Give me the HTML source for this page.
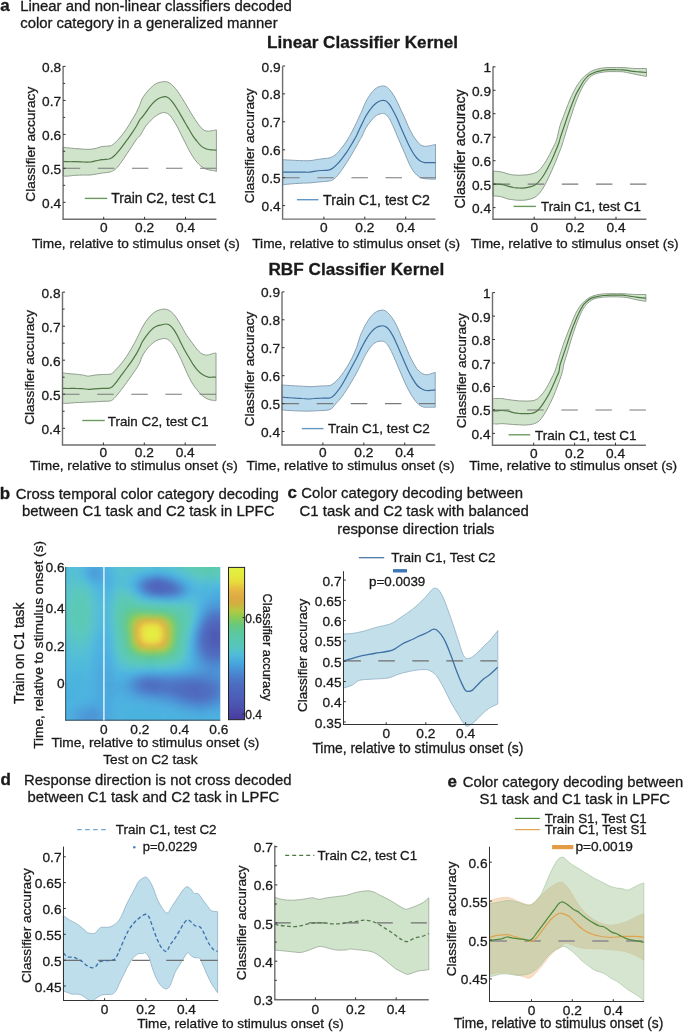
<!DOCTYPE html>
<html><head><meta charset="utf-8"><style>
html,body{margin:0;padding:0;background:#fff;}
svg{display:block;}
text{font-family:"Liberation Sans", sans-serif;fill:#1a1a1a;stroke:#1a1a1a;stroke-width:0.3px;}
</style></head><body>
<svg width="685" height="1033" viewBox="0 0 685 1033">
<rect width="685" height="1033" fill="#fff"/>
<text x="0.3" y="10.9" font-size="17" font-weight="bold">a</text>
<text x="20.2" y="10.8" font-size="14.9">Linear and non-linear classifiers decoded</text>
<text x="20.2" y="28.1" font-size="14.9">color category in a generalized manner</text>
<text x="362.5" y="48.3" font-size="17.1" text-anchor="middle" font-weight="bold">Linear Classifier Kernel</text>
<text x="356.3" y="275" font-size="17.2" text-anchor="middle" font-weight="bold">RBF Classifier Kernel</text>
<path d="M63.1,147.3C63.9,147.4 65.7,147.6 67.8,147.8C69.9,148.1 73.1,148.4 75.7,148.6C78.3,148.8 81.1,149 83.5,149.2C85.9,149.3 87.9,149.4 90.1,149.3C92.2,149.1 94.6,148.7 96.6,148.2C98.6,147.8 99.8,146.9 101.8,146.5C103.9,146.2 107.3,146.3 109,146C110.8,145.8 111.1,145.7 112.3,145C113.5,144.2 114.7,143.2 116.2,141.7C117.7,140.2 119.7,138 121.4,135.8C123.2,133.6 124.9,131.2 126.7,128.6C128.4,126 130.3,122.9 131.9,120.1C133.5,117.4 135.1,114.9 136.5,112.3C137.8,109.7 139.1,106.6 140,104.4C140.9,102.3 140.9,101.1 141.9,99.2C142.9,97.4 144.3,95.3 145.8,93.3C147.4,91.4 149.3,89.1 151.1,87.5C152.8,85.8 154.6,84.4 156.3,83.5C158,82.6 160,82.3 161.5,82C163.1,81.6 164.1,81.4 165.5,81.6C166.8,81.7 168.1,82.1 169.4,82.9C170.7,83.6 172,84.8 173.3,86.1C174.6,87.5 175.9,89 177.2,90.7C178.5,92.5 179.8,94.5 181.1,96.6C182.4,98.7 183.8,101 185.1,103.1C186.4,105.3 187.7,107.5 189,109.7C190.3,111.9 191.6,114.1 192.9,116.2C194.2,118.3 195.5,120.2 196.8,122.1C198.1,123.9 199.4,125.9 200.7,127.3C202.1,128.7 203.4,129.9 204.7,130.6C206,131.2 207.3,131.2 208.6,131.2C209.9,131.2 211.2,130.8 212.5,130.6C213.8,130.4 215.8,130 216.4,129.9L216.4,171.4C215.8,171.2 213.8,170.7 212.5,170.5C211.2,170.2 209.9,170.1 208.6,169.8C207.3,169.5 206,169.2 204.7,168.5C203.4,167.8 202.1,167 200.7,165.9C199.4,164.8 198.1,163.5 196.8,162C195.5,160.4 194.2,158.7 192.9,156.7C191.6,154.8 190.3,152.6 189,150.2C187.7,147.8 186.4,145 185.1,142.4C183.8,139.7 182.4,137.1 181.1,134.5C179.8,131.9 178.5,129.1 177.2,126.7C175.9,124.3 174.6,122.1 173.3,120.1C172,118.2 170.7,116.1 169.4,114.9C168.1,113.7 166.8,113 165.5,112.7C164.1,112.4 163.1,112.5 161.5,112.9C160,113.4 158,114.4 156.3,115.6C154.6,116.8 152.8,118.4 151.1,120.1C149.3,121.9 147.4,123.9 145.8,126C144.3,128.1 142.9,130.9 141.9,132.5C140.9,134.2 140.8,134.8 140,135.8C139.2,136.8 138.5,136.7 137.1,138.4C135.8,140.2 133.6,143.7 131.9,146.3C130.2,148.9 128.4,151.5 126.7,154.1C124.9,156.7 123.2,159.6 121.4,162C119.7,164.4 117.7,167 116.2,168.5C114.7,170 113.5,170.5 112.3,171.1C111.1,171.7 110.8,171.8 109,172.2C107.3,172.5 103.9,172.8 101.8,173.1C99.8,173.4 98.6,173.7 96.6,174C94.6,174.3 92.2,174.9 90.1,175C87.9,175.2 85.9,175 83.5,175C81.1,175.1 78.3,175.1 75.7,175.3C73.1,175.5 69.9,175.9 67.8,176.1C65.7,176.2 63.9,176.1 63.1,176.1Z" fill="#d0e3cb" stroke="#909e8d" stroke-width="1.0"/>
<line x1="63.7" y1="168.3" x2="216.4" y2="168.3" stroke="#7a7a7a" stroke-width="1.05" stroke-dasharray="16.5 17.6"/>
<path d="M63.1,161.3C63.9,161.4 65.7,161.6 67.8,161.7C69.9,161.8 73.1,161.7 75.7,161.7C78.3,161.7 81.1,161.9 83.5,162C85.9,162 87.9,162.2 90.1,162C92.2,161.7 94.6,161 96.6,160.7C98.6,160.3 99.8,159.9 101.8,159.6C103.9,159.3 107.3,159.3 109,159C110.8,158.6 111.1,158.2 112.3,157.4C113.5,156.5 114.7,155.5 116.2,153.9C117.7,152.2 119.7,149.8 121.4,147.6C123.2,145.3 124.9,142.8 126.7,140.4C128.4,138 130.3,135.6 131.9,133.2C133.5,130.8 135.1,128.3 136.5,126C137.8,123.7 139.1,120.9 140,119.5C140.9,118.1 140.9,118.7 141.9,117.5C142.9,116.3 144.3,114.4 145.8,112.3C147.4,110.2 149.3,107.2 151.1,105.1C152.8,103 154.6,101.2 156.3,99.9C158,98.6 160,97.8 161.5,97.3C163.1,96.7 164.1,96.4 165.5,96.6C166.8,96.8 168.1,97.5 169.4,98.6C170.7,99.7 172,101.4 173.3,103.1C174.6,104.9 175.9,106.9 177.2,109C178.5,111.1 179.8,113.3 181.1,115.6C182.4,117.8 183.8,120.5 185.1,122.7C186.4,125 187.7,127.1 189,129.3C190.3,131.5 191.6,133.9 192.9,135.8C194.2,137.8 195.5,139.4 196.8,141C198.1,142.7 199.4,144.4 200.7,145.6C202.1,146.8 203.4,147.6 204.7,148.2C206,148.9 207.3,149.3 208.6,149.5C209.9,149.8 211.2,149.8 212.5,149.9C213.8,150 215.8,150.2 216.4,150.2" fill="none" stroke="#4e7744" stroke-width="1.2" stroke-linejoin="round"/>
<line x1="63.1" y1="66.1" x2="63.1" y2="219.3" stroke="#6e6e6e" stroke-width="1.4"/>
<line x1="63.1" y1="202.3" x2="65.6" y2="202.3" stroke="#333" stroke-width="1"/>
<text x="61.1" y="207.8" font-size="13.7" text-anchor="end">0.4</text>
<line x1="63.1" y1="168.3" x2="65.6" y2="168.3" stroke="#333" stroke-width="1"/>
<text x="61.1" y="173.8" font-size="13.7" text-anchor="end">0.5</text>
<line x1="63.1" y1="134.4" x2="65.6" y2="134.4" stroke="#333" stroke-width="1"/>
<text x="61.1" y="139.9" font-size="13.7" text-anchor="end">0.6</text>
<line x1="63.1" y1="100.4" x2="65.6" y2="100.4" stroke="#333" stroke-width="1"/>
<text x="61.1" y="105.9" font-size="13.7" text-anchor="end">0.7</text>
<line x1="63.1" y1="66.4" x2="65.6" y2="66.4" stroke="#333" stroke-width="1"/>
<text x="61.1" y="71.9" font-size="13.7" text-anchor="end">0.8</text>
<line x1="63.1" y1="185.3" x2="65.2" y2="185.3" stroke="#333" stroke-width="1"/>
<line x1="63.1" y1="151.3" x2="65.2" y2="151.3" stroke="#333" stroke-width="1"/>
<line x1="63.1" y1="117.4" x2="65.2" y2="117.4" stroke="#333" stroke-width="1"/>
<line x1="63.1" y1="83.4" x2="65.2" y2="83.4" stroke="#333" stroke-width="1"/>
<line x1="62.4" y1="219.3" x2="216.4" y2="219.3" stroke="#6e6e6e" stroke-width="1.4"/>
<line x1="103.7" y1="219.3" x2="103.7" y2="216.8" stroke="#333" stroke-width="1"/>
<text x="103.7" y="232.4" font-size="13.7" text-anchor="middle">0</text>
<line x1="144.6" y1="219.3" x2="144.6" y2="216.8" stroke="#333" stroke-width="1"/>
<text x="144.6" y="232.4" font-size="13.7" text-anchor="middle">0.2</text>
<line x1="185.5" y1="219.3" x2="185.5" y2="216.8" stroke="#333" stroke-width="1"/>
<text x="185.5" y="232.4" font-size="13.7" text-anchor="middle">0.4</text>
<line x1="84.8" y1="198.4" x2="107.2" y2="198.4" stroke="#6c9a5e" stroke-width="1.4"/>
<text x="111.3" y="203" font-size="13.91" textLength="104.6" lengthAdjust="spacingAndGlyphs">Train C2, test C1</text>
<text x="34.6" y="144.2" font-size="13.7" text-anchor="middle" transform="rotate(-90 34.6 144.2)">Classifier accuracy</text>
<text x="135.9" y="247.6" font-size="13.7" text-anchor="middle">Time, relative to stimulus onset (s)</text>
<path d="M282.6,159.6C283.5,159.7 285.7,159.9 287.8,160C290,160.1 293.1,160.3 295.7,160.4C298.3,160.5 301.1,160.6 303.5,160.7C305.9,160.7 307.9,160.8 310.1,160.7C312.2,160.5 314.4,159.9 316.6,159.6C318.8,159.3 321.1,159 323.1,158.7C325.2,158.4 327.5,158.4 329,158C330.5,157.7 331.1,157.4 332.3,156.7C333.5,156.1 334.7,155.5 336.2,154.1C337.7,152.7 339.7,150.4 341.4,148.2C343.2,146.1 344.9,143.8 346.7,141C348.4,138.3 350.3,134.9 351.9,131.9C353.5,128.8 355.1,125.6 356.5,122.7C357.8,119.9 359.1,116.9 360,114.9C360.9,112.9 360.9,113.2 361.9,111C362.9,108.8 364.3,104.8 365.8,101.8C367.4,98.9 369.3,95.6 371.1,93.3C372.8,91 374.6,89.3 376.3,88.1C378,86.9 380,86.4 381.5,86.1C383.1,85.9 384.1,85.9 385.5,86.4C386.8,86.9 388.1,88 389.4,89.4C390.7,90.8 392,92.6 393.3,94.6C394.6,96.7 395.9,99.2 397.2,101.8C398.5,104.4 399.8,107.5 401.1,110.3C402.4,113.2 403.8,115.9 405.1,118.8C406.4,121.8 407.7,125.3 409,128C410.3,130.7 411.6,133 412.9,135.2C414.2,137.3 415.5,139.4 416.8,141C418.1,142.7 419.4,144.1 420.7,145C422.1,145.8 423.4,146.1 424.7,146.3C426,146.4 427.3,146.2 428.6,146C429.9,145.8 431.4,145.5 432.5,145.2C433.7,144.9 435,144.5 435.5,144.3L435.5,179.2C435,179.2 433.7,179.3 432.5,179.2C431.4,179.2 429.9,179 428.6,179C427.3,178.9 426,178.9 424.7,178.7C423.4,178.5 422.1,178.3 420.7,177.6C419.4,177 418.1,176.2 416.8,175C415.5,173.8 414.2,172.4 412.9,170.5C411.6,168.5 410.3,166 409,163.3C407.7,160.5 406.4,157.2 405.1,154.1C403.8,151.1 402.4,148 401.1,145C399.8,141.9 398.5,138.9 397.2,135.8C395.9,132.8 394.6,129.5 393.3,126.7C392,123.8 390.7,120.9 389.4,118.8C388.1,116.8 386.8,115.1 385.5,114.2C384.1,113.4 383.1,113.4 381.5,113.6C380,113.8 378,114.4 376.3,115.6C374.6,116.8 372.8,118.7 371.1,120.8C369.3,122.9 367.4,125.4 365.8,128C364.3,130.6 362.9,134.5 361.9,136.5C360.9,138.4 360.8,138.3 360,139.7C359.2,141.2 358.5,142.6 357.1,145C355.8,147.4 353.6,151.2 351.9,154.1C350.2,157.1 348.4,159.9 346.7,162.6C344.9,165.3 343.2,168.1 341.4,170.5C339.7,172.9 337.7,175.4 336.2,177C334.7,178.6 333.4,179.3 332.3,180C331.2,180.7 331.2,180.7 329.7,180.9C328.1,181.2 325.3,181.4 323.1,181.6C321,181.8 318.8,182 316.6,182.2C314.4,182.4 312.2,182.7 310.1,182.9C307.9,183 305.9,183 303.5,183.1C301.1,183.2 298.3,183.4 295.7,183.5C293.1,183.7 290,184 287.8,184.2C285.7,184.4 283.5,184.7 282.6,184.8Z" fill="#b9d9ec" stroke="#8aa2b4" stroke-width="1.0"/>
<line x1="283.2" y1="177.7" x2="435.5" y2="177.7" stroke="#7a7a7a" stroke-width="1.05" stroke-dasharray="16.5 17.6"/>
<path d="M282.6,172.2C283.5,172.2 285.7,172.2 287.8,172.2C290,172.2 293.1,172.2 295.7,172.2C298.3,172.2 301.4,172.2 303.5,172.2C305.7,172.2 307,172.3 308.8,172.2C310.5,172 311.8,171.7 314,171.4C316.2,171.1 319.4,170.7 321.8,170.5C324.2,170.3 326.6,170.5 328.4,170.2C330.1,169.9 331,169.3 332.3,168.5C333.6,167.7 334.7,166.8 336.2,165.2C337.7,163.7 339.7,161.5 341.4,159.3C343.2,157.2 344.9,154.8 346.7,152.2C348.4,149.5 350.3,146.4 351.9,143.7C353.5,140.9 355.1,138.4 356.5,135.8C357.8,133.2 359.1,129.9 360,128C360.9,126 360.9,126 361.9,124.1C362.9,122.1 364.3,118.8 365.8,116.2C367.4,113.6 369.3,110.5 371.1,108.4C372.8,106.2 374.6,104.4 376.3,103.1C378,101.8 380,100.9 381.5,100.5C383.1,100.1 384.1,100.1 385.5,100.8C386.8,101.4 388.1,102.7 389.4,104.4C390.7,106.1 392,108.6 393.3,111C394.6,113.4 395.9,116 397.2,118.8C398.5,121.7 399.8,124.9 401.1,128C402.4,131 403.8,134.2 405.1,137.1C406.4,140.1 407.7,143 409,145.6C410.3,148.2 411.6,150.7 412.9,152.8C414.2,154.9 415.5,156.6 416.8,158C418.1,159.5 419.4,160.5 420.7,161.3C422.1,162.1 423.4,162.4 424.7,162.6C426,162.8 427.3,162.6 428.6,162.6C429.9,162.6 431.4,162.6 432.5,162.6C433.7,162.6 435,162.6 435.5,162.6" fill="none" stroke="#3d6e9e" stroke-width="1.2" stroke-linejoin="round"/>
<line x1="282.6" y1="66.2" x2="282.6" y2="219.1" stroke="#6e6e6e" stroke-width="1.4"/>
<line x1="282.6" y1="205.6" x2="285.1" y2="205.6" stroke="#333" stroke-width="1"/>
<text x="280.6" y="211.1" font-size="13.7" text-anchor="end">0.4</text>
<line x1="282.6" y1="177.7" x2="285.1" y2="177.7" stroke="#333" stroke-width="1"/>
<text x="280.6" y="183.2" font-size="13.7" text-anchor="end">0.5</text>
<line x1="282.6" y1="149.8" x2="285.1" y2="149.8" stroke="#333" stroke-width="1"/>
<text x="280.6" y="155.3" font-size="13.7" text-anchor="end">0.6</text>
<line x1="282.6" y1="121.8" x2="285.1" y2="121.8" stroke="#333" stroke-width="1"/>
<text x="280.6" y="127.3" font-size="13.7" text-anchor="end">0.7</text>
<line x1="282.6" y1="93.9" x2="285.1" y2="93.9" stroke="#333" stroke-width="1"/>
<text x="280.6" y="99.4" font-size="13.7" text-anchor="end">0.8</text>
<line x1="282.6" y1="66" x2="285.1" y2="66" stroke="#333" stroke-width="1"/>
<text x="280.6" y="71.5" font-size="13.7" text-anchor="end">0.9</text>
<line x1="281.9" y1="219.1" x2="435.5" y2="219.1" stroke="#6e6e6e" stroke-width="1.4"/>
<line x1="323.9" y1="219.1" x2="323.9" y2="216.6" stroke="#333" stroke-width="1"/>
<text x="323.9" y="232.2" font-size="13.7" text-anchor="middle">0</text>
<line x1="364.8" y1="219.1" x2="364.8" y2="216.6" stroke="#333" stroke-width="1"/>
<text x="364.8" y="232.2" font-size="13.7" text-anchor="middle">0.2</text>
<line x1="405.7" y1="219.1" x2="405.7" y2="216.6" stroke="#333" stroke-width="1"/>
<text x="405.7" y="232.2" font-size="13.7" text-anchor="middle">0.4</text>
<line x1="296.9" y1="199.7" x2="318.5" y2="199.7" stroke="#6496c4" stroke-width="1.4"/>
<text x="323" y="204.8" font-size="14.23" textLength="107" lengthAdjust="spacingAndGlyphs">Train C1, test C2</text>
<text x="254" y="145.7" font-size="13.7" text-anchor="middle" transform="rotate(-90 254 145.7)">Classifier accuracy</text>
<text x="356.2" y="247.5" font-size="13.7" text-anchor="middle">Time, relative to stimulus onset (s)</text>
<path d="M493,171.1C493.9,171.2 496.5,171.3 498.2,171.5C499.8,171.7 501.3,171.9 502.8,172.3C504.4,172.7 505.8,173.3 507.5,173.8C509.3,174.2 511.4,174.7 513.4,175C515.3,175.2 517.3,175.3 519.2,175.3C521.1,175.3 523.1,175.2 525,175C527,174.8 529.1,174.5 530.9,174.1C532.6,173.8 534.2,173.3 535.5,172.6C536.9,172 537.9,171.4 539.1,170.3C540.2,169.2 541.4,167.8 542.6,166.2C543.7,164.6 544.9,162.9 546.1,160.9C547.2,159 548.4,156.8 549.6,154.5C550.7,152.3 551.9,150 553.1,147.5C554.2,145.1 555.4,143.6 556.6,139.9C557.7,136.3 558.8,129.8 560,125.7C561.2,121.6 562.6,118.7 563.9,115.2C565.3,111.7 566.6,108 567.9,104.7C569.2,101.4 570.5,98.3 571.8,95.5C573.1,92.6 574.5,89.9 575.8,87.6C577.1,85.3 578.4,83.4 579.7,81.7C581,79.9 582.3,78.4 583.6,77.1C585,75.8 586.3,74.8 587.6,73.8C588.9,72.8 590,71.9 591.5,71.2C593.1,70.4 594.8,69.7 596.8,69.2C598.8,68.6 601.2,68.2 603.4,67.9C605.5,67.6 607.7,67.6 609.9,67.5C612.1,67.4 614.3,67.5 616.5,67.5C618.7,67.5 620.9,67.5 623.1,67.6C625.3,67.7 627.4,68 629.6,68.1C631.8,68.3 633.4,68.5 636.2,68.5C639,68.6 644.7,68.5 646.4,68.5L646.4,76.4C644.7,76.1 639,75 636.2,74.5C633.4,73.9 631.8,73.6 629.6,73.1C627.4,72.7 625.3,72.1 623.1,71.8C620.9,71.6 618.7,71.6 616.5,71.6C614.3,71.5 612.1,71.5 609.9,71.6C607.7,71.6 605.5,71.8 603.4,72.1C601.2,72.4 598.8,72.8 596.8,73.4C594.8,74 593.1,74.7 591.5,75.8C590,76.8 588.9,78.2 587.6,79.7C586.3,81.2 585,82.8 583.6,85C582.3,87.2 581,90 579.7,92.8C578.4,95.7 577.1,98.5 575.8,102C574.5,105.5 573.1,109.9 571.8,113.9C570.5,117.8 569.2,121.5 567.9,125.7C566.6,129.9 564.9,135.8 563.9,138.8C563,141.9 563.2,141.6 562.4,144C561.6,146.4 560.1,150.3 558.9,153.4C557.7,156.4 556.6,159.3 555.4,162.1C554.2,164.9 553.1,167.7 551.9,170.3C550.7,172.9 549.6,175.5 548.4,177.9C547.2,180.3 546.1,182.7 544.9,184.9C543.7,187 542.6,189.1 541.4,190.7C540.2,192.4 539,193.7 537.9,194.8C536.8,195.9 536.1,196.5 535,197.2C533.8,197.8 532.5,198.4 530.9,198.9C529.2,199.4 527,199.8 525,200.1C523.1,200.3 521.1,200.3 519.2,200.3C517.3,200.3 515.3,200.1 513.4,199.8C511.4,199.6 509.3,199.4 507.5,198.9C505.8,198.5 504.4,197.6 502.8,197.2C501.3,196.7 499.8,196.5 498.2,196.3C496.5,196.1 493.9,196 493,196Z" fill="#d0e3cb" stroke="#909e8d" stroke-width="1.0"/>
<line x1="493.6" y1="184.1" x2="646.4" y2="184.1" stroke="#7a7a7a" stroke-width="1.05" stroke-dasharray="16.5 17.6"/>
<path d="M493,184.1C493.9,184.1 496.5,184 498.2,184.1C499.8,184.2 501.3,184.3 502.8,184.7C504.4,185 505.8,185.6 507.5,186.1C509.3,186.5 511.4,187.1 513.4,187.5C515.3,187.8 517.3,188 519.2,188C521.1,188.1 523.1,188 525,187.8C527,187.6 529.2,187.1 530.9,186.6C532.5,186.2 533.8,185.6 535,184.9C536.1,184.2 536.8,183.6 537.9,182.6C539,181.5 540.2,180 541.4,178.5C542.6,176.9 543.7,175.2 544.9,173.2C546.1,171.3 547.2,169 548.4,166.8C549.6,164.5 550.7,162.3 551.9,159.8C553.1,157.3 554.2,154.4 555.4,151.6C556.6,148.8 558.1,145 558.9,142.8C559.7,140.7 559.2,141.5 560,138.8C560.8,136.2 562.6,130.9 563.9,127C565.3,123.1 566.6,118.9 567.9,115.2C569.2,111.5 570.5,108.1 571.8,104.7C573.1,101.3 574.5,97.7 575.8,94.8C577.1,92 578.4,89.9 579.7,87.6C581,85.3 582.3,82.9 583.6,81C585,79.2 586.3,77.6 587.6,76.4C588.9,75.2 590,74.6 591.5,73.8C593.1,73 594.8,72.2 596.8,71.6C598.8,71 601.2,70.6 603.4,70.2C605.5,69.9 607.7,69.7 609.9,69.6C612.1,69.5 614.3,69.5 616.5,69.6C618.7,69.6 620.9,69.7 623.1,69.9C625.3,70.1 627.4,70.5 629.6,70.8C631.8,71.1 633.4,71.3 636.2,71.6C639,71.8 644.7,72.3 646.4,72.5" fill="none" stroke="#4e7744" stroke-width="1.2" stroke-linejoin="round"/>
<line x1="493" y1="66.4" x2="493" y2="219.2" stroke="#6e6e6e" stroke-width="1.4"/>
<line x1="493" y1="207.6" x2="495.5" y2="207.6" stroke="#333" stroke-width="1"/>
<text x="491" y="213.1" font-size="13.7" text-anchor="end">0.4</text>
<line x1="493" y1="184.1" x2="495.5" y2="184.1" stroke="#333" stroke-width="1"/>
<text x="491" y="189.6" font-size="13.7" text-anchor="end">0.5</text>
<line x1="493" y1="160.7" x2="495.5" y2="160.7" stroke="#333" stroke-width="1"/>
<text x="491" y="166.2" font-size="13.7" text-anchor="end">0.6</text>
<line x1="493" y1="137.2" x2="495.5" y2="137.2" stroke="#333" stroke-width="1"/>
<text x="491" y="142.7" font-size="13.7" text-anchor="end">0.7</text>
<line x1="493" y1="113.7" x2="495.5" y2="113.7" stroke="#333" stroke-width="1"/>
<text x="491" y="119.2" font-size="13.7" text-anchor="end">0.8</text>
<line x1="493" y1="90.3" x2="495.5" y2="90.3" stroke="#333" stroke-width="1"/>
<text x="491" y="95.8" font-size="13.7" text-anchor="end">0.9</text>
<line x1="493" y1="66.8" x2="495.5" y2="66.8" stroke="#333" stroke-width="1"/>
<text x="491" y="72.3" font-size="13.7" text-anchor="end">1</text>
<line x1="492.3" y1="219.2" x2="646.4" y2="219.2" stroke="#6e6e6e" stroke-width="1.4"/>
<line x1="534.2" y1="219.2" x2="534.2" y2="216.7" stroke="#333" stroke-width="1"/>
<text x="534.2" y="232.3" font-size="13.7" text-anchor="middle">0</text>
<line x1="575.1" y1="219.2" x2="575.1" y2="216.7" stroke="#333" stroke-width="1"/>
<text x="575.1" y="232.3" font-size="13.7" text-anchor="middle">0.2</text>
<line x1="616" y1="219.2" x2="616" y2="216.7" stroke="#333" stroke-width="1"/>
<text x="616" y="232.3" font-size="13.7" text-anchor="middle">0.4</text>
<line x1="513.6" y1="206.4" x2="535.9" y2="206.4" stroke="#6c9a5e" stroke-width="1.4"/>
<text x="541" y="211" font-size="13.3" textLength="100" lengthAdjust="spacingAndGlyphs">Train C1, test C1</text>
<text x="464.6" y="148.9" font-size="14.2" text-anchor="middle" transform="rotate(-90 464.6 148.9)">Classifier accuracy</text>
<text x="574.7" y="248.1" font-size="13.7" text-anchor="middle">Time, relative to stimulus onset (s)</text>
<path d="M62.5,372.8C63.4,373 65.6,373.4 67.8,373.6C70,373.8 73.1,373.9 75.7,374.2C78.3,374.4 81.5,374.8 83.5,375.2C85.6,375.5 86.4,376.2 88.1,376.2C89.8,376.2 91.7,375.5 94,375.2C96.3,374.9 99.3,374.7 101.8,374.5C104.3,374.4 107.3,374.5 109,374.3C110.8,374.1 111.1,374.1 112.3,373.2C113.5,372.4 114.7,370.9 116.2,369.3C117.7,367.7 119.7,365.6 121.4,363.4C123.2,361.3 124.9,358.9 126.7,356.2C128.4,353.6 130.3,350.6 131.9,347.7C133.5,344.9 135.1,341.9 136.5,339.2C137.8,336.6 139.1,333.9 140,332.1C140.9,330.2 140.9,329.9 141.9,328.1C142.9,326.4 144.3,323.8 145.8,321.6C147.4,319.4 149.3,316.8 151.1,315.1C152.8,313.3 154.6,312.1 156.3,311.1C158,310.2 160,309.8 161.5,309.4C163.1,309.1 164.1,309 165.5,309.2C166.8,309.4 168.1,309.7 169.4,310.5C170.7,311.3 172,312.3 173.3,313.8C174.6,315.2 175.9,317 177.2,319C178.5,320.9 179.8,323.2 181.1,325.5C182.4,327.8 183.8,330.5 185.1,332.7C186.4,334.9 187.7,336.7 189,338.6C190.3,340.4 191.6,342.1 192.9,343.8C194.2,345.6 195.5,347.5 196.8,349.1C198.1,350.6 199.4,352 200.7,353C202.1,354 203.4,354.6 204.7,354.9C206,355.3 207.3,355.2 208.6,354.9C209.9,354.7 211.3,354 212.5,353.6C213.7,353.3 215.4,353.1 216,353L216,400.7C215.4,400.6 213.7,400.5 212.5,400.3C211.3,400.1 209.9,399.9 208.6,399.4C207.3,398.9 206,398.3 204.7,397.4C203.4,396.5 202.1,395.5 200.7,394.2C199.4,392.8 198.1,391.2 196.8,389.6C195.5,387.9 194.2,386.4 192.9,384.3C191.6,382.3 190.3,379.8 189,377.2C187.7,374.5 186.4,371.6 185.1,368.7C183.8,365.7 182.4,362.3 181.1,359.5C179.8,356.7 178.5,354.1 177.2,351.7C175.9,349.3 174.6,347 173.3,345.1C172,343.3 170.7,341.6 169.4,340.6C168.1,339.5 166.8,338.9 165.5,338.6C164.1,338.3 163.1,338.5 161.5,338.9C160,339.2 158,339.6 156.3,340.6C154.6,341.5 152.8,342.8 151.1,344.5C149.3,346.1 147.4,348.3 145.8,350.4C144.3,352.4 142.9,354.9 141.9,356.9C140.9,358.9 140.8,360.4 140,362.1C139.2,363.9 138.5,365.2 137.1,367.4C135.8,369.5 133.6,372.7 131.9,375.2C130.2,377.7 128.4,380 126.7,382.4C124.9,384.8 123.2,387.3 121.4,389.6C119.7,391.9 117.7,394.4 116.2,396.1C114.7,397.9 113.5,399.2 112.3,400C111.1,400.9 110.5,400.9 109,401.1C107.5,401.3 105.2,401.2 103.1,401.3C101.1,401.4 98.8,401.6 96.6,401.7C94.4,401.8 92.2,401.9 90.1,402C87.9,402.1 85.9,402.1 83.5,402.3C81.1,402.4 78.3,402.5 75.7,402.6C73.1,402.8 70,403.2 67.8,403.3C65.6,403.4 63.4,403.3 62.5,403.3Z" fill="#d0e3cb" stroke="#909e8d" stroke-width="1.0"/>
<line x1="63.1" y1="394.2" x2="216" y2="394.2" stroke="#7a7a7a" stroke-width="1.05" stroke-dasharray="16.5 17.6"/>
<path d="M62.5,388.3C63.4,388.3 65.6,388.5 67.8,388.5C70,388.5 73.3,388.2 75.7,388.3C78.1,388.3 80,388.5 82.2,388.7C84.4,388.8 86.8,389.3 88.8,389.3C90.7,389.4 91.8,389.1 94,388.9C96.2,388.7 99.4,388.4 101.8,388.3C104.2,388.2 106.6,388.5 108.4,388.3C110.1,388 111,387.7 112.3,386.7C113.6,385.7 114.7,384.3 116.2,382.4C117.7,380.5 119.7,377.6 121.4,375.2C123.2,372.8 124.9,370.4 126.7,368C128.4,365.6 130.3,363.2 131.9,360.8C133.5,358.4 135.1,355.9 136.5,353.6C137.8,351.3 139.1,348.9 140,347.1C140.9,345.2 140.9,344.3 141.9,342.5C142.9,340.8 144.3,338.7 145.8,336.6C147.4,334.6 149.3,331.8 151.1,330.1C152.8,328.4 154.6,327 156.3,326.2C158,325.3 160,325.2 161.5,324.9C163.1,324.5 164.1,324 165.5,324C166.8,324 168.1,324.1 169.4,324.9C170.7,325.7 172,327 173.3,328.8C174.6,330.5 175.9,332.9 177.2,335.3C178.5,337.7 179.8,340.6 181.1,343.2C182.4,345.8 183.8,348.6 185.1,351C186.4,353.4 187.7,355.4 189,357.5C190.3,359.7 191.6,362.1 192.9,364.1C194.2,366 195.5,367.8 196.8,369.3C198.1,370.8 199.4,372.1 200.7,373.2C202.1,374.3 203.4,375.2 204.7,375.8C206,376.5 207.3,376.9 208.6,377.2C209.9,377.4 211.3,377.2 212.5,377.2C213.7,377.2 215.4,377.2 216,377.2" fill="none" stroke="#4e7744" stroke-width="1.2" stroke-linejoin="round"/>
<line x1="62.5" y1="292" x2="62.5" y2="445" stroke="#6e6e6e" stroke-width="1.4"/>
<line x1="62.5" y1="428.3" x2="65" y2="428.3" stroke="#333" stroke-width="1"/>
<text x="60.5" y="433.8" font-size="13.7" text-anchor="end">0.4</text>
<line x1="62.5" y1="394.2" x2="65" y2="394.2" stroke="#333" stroke-width="1"/>
<text x="60.5" y="399.8" font-size="13.7" text-anchor="end">0.5</text>
<line x1="62.5" y1="360.2" x2="65" y2="360.2" stroke="#333" stroke-width="1"/>
<text x="60.5" y="365.7" font-size="13.7" text-anchor="end">0.6</text>
<line x1="62.5" y1="326.2" x2="65" y2="326.2" stroke="#333" stroke-width="1"/>
<text x="60.5" y="331.7" font-size="13.7" text-anchor="end">0.7</text>
<line x1="62.5" y1="292.1" x2="65" y2="292.1" stroke="#333" stroke-width="1"/>
<text x="60.5" y="297.6" font-size="13.7" text-anchor="end">0.8</text>
<line x1="62.5" y1="411.3" x2="64.6" y2="411.3" stroke="#333" stroke-width="1"/>
<line x1="62.5" y1="377.2" x2="64.6" y2="377.2" stroke="#333" stroke-width="1"/>
<line x1="62.5" y1="343.2" x2="64.6" y2="343.2" stroke="#333" stroke-width="1"/>
<line x1="62.5" y1="309.1" x2="64.6" y2="309.1" stroke="#333" stroke-width="1"/>
<line x1="61.8" y1="445" x2="216" y2="445" stroke="#6e6e6e" stroke-width="1.4"/>
<line x1="103.4" y1="445" x2="103.4" y2="442.5" stroke="#333" stroke-width="1"/>
<text x="103.4" y="457.2" font-size="13.7" text-anchor="middle">0</text>
<line x1="144.3" y1="445" x2="144.3" y2="442.5" stroke="#333" stroke-width="1"/>
<text x="144.3" y="457.2" font-size="13.7" text-anchor="middle">0.2</text>
<line x1="185.2" y1="445" x2="185.2" y2="442.5" stroke="#333" stroke-width="1"/>
<text x="185.2" y="457.2" font-size="13.7" text-anchor="middle">0.4</text>
<line x1="82.3" y1="420.5" x2="104.7" y2="420.5" stroke="#6c9a5e" stroke-width="1.4"/>
<text x="107.8" y="425.5" font-size="13.38" textLength="100.6" lengthAdjust="spacingAndGlyphs">Train C2, test C1</text>
<text x="34" y="367.4" font-size="13.7" text-anchor="middle" transform="rotate(-90 34 367.4)">Classifier accuracy</text>
<text x="133.8" y="470.3" font-size="13.7" text-anchor="middle">Time, relative to stimulus onset (s)</text>
<path d="M282,385C283,385.1 285.6,385.2 287.8,385.4C290.1,385.5 293.1,385.8 295.7,385.9C298.3,386.1 301.1,386.2 303.5,386.3C305.9,386.4 307.9,386.7 310.1,386.7C312.2,386.7 314.4,386.4 316.6,386.3C318.8,386.2 321.1,386 323.1,385.9C325.2,385.8 327.5,385.9 329,385.7C330.5,385.4 331.1,385.1 332.3,384.3C333.5,383.6 334.7,382.6 336.2,381.1C337.7,379.6 339.7,377.5 341.4,375.2C343.2,372.9 344.9,370.2 346.7,367.4C348.4,364.5 350.3,361.5 351.9,358.2C353.5,354.9 355.1,351.3 356.5,347.7C357.8,344.2 359.1,339.2 360,336.6C360.9,334 360.9,334.1 361.9,332.1C362.9,330 364.3,326.8 365.8,324.2C367.4,321.6 369.3,318.4 371.1,316.4C372.8,314.3 374.6,312.8 376.3,311.8C378,310.8 380,310.3 381.5,310.1C383.1,309.9 384.1,310.2 385.5,310.9C386.8,311.6 388.1,313 389.4,314.4C390.7,315.9 392,317.6 393.3,319.6C394.6,321.7 395.9,324.1 397.2,326.8C398.5,329.6 399.8,332.9 401.1,336C402.4,339 403.8,342.1 405.1,345.1C406.4,348.2 407.7,351.4 409,354.3C410.3,357.1 411.6,359.7 412.9,362.1C414.2,364.5 415.5,366.9 416.8,368.7C418.1,370.4 419.4,371.6 420.7,372.6C422.1,373.6 423.4,374.2 424.7,374.5C426,374.9 427.3,374.8 428.6,374.5C429.9,374.3 431.4,373.6 432.5,373.2C433.6,372.9 434.8,372.5 435.2,372.3L435.2,407.2C434.8,407.2 433.6,407.2 432.5,407.2C431.4,407.2 429.9,407.2 428.6,407.2C427.3,407.2 426,407.4 424.7,407.2C423.4,407 422.1,406.7 420.7,405.9C419.4,405.2 418.1,404.1 416.8,402.6C415.5,401.2 414.2,399.4 412.9,397.4C411.6,395.5 410.3,393.3 409,390.9C407.7,388.5 406.4,385.9 405.1,383C403.8,380.2 402.4,376.9 401.1,373.9C399.8,370.8 398.5,367.8 397.2,364.7C395.9,361.7 394.6,358.4 393.3,355.6C392,352.8 390.7,349.9 389.4,347.7C388.1,345.6 386.8,343.6 385.5,342.5C384.1,341.4 383.1,341.3 381.5,341.2C380,341.1 378,341.3 376.3,342.1C374.6,343 372.8,344.4 371.1,346.4C369.3,348.5 367.4,351.7 365.8,354.3C364.3,356.9 362.9,360.2 361.9,362.1C360.9,364.1 360.8,364.4 360,366C359.2,367.7 358.5,369.4 357.1,371.9C355.8,374.4 353.6,378.1 351.9,381.1C350.2,384 348.4,386.9 346.7,389.6C344.9,392.3 343.2,395.1 341.4,397.4C339.7,399.7 337.7,401.6 336.2,403.3C334.7,405 333.5,406.8 332.3,407.9C331.1,409 330.5,409.4 329,409.8C327.5,410.3 325.2,410.3 323.1,410.5C321.1,410.6 318.8,410.6 316.6,410.8C314.4,410.9 312.2,411.1 310.1,411.1C307.9,411.2 305.9,411.2 303.5,411.1C301.1,411.1 298.3,410.9 295.7,410.8C293.1,410.6 290.1,410.6 287.8,410.5C285.6,410.3 283,409.9 282,409.8Z" fill="#b9d9ec" stroke="#8aa2b4" stroke-width="1.0"/>
<line x1="282.6" y1="403.6" x2="435.2" y2="403.6" stroke="#7a7a7a" stroke-width="1.05" stroke-dasharray="16.5 17.6"/>
<path d="M282,397.2C283,397.2 285.6,397.5 287.8,397.7C290.1,397.8 293.3,397.9 295.7,398.1C298.1,398.2 300,398.3 302.2,398.5C304.4,398.6 306.8,399 308.8,399C310.7,399 311.8,398.6 314,398.5C316.2,398.3 319.3,398.1 321.8,398.1C324.3,398 327.3,398.3 329,398.1C330.8,397.9 331.1,397.6 332.3,396.8C333.5,395.9 334.7,394.7 336.2,392.8C337.7,391 339.7,388.4 341.4,385.7C343.2,382.9 344.9,379.7 346.7,376.5C348.4,373.3 350.3,369.7 351.9,366.7C353.5,363.6 355.1,360.8 356.5,358.2C357.8,355.6 359.1,352.9 360,351C360.9,349.2 360.9,348.9 361.9,347.1C362.9,345.2 364.3,342.4 365.8,339.9C367.4,337.4 369.3,334.1 371.1,332.1C372.8,330 374.6,328.5 376.3,327.5C378,326.4 380,325.9 381.5,325.8C383.1,325.6 384.1,325.8 385.5,326.6C386.8,327.3 388.1,328.4 389.4,330.1C390.7,331.8 392,334.1 393.3,336.6C394.6,339.1 395.9,342.2 397.2,345.1C398.5,348.1 399.8,351.2 401.1,354.3C402.4,357.3 403.8,360.5 405.1,363.4C406.4,366.4 407.7,369.3 409,371.9C410.3,374.5 411.6,376.9 412.9,379.1C414.2,381.3 415.5,383.5 416.8,385C418.1,386.5 419.4,387.4 420.7,388.3C422.1,389.1 423.4,389.8 424.7,390.2C426,390.6 427.3,390.6 428.6,390.6C429.9,390.6 431.4,390.4 432.5,390.2C433.6,390.1 434.8,389.9 435.2,389.8" fill="none" stroke="#3d6e9e" stroke-width="1.2" stroke-linejoin="round"/>
<line x1="282" y1="292" x2="282" y2="445" stroke="#6e6e6e" stroke-width="1.4"/>
<line x1="282" y1="431.5" x2="284.5" y2="431.5" stroke="#333" stroke-width="1"/>
<text x="280" y="437" font-size="13.7" text-anchor="end">0.4</text>
<line x1="282" y1="403.6" x2="284.5" y2="403.6" stroke="#333" stroke-width="1"/>
<text x="280" y="409.1" font-size="13.7" text-anchor="end">0.5</text>
<line x1="282" y1="375.7" x2="284.5" y2="375.7" stroke="#333" stroke-width="1"/>
<text x="280" y="381.2" font-size="13.7" text-anchor="end">0.6</text>
<line x1="282" y1="347.7" x2="284.5" y2="347.7" stroke="#333" stroke-width="1"/>
<text x="280" y="353.2" font-size="13.7" text-anchor="end">0.7</text>
<line x1="282" y1="319.8" x2="284.5" y2="319.8" stroke="#333" stroke-width="1"/>
<text x="280" y="325.3" font-size="13.7" text-anchor="end">0.8</text>
<line x1="282" y1="291.9" x2="284.5" y2="291.9" stroke="#333" stroke-width="1"/>
<text x="280" y="297.4" font-size="13.7" text-anchor="end">0.9</text>
<line x1="281.3" y1="445" x2="435.2" y2="445" stroke="#6e6e6e" stroke-width="1.4"/>
<line x1="322.9" y1="445" x2="322.9" y2="442.5" stroke="#333" stroke-width="1"/>
<text x="322.9" y="457.2" font-size="13.7" text-anchor="middle">0</text>
<line x1="363.8" y1="445" x2="363.8" y2="442.5" stroke="#333" stroke-width="1"/>
<text x="363.8" y="457.2" font-size="13.7" text-anchor="middle">0.2</text>
<line x1="404.7" y1="445" x2="404.7" y2="442.5" stroke="#333" stroke-width="1"/>
<text x="404.7" y="457.2" font-size="13.7" text-anchor="middle">0.4</text>
<line x1="301.8" y1="428.6" x2="323.4" y2="428.6" stroke="#6496c4" stroke-width="1.4"/>
<text x="328" y="433.2" font-size="13.52" textLength="101.7" lengthAdjust="spacingAndGlyphs">Train C1, test C2</text>
<text x="254.2" y="369" font-size="13.7" text-anchor="middle" transform="rotate(-90 254.2 369)">Classifier accuracy</text>
<text x="350.5" y="470.4" font-size="13.7" text-anchor="middle">Time, relative to stimulus onset (s)</text>
<path d="M492.5,398.5C493.3,398.5 495.5,398.5 497,398.5C498.5,398.5 499.9,398.4 501.7,398.5C503.4,398.7 505.6,399.2 507.5,399.5C509.5,399.8 511.4,400.1 513.4,400.3C515.3,400.5 517.3,400.7 519.2,400.9C521.1,401 523.1,401.1 525,401.1C527,401.1 529.3,401 530.9,400.9C532.4,400.7 533.2,400.7 534.4,400.3C535.5,399.9 536.7,399.4 537.9,398.5C539.1,397.7 540.2,396.4 541.4,395C542.6,393.7 543.7,392.1 544.9,390.4C546.1,388.6 547.2,386.7 548.4,384.5C549.6,382.4 550.7,380 551.9,377.5C553.1,375.1 554.1,373.7 555.4,369.9C556.8,366.1 558.6,359.2 560,354.6C561.4,350.1 562.6,346.5 563.9,342.8C565.3,339.1 566.6,335.7 567.9,332.3C569.2,328.9 570.5,325.6 571.8,322.4C573.1,319.3 574.5,315.9 575.8,313.2C577.1,310.6 578.4,308.5 579.7,306.7C581,304.8 582.3,303.4 583.6,302.1C585,300.8 586.3,299.7 587.6,298.8C588.9,297.9 590,297.2 591.5,296.6C593.1,295.9 594.8,295.3 596.8,294.9C598.8,294.4 601.2,294.1 603.4,293.9C605.5,293.7 607.7,293.7 609.9,293.7C612.1,293.6 614.3,293.7 616.5,293.7C618.7,293.7 620.9,293.6 623.1,293.7C625.3,293.8 627.4,294.1 629.6,294.2C631.8,294.3 633.5,294.4 636.2,294.5C638.9,294.5 644.3,294.5 645.9,294.5L645.9,301.4C644.3,301.1 638.9,300.3 636.2,299.7C633.5,299.2 631.8,298.6 629.6,298.1C627.4,297.7 625.3,297.3 623.1,297.1C620.9,296.9 618.7,296.9 616.5,296.8C614.3,296.8 612.1,296.8 609.9,296.8C607.7,296.9 605.5,296.9 603.4,297.1C601.2,297.3 598.8,297.6 596.8,298.1C594.8,298.6 593.1,299.2 591.5,300.1C590,301 588.9,302.1 587.6,303.4C586.3,304.7 585,305.9 583.6,308C582.3,310.1 581,312.9 579.7,315.9C578.4,318.8 577.1,322.1 575.8,325.7C574.5,329.3 573.1,333.4 571.8,337.6C570.5,341.7 569.2,346.3 567.9,350.7C566.6,355.1 564.9,360.3 563.9,363.8C563,367.3 563.2,368.6 562.4,371.7C561.6,374.7 560.1,378.9 558.9,382.2C557.7,385.5 556.6,388.6 555.4,391.5C554.2,394.5 553.1,397.2 551.9,399.7C550.7,402.2 549.6,404.5 548.4,406.7C547.2,409 546.1,411.2 544.9,413.1C543.7,415.1 542.6,416.9 541.4,418.4C540.2,419.9 539.1,421 537.9,421.9C536.7,422.8 535.5,423.2 534.4,423.6C533.2,424.1 532.4,424.2 530.9,424.5C529.3,424.7 527,425 525,425.1C523.1,425.1 521.1,424.9 519.2,424.8C517.3,424.7 515.3,424.6 513.4,424.5C511.4,424.3 509.5,424.1 507.5,424C505.6,423.9 503.4,423.6 501.7,423.6C499.9,423.6 498.5,424 497,424C495.5,424 493.3,423.7 492.5,423.6Z" fill="#d0e3cb" stroke="#909e8d" stroke-width="1.0"/>
<line x1="493.1" y1="409.9" x2="645.9" y2="409.9" stroke="#7a7a7a" stroke-width="1.05" stroke-dasharray="16.5 17.6"/>
<path d="M492.5,410.8C493.3,410.8 495.5,410.9 497,410.8C498.5,410.7 499.9,410.4 501.7,410.5C503.4,410.5 505.6,410.7 507.5,411C509.5,411.4 511.4,412.1 513.4,412.6C515.3,413 517.3,413.3 519.2,413.5C521.1,413.7 523.1,413.7 525,413.7C527,413.7 529.3,413.7 530.9,413.5C532.4,413.3 533.2,413.1 534.4,412.6C535.5,412 536.7,411.3 537.9,410.2C539.1,409.1 540.2,407.7 541.4,406.1C542.6,404.6 543.7,402.7 544.9,400.9C546.1,399 547.2,397.2 548.4,395C549.6,392.9 550.7,390.6 551.9,388C553.1,385.5 554.2,382.6 555.4,379.9C556.6,377.1 558.1,374.1 558.9,371.7C559.7,369.2 559.2,368.2 560,365.1C560.8,362.1 562.6,357.3 563.9,353.3C565.3,349.4 566.6,345.4 567.9,341.5C569.2,337.6 570.5,333.3 571.8,329.7C573.1,326.1 574.5,322.9 575.8,319.8C577.1,316.8 578.4,313.8 579.7,311.3C581,308.8 582.3,306.5 583.6,304.7C585,303 586.3,301.9 587.6,300.8C588.9,299.7 590,298.8 591.5,298.1C593.1,297.4 594.8,297 596.8,296.6C598.8,296.1 601.2,295.7 603.4,295.5C605.5,295.3 607.7,295.3 609.9,295.2C612.1,295.2 614.3,295.2 616.5,295.2C618.7,295.2 620.9,295.1 623.1,295.2C625.3,295.4 627.4,295.9 629.6,296.2C631.8,296.5 633.5,296.8 636.2,297.1C638.9,297.4 644.3,298 645.9,298.1" fill="none" stroke="#4e7744" stroke-width="1.2" stroke-linejoin="round"/>
<line x1="492.5" y1="292.5" x2="492.5" y2="445.2" stroke="#6e6e6e" stroke-width="1.4"/>
<line x1="492.5" y1="433.4" x2="495" y2="433.4" stroke="#333" stroke-width="1"/>
<text x="490.5" y="438.9" font-size="13.7" text-anchor="end">0.4</text>
<line x1="492.5" y1="409.9" x2="495" y2="409.9" stroke="#333" stroke-width="1"/>
<text x="490.5" y="415.4" font-size="13.7" text-anchor="end">0.5</text>
<line x1="492.5" y1="386.5" x2="495" y2="386.5" stroke="#333" stroke-width="1"/>
<text x="490.5" y="392" font-size="13.7" text-anchor="end">0.6</text>
<line x1="492.5" y1="363" x2="495" y2="363" stroke="#333" stroke-width="1"/>
<text x="490.5" y="368.5" font-size="13.7" text-anchor="end">0.7</text>
<line x1="492.5" y1="339.5" x2="495" y2="339.5" stroke="#333" stroke-width="1"/>
<text x="490.5" y="345" font-size="13.7" text-anchor="end">0.8</text>
<line x1="492.5" y1="316.1" x2="495" y2="316.1" stroke="#333" stroke-width="1"/>
<text x="490.5" y="321.6" font-size="13.7" text-anchor="end">0.9</text>
<line x1="492.5" y1="292.6" x2="495" y2="292.6" stroke="#333" stroke-width="1"/>
<text x="490.5" y="298.1" font-size="13.7" text-anchor="end">1</text>
<line x1="491.8" y1="445.2" x2="645.9" y2="445.2" stroke="#6e6e6e" stroke-width="1.4"/>
<line x1="533.7" y1="445.2" x2="533.7" y2="442.7" stroke="#333" stroke-width="1"/>
<text x="533.7" y="457.8" font-size="13.7" text-anchor="middle">0</text>
<line x1="574.6" y1="445.2" x2="574.6" y2="442.7" stroke="#333" stroke-width="1"/>
<text x="574.6" y="457.8" font-size="13.7" text-anchor="middle">0.2</text>
<line x1="615.5" y1="445.2" x2="615.5" y2="442.7" stroke="#333" stroke-width="1"/>
<text x="615.5" y="457.8" font-size="13.7" text-anchor="middle">0.4</text>
<line x1="508.6" y1="434.8" x2="530.2" y2="434.8" stroke="#6c9a5e" stroke-width="1.4"/>
<text x="535" y="439.6" font-size="13.48" textLength="101.4" lengthAdjust="spacingAndGlyphs">Train C1, test C1</text>
<text x="466.4" y="370.7" font-size="13.7" text-anchor="middle" transform="rotate(-90 466.4 370.7)">Classifier accuracy</text>
<text x="573.2" y="470.4" font-size="13.7" text-anchor="middle">Time, relative to stimulus onset (s)</text>
<text x="-0.3" y="499" font-size="17" font-weight="bold">b</text>
<text x="15.7" y="499" font-size="14.9">Cross temporal color category decoding</text>
<text x="22" y="516" font-size="14.9">between C1 task and C2 task in LPFC</text>
<defs><clipPath id="hmclip"><rect x="65.4" y="566.9" width="154.9" height="153.7"/></clipPath><filter id="hmblur" x="-5%" y="-5%" width="110%" height="110%"><feGaussianBlur stdDeviation="2.2"/></filter></defs>
<g clip-path="url(#hmclip)"><g filter="url(#hmblur)">
<rect x="57.4" y="558.9" width="4.3" height="4.3" fill="#4cb6dc"/>
<rect x="61.4" y="558.9" width="4.3" height="4.3" fill="#4db8db"/>
<rect x="65.4" y="558.9" width="4.3" height="4.3" fill="#4eb9da"/>
<rect x="69.4" y="558.9" width="4.3" height="4.3" fill="#4fbad9"/>
<rect x="73.4" y="558.9" width="8.3" height="4.3" fill="#4fbbd9"/>
<rect x="81.4" y="558.9" width="4.3" height="4.3" fill="#4eb9da"/>
<rect x="85.4" y="558.9" width="4.3" height="4.3" fill="#4cb6dc"/>
<rect x="89.4" y="558.9" width="4.3" height="4.3" fill="#49b2df"/>
<rect x="93.4" y="558.9" width="4.3" height="4.3" fill="#48b0e0"/>
<rect x="97.4" y="558.9" width="4.3" height="4.3" fill="#48b1e0"/>
<rect x="101.4" y="558.9" width="4.3" height="4.3" fill="#4ab3de"/>
<rect x="105.4" y="558.9" width="4.3" height="4.3" fill="#4bb4dd"/>
<rect x="109.4" y="558.9" width="4.3" height="4.3" fill="#4cb7dc"/>
<rect x="113.4" y="558.9" width="4.3" height="4.3" fill="#50bcd8"/>
<rect x="117.4" y="558.9" width="4.3" height="4.3" fill="#51bed3"/>
<rect x="121.4" y="558.9" width="4.3" height="4.3" fill="#52bfd1"/>
<rect x="125.4" y="558.9" width="20.3" height="4.3" fill="#52bfd0"/>
<rect x="145.4" y="558.9" width="20.3" height="4.3" fill="#52bfd1"/>
<rect x="165.4" y="558.9" width="4.3" height="4.3" fill="#52bfd0"/>
<rect x="169.4" y="558.9" width="4.3" height="4.3" fill="#52c0ce"/>
<rect x="173.4" y="558.9" width="4.3" height="4.3" fill="#53c1cb"/>
<rect x="177.4" y="558.9" width="4.3" height="4.3" fill="#54c2c7"/>
<rect x="181.4" y="558.9" width="4.3" height="4.3" fill="#55c4c2"/>
<rect x="185.4" y="558.9" width="4.3" height="4.3" fill="#57c6bc"/>
<rect x="189.4" y="558.9" width="4.3" height="4.3" fill="#58c8b7"/>
<rect x="193.4" y="558.9" width="4.3" height="4.3" fill="#58c8b3"/>
<rect x="197.4" y="558.9" width="4.3" height="4.3" fill="#58c8b0"/>
<rect x="201.4" y="558.9" width="4.3" height="4.3" fill="#58c8ae"/>
<rect x="205.4" y="558.9" width="8.3" height="4.3" fill="#58c8ad"/>
<rect x="213.4" y="558.9" width="4.3" height="4.3" fill="#58c8ae"/>
<rect x="217.4" y="558.9" width="4.3" height="4.3" fill="#58c8b1"/>
<rect x="221.4" y="558.9" width="4.3" height="4.3" fill="#58c8b4"/>
<rect x="57.4" y="562.9" width="4.3" height="4.3" fill="#4db7db"/>
<rect x="61.4" y="562.9" width="4.3" height="4.3" fill="#4eb9da"/>
<rect x="65.4" y="562.9" width="4.3" height="4.3" fill="#4fbbd9"/>
<rect x="69.4" y="562.9" width="4.3" height="4.3" fill="#50bcd8"/>
<rect x="73.4" y="562.9" width="4.3" height="4.3" fill="#50bcd7"/>
<rect x="77.4" y="562.9" width="4.3" height="4.3" fill="#50bcd8"/>
<rect x="81.4" y="562.9" width="4.3" height="4.3" fill="#4db8db"/>
<rect x="85.4" y="562.9" width="4.3" height="4.3" fill="#4ab2de"/>
<rect x="89.4" y="562.9" width="4.3" height="4.3" fill="#48acdf"/>
<rect x="93.4" y="562.9" width="4.3" height="4.3" fill="#48a8dd"/>
<rect x="97.4" y="562.9" width="4.3" height="4.3" fill="#48acdf"/>
<rect x="101.4" y="562.9" width="4.3" height="4.3" fill="#4ab2de"/>
<rect x="105.4" y="562.9" width="4.3" height="4.3" fill="#4bb5dd"/>
<rect x="109.4" y="562.9" width="4.3" height="4.3" fill="#4db8db"/>
<rect x="113.4" y="562.9" width="4.3" height="4.3" fill="#51bdd5"/>
<rect x="117.4" y="562.9" width="4.3" height="4.3" fill="#52c0ce"/>
<rect x="121.4" y="562.9" width="4.3" height="4.3" fill="#53c0cc"/>
<rect x="125.4" y="562.9" width="8.3" height="4.3" fill="#53c1cb"/>
<rect x="133.4" y="562.9" width="4.3" height="4.3" fill="#53c1cc"/>
<rect x="137.4" y="562.9" width="4.3" height="4.3" fill="#53c0cc"/>
<rect x="141.4" y="562.9" width="4.3" height="4.3" fill="#53c0cd"/>
<rect x="145.4" y="562.9" width="4.3" height="4.3" fill="#52c0ce"/>
<rect x="149.4" y="562.9" width="16.3" height="4.3" fill="#52bfcf"/>
<rect x="165.4" y="562.9" width="4.3" height="4.3" fill="#53c0ce"/>
<rect x="169.4" y="562.9" width="4.3" height="4.3" fill="#53c1cc"/>
<rect x="173.4" y="562.9" width="4.3" height="4.3" fill="#54c2c9"/>
<rect x="177.4" y="562.9" width="4.3" height="4.3" fill="#55c3c4"/>
<rect x="181.4" y="562.9" width="4.3" height="4.3" fill="#56c5bf"/>
<rect x="185.4" y="562.9" width="4.3" height="4.3" fill="#58c8b8"/>
<rect x="189.4" y="562.9" width="4.3" height="4.3" fill="#58c8b5"/>
<rect x="193.4" y="562.9" width="4.3" height="4.3" fill="#58c8b1"/>
<rect x="197.4" y="562.9" width="4.3" height="4.3" fill="#58c8ae"/>
<rect x="201.4" y="562.9" width="4.3" height="4.3" fill="#58c8ac"/>
<rect x="205.4" y="562.9" width="4.3" height="4.3" fill="#58c8aa"/>
<rect x="209.4" y="562.9" width="4.3" height="4.3" fill="#58c8ab"/>
<rect x="213.4" y="562.9" width="4.3" height="4.3" fill="#58c8ac"/>
<rect x="217.4" y="562.9" width="4.3" height="4.3" fill="#58c8af"/>
<rect x="221.4" y="562.9" width="4.3" height="4.3" fill="#58c8b3"/>
<rect x="57.4" y="566.9" width="4.3" height="4.3" fill="#4db8db"/>
<rect x="61.4" y="566.9" width="4.3" height="4.3" fill="#4fbad9"/>
<rect x="65.4" y="566.9" width="4.3" height="4.3" fill="#50bcd8"/>
<rect x="69.4" y="566.9" width="4.3" height="4.3" fill="#51bdd6"/>
<rect x="73.4" y="566.9" width="4.3" height="4.3" fill="#51bdd5"/>
<rect x="77.4" y="566.9" width="4.3" height="4.3" fill="#50bbd8"/>
<rect x="81.4" y="566.9" width="4.3" height="4.3" fill="#4cb6dc"/>
<rect x="85.4" y="566.9" width="4.3" height="4.3" fill="#48addf"/>
<rect x="89.4" y="566.9" width="4.3" height="4.3" fill="#48a2db"/>
<rect x="93.4" y="566.9" width="4.3" height="4.3" fill="#489eda"/>
<rect x="97.4" y="566.9" width="4.3" height="4.3" fill="#48a4dc"/>
<rect x="101.4" y="566.9" width="4.3" height="4.3" fill="#48aedf"/>
<rect x="105.4" y="566.9" width="4.3" height="4.3" fill="#4ab3de"/>
<rect x="109.4" y="566.9" width="4.3" height="4.3" fill="#4db7db"/>
<rect x="113.4" y="566.9" width="4.3" height="4.3" fill="#51bdd6"/>
<rect x="117.4" y="566.9" width="4.3" height="4.3" fill="#52bfcf"/>
<rect x="121.4" y="566.9" width="8.3" height="4.3" fill="#53c0cd"/>
<rect x="129.4" y="566.9" width="4.3" height="4.3" fill="#53c0ce"/>
<rect x="133.4" y="566.9" width="4.3" height="4.3" fill="#52bfcf"/>
<rect x="137.4" y="566.9" width="4.3" height="4.3" fill="#52bfd1"/>
<rect x="141.4" y="566.9" width="4.3" height="4.3" fill="#51bed3"/>
<rect x="145.4" y="566.9" width="4.3" height="4.3" fill="#51bdd6"/>
<rect x="149.4" y="566.9" width="4.3" height="4.3" fill="#50bcd7"/>
<rect x="153.4" y="566.9" width="8.3" height="4.3" fill="#50bcd8"/>
<rect x="161.4" y="566.9" width="4.3" height="4.3" fill="#50bcd7"/>
<rect x="165.4" y="566.9" width="4.3" height="4.3" fill="#51bdd5"/>
<rect x="169.4" y="566.9" width="4.3" height="4.3" fill="#52bed2"/>
<rect x="173.4" y="566.9" width="4.3" height="4.3" fill="#53c0ce"/>
<rect x="177.4" y="566.9" width="4.3" height="4.3" fill="#54c2c9"/>
<rect x="181.4" y="566.9" width="4.3" height="4.3" fill="#55c4c3"/>
<rect x="185.4" y="566.9" width="4.3" height="4.3" fill="#57c6bc"/>
<rect x="189.4" y="566.9" width="4.3" height="4.3" fill="#58c8b7"/>
<rect x="193.4" y="566.9" width="4.3" height="4.3" fill="#58c8b3"/>
<rect x="197.4" y="566.9" width="4.3" height="4.3" fill="#58c8b0"/>
<rect x="201.4" y="566.9" width="4.3" height="4.3" fill="#58c8ae"/>
<rect x="205.4" y="566.9" width="8.3" height="4.3" fill="#58c8ad"/>
<rect x="213.4" y="566.9" width="4.3" height="4.3" fill="#58c8ae"/>
<rect x="217.4" y="566.9" width="4.3" height="4.3" fill="#58c8b1"/>
<rect x="221.4" y="566.9" width="4.3" height="4.3" fill="#58c8b4"/>
<rect x="57.4" y="570.9" width="4.3" height="4.3" fill="#4eb8da"/>
<rect x="61.4" y="570.9" width="4.3" height="4.3" fill="#4fbbd9"/>
<rect x="65.4" y="570.9" width="4.3" height="4.3" fill="#50bdd7"/>
<rect x="69.4" y="570.9" width="4.3" height="4.3" fill="#51bed4"/>
<rect x="73.4" y="570.9" width="4.3" height="4.3" fill="#51bed3"/>
<rect x="77.4" y="570.9" width="4.3" height="4.3" fill="#50bcd8"/>
<rect x="81.4" y="570.9" width="4.3" height="4.3" fill="#4cb5dc"/>
<rect x="85.4" y="570.9" width="4.3" height="4.3" fill="#48aade"/>
<rect x="89.4" y="570.9" width="4.3" height="4.3" fill="#489eda"/>
<rect x="93.4" y="570.9" width="4.3" height="4.3" fill="#4899d8"/>
<rect x="97.4" y="570.9" width="4.3" height="4.3" fill="#489fda"/>
<rect x="101.4" y="570.9" width="4.3" height="4.3" fill="#48aade"/>
<rect x="105.4" y="570.9" width="4.3" height="4.3" fill="#48b0e0"/>
<rect x="109.4" y="570.9" width="4.3" height="4.3" fill="#4bb4dd"/>
<rect x="113.4" y="570.9" width="4.3" height="4.3" fill="#4fbbd9"/>
<rect x="117.4" y="570.9" width="4.3" height="4.3" fill="#51bed3"/>
<rect x="121.4" y="570.9" width="4.3" height="4.3" fill="#52bfd1"/>
<rect x="125.4" y="570.9" width="4.3" height="4.3" fill="#51bed2"/>
<rect x="129.4" y="570.9" width="4.3" height="4.3" fill="#51bdd5"/>
<rect x="133.4" y="570.9" width="4.3" height="4.3" fill="#50bcd8"/>
<rect x="137.4" y="570.9" width="4.3" height="4.3" fill="#4eb8da"/>
<rect x="141.4" y="570.9" width="4.3" height="4.3" fill="#4bb5dd"/>
<rect x="145.4" y="570.9" width="4.3" height="4.3" fill="#49b2df"/>
<rect x="149.4" y="570.9" width="4.3" height="4.3" fill="#48afe0"/>
<rect x="153.4" y="570.9" width="8.3" height="4.3" fill="#48addf"/>
<rect x="161.4" y="570.9" width="4.3" height="4.3" fill="#48b0e0"/>
<rect x="165.4" y="570.9" width="4.3" height="4.3" fill="#4ab3de"/>
<rect x="169.4" y="570.9" width="4.3" height="4.3" fill="#4cb6dc"/>
<rect x="173.4" y="570.9" width="4.3" height="4.3" fill="#4fbad9"/>
<rect x="177.4" y="570.9" width="4.3" height="4.3" fill="#51bdd4"/>
<rect x="181.4" y="570.9" width="4.3" height="4.3" fill="#53c0cd"/>
<rect x="185.4" y="570.9" width="4.3" height="4.3" fill="#54c3c7"/>
<rect x="189.4" y="570.9" width="4.3" height="4.3" fill="#56c5c0"/>
<rect x="193.4" y="570.9" width="4.3" height="4.3" fill="#58c7ba"/>
<rect x="197.4" y="570.9" width="4.3" height="4.3" fill="#58c8b6"/>
<rect x="201.4" y="570.9" width="4.3" height="4.3" fill="#58c8b4"/>
<rect x="205.4" y="570.9" width="8.3" height="4.3" fill="#58c8b3"/>
<rect x="213.4" y="570.9" width="4.3" height="4.3" fill="#58c8b4"/>
<rect x="217.4" y="570.9" width="4.3" height="4.3" fill="#58c8b6"/>
<rect x="221.4" y="570.9" width="4.3" height="4.3" fill="#57c7ba"/>
<rect x="57.4" y="574.9" width="4.3" height="4.3" fill="#4eb9da"/>
<rect x="61.4" y="574.9" width="4.3" height="4.3" fill="#50bbd8"/>
<rect x="65.4" y="574.9" width="4.3" height="4.3" fill="#51bdd5"/>
<rect x="69.4" y="574.9" width="4.3" height="4.3" fill="#52bfd1"/>
<rect x="73.4" y="574.9" width="4.3" height="4.3" fill="#52bfd0"/>
<rect x="77.4" y="574.9" width="4.3" height="4.3" fill="#51bdd4"/>
<rect x="81.4" y="574.9" width="4.3" height="4.3" fill="#4eb8da"/>
<rect x="85.4" y="574.9" width="4.3" height="4.3" fill="#48afe0"/>
<rect x="89.4" y="574.9" width="4.3" height="4.3" fill="#48a3dc"/>
<rect x="93.4" y="574.9" width="4.3" height="4.3" fill="#489dda"/>
<rect x="97.4" y="574.9" width="4.3" height="4.3" fill="#48a1db"/>
<rect x="101.4" y="574.9" width="4.3" height="4.3" fill="#48a9de"/>
<rect x="105.4" y="574.9" width="4.3" height="4.3" fill="#48aedf"/>
<rect x="109.4" y="574.9" width="4.3" height="4.3" fill="#49b2df"/>
<rect x="113.4" y="574.9" width="4.3" height="4.3" fill="#4eb9da"/>
<rect x="117.4" y="574.9" width="4.3" height="4.3" fill="#51bdd6"/>
<rect x="121.4" y="574.9" width="4.3" height="4.3" fill="#51bdd5"/>
<rect x="125.4" y="574.9" width="4.3" height="4.3" fill="#50bcd8"/>
<rect x="129.4" y="574.9" width="4.3" height="4.3" fill="#4eb9da"/>
<rect x="133.4" y="574.9" width="4.3" height="4.3" fill="#4bb4dd"/>
<rect x="137.4" y="574.9" width="4.3" height="4.3" fill="#48addf"/>
<rect x="141.4" y="574.9" width="4.3" height="4.3" fill="#48a2db"/>
<rect x="145.4" y="574.9" width="4.3" height="4.3" fill="#4899d8"/>
<rect x="149.4" y="574.9" width="4.3" height="4.3" fill="#4991d4"/>
<rect x="153.4" y="574.9" width="4.3" height="4.3" fill="#498dd2"/>
<rect x="157.4" y="574.9" width="4.3" height="4.3" fill="#498dd3"/>
<rect x="161.4" y="574.9" width="4.3" height="4.3" fill="#4992d5"/>
<rect x="165.4" y="574.9" width="4.3" height="4.3" fill="#4899d8"/>
<rect x="169.4" y="574.9" width="4.3" height="4.3" fill="#48a2db"/>
<rect x="173.4" y="574.9" width="4.3" height="4.3" fill="#48acdf"/>
<rect x="177.4" y="574.9" width="4.3" height="4.3" fill="#4ab3de"/>
<rect x="181.4" y="574.9" width="4.3" height="4.3" fill="#4eb9da"/>
<rect x="185.4" y="574.9" width="4.3" height="4.3" fill="#51bdd4"/>
<rect x="189.4" y="574.9" width="4.3" height="4.3" fill="#53c0cd"/>
<rect x="193.4" y="574.9" width="4.3" height="4.3" fill="#54c2c7"/>
<rect x="197.4" y="574.9" width="4.3" height="4.3" fill="#55c4c3"/>
<rect x="201.4" y="574.9" width="4.3" height="4.3" fill="#56c5c0"/>
<rect x="205.4" y="574.9" width="8.3" height="4.3" fill="#56c6be"/>
<rect x="213.4" y="574.9" width="4.3" height="4.3" fill="#56c5c0"/>
<rect x="217.4" y="574.9" width="4.3" height="4.3" fill="#55c4c3"/>
<rect x="221.4" y="574.9" width="4.3" height="4.3" fill="#54c2c7"/>
<rect x="57.4" y="578.9" width="4.3" height="4.3" fill="#4fbad9"/>
<rect x="61.4" y="578.9" width="4.3" height="4.3" fill="#50bcd7"/>
<rect x="65.4" y="578.9" width="4.3" height="4.3" fill="#51bed2"/>
<rect x="69.4" y="578.9" width="4.3" height="4.3" fill="#53c0ce"/>
<rect x="73.4" y="578.9" width="4.3" height="4.3" fill="#53c1cc"/>
<rect x="77.4" y="578.9" width="4.3" height="4.3" fill="#53c0ce"/>
<rect x="81.4" y="578.9" width="4.3" height="4.3" fill="#51bdd4"/>
<rect x="85.4" y="578.9" width="4.3" height="4.3" fill="#4db7db"/>
<rect x="89.4" y="578.9" width="4.3" height="4.3" fill="#48afe0"/>
<rect x="93.4" y="578.9" width="4.3" height="4.3" fill="#48a7dd"/>
<rect x="97.4" y="578.9" width="4.3" height="4.3" fill="#48a8dd"/>
<rect x="101.4" y="578.9" width="4.3" height="4.3" fill="#48acdf"/>
<rect x="105.4" y="578.9" width="4.3" height="4.3" fill="#48aedf"/>
<rect x="109.4" y="578.9" width="4.3" height="4.3" fill="#49b2df"/>
<rect x="113.4" y="578.9" width="4.3" height="4.3" fill="#4eb9da"/>
<rect x="117.4" y="578.9" width="8.3" height="4.3" fill="#51bdd6"/>
<rect x="125.4" y="578.9" width="4.3" height="4.3" fill="#4fbbd9"/>
<rect x="129.4" y="578.9" width="4.3" height="4.3" fill="#4cb5dc"/>
<rect x="133.4" y="578.9" width="4.3" height="4.3" fill="#48acdf"/>
<rect x="137.4" y="578.9" width="4.3" height="4.3" fill="#489dda"/>
<rect x="141.4" y="578.9" width="4.3" height="4.3" fill="#498cd2"/>
<rect x="145.4" y="578.9" width="4.3" height="4.3" fill="#4a7cca"/>
<rect x="149.4" y="578.9" width="4.3" height="4.3" fill="#4b71c3"/>
<rect x="153.4" y="578.9" width="8.3" height="4.3" fill="#4c6cc0"/>
<rect x="161.4" y="578.9" width="4.3" height="4.3" fill="#4c70c3"/>
<rect x="165.4" y="578.9" width="4.3" height="4.3" fill="#4b79c8"/>
<rect x="169.4" y="578.9" width="4.3" height="4.3" fill="#4a85ce"/>
<rect x="173.4" y="578.9" width="4.3" height="4.3" fill="#4892d5"/>
<rect x="177.4" y="578.9" width="4.3" height="4.3" fill="#48a0db"/>
<rect x="181.4" y="578.9" width="4.3" height="4.3" fill="#48acdf"/>
<rect x="185.4" y="578.9" width="4.3" height="4.3" fill="#4bb5dd"/>
<rect x="189.4" y="578.9" width="4.3" height="4.3" fill="#4fbad9"/>
<rect x="193.4" y="578.9" width="4.3" height="4.3" fill="#51bdd4"/>
<rect x="197.4" y="578.9" width="4.3" height="4.3" fill="#52bfd1"/>
<rect x="201.4" y="578.9" width="4.3" height="4.3" fill="#52c0ce"/>
<rect x="205.4" y="578.9" width="8.3" height="4.3" fill="#53c0ce"/>
<rect x="213.4" y="578.9" width="4.3" height="4.3" fill="#52bfcf"/>
<rect x="217.4" y="578.9" width="4.3" height="4.3" fill="#52bfd1"/>
<rect x="221.4" y="578.9" width="4.3" height="4.3" fill="#51bed3"/>
<rect x="57.4" y="582.9" width="4.3" height="4.3" fill="#4fbbd9"/>
<rect x="61.4" y="582.9" width="4.3" height="4.3" fill="#51bdd5"/>
<rect x="65.4" y="582.9" width="4.3" height="4.3" fill="#52bfcf"/>
<rect x="69.4" y="582.9" width="4.3" height="4.3" fill="#54c1ca"/>
<rect x="73.4" y="582.9" width="4.3" height="4.3" fill="#54c3c7"/>
<rect x="77.4" y="582.9" width="4.3" height="4.3" fill="#54c3c6"/>
<rect x="81.4" y="582.9" width="4.3" height="4.3" fill="#53c1ca"/>
<rect x="85.4" y="582.9" width="4.3" height="4.3" fill="#51bed3"/>
<rect x="89.4" y="582.9" width="4.3" height="4.3" fill="#4db8db"/>
<rect x="93.4" y="582.9" width="4.3" height="4.3" fill="#49b2df"/>
<rect x="97.4" y="582.9" width="4.3" height="4.3" fill="#48b0e0"/>
<rect x="101.4" y="582.9" width="4.3" height="4.3" fill="#48b1e0"/>
<rect x="105.4" y="582.9" width="4.3" height="4.3" fill="#48b0e0"/>
<rect x="109.4" y="582.9" width="4.3" height="4.3" fill="#4ab3de"/>
<rect x="113.4" y="582.9" width="4.3" height="4.3" fill="#4fbbd9"/>
<rect x="117.4" y="582.9" width="8.3" height="4.3" fill="#51bed3"/>
<rect x="125.4" y="582.9" width="4.3" height="4.3" fill="#50bcd8"/>
<rect x="129.4" y="582.9" width="4.3" height="4.3" fill="#4bb5dd"/>
<rect x="133.4" y="582.9" width="4.3" height="4.3" fill="#48a7dd"/>
<rect x="137.4" y="582.9" width="4.3" height="4.3" fill="#4894d6"/>
<rect x="141.4" y="582.9" width="4.3" height="4.3" fill="#4a7dca"/>
<rect x="145.4" y="582.9" width="4.3" height="4.3" fill="#4c6cc0"/>
<rect x="149.4" y="582.9" width="4.3" height="4.3" fill="#4c66bd"/>
<rect x="153.4" y="582.9" width="8.3" height="4.3" fill="#4c62bb"/>
<rect x="161.4" y="582.9" width="4.3" height="4.3" fill="#4c64bc"/>
<rect x="165.4" y="582.9" width="4.3" height="4.3" fill="#4c68be"/>
<rect x="169.4" y="582.9" width="4.3" height="4.3" fill="#4c6dc0"/>
<rect x="173.4" y="582.9" width="4.3" height="4.3" fill="#4b7ac8"/>
<rect x="177.4" y="582.9" width="4.3" height="4.3" fill="#498ad1"/>
<rect x="181.4" y="582.9" width="4.3" height="4.3" fill="#489bd9"/>
<rect x="185.4" y="582.9" width="4.3" height="4.3" fill="#48aade"/>
<rect x="189.4" y="582.9" width="4.3" height="4.3" fill="#4ab3de"/>
<rect x="193.4" y="582.9" width="4.3" height="4.3" fill="#4db8db"/>
<rect x="197.4" y="582.9" width="4.3" height="4.3" fill="#4fbad9"/>
<rect x="201.4" y="582.9" width="12.3" height="4.3" fill="#4fbbd9"/>
<rect x="213.4" y="582.9" width="4.3" height="4.3" fill="#4fbad9"/>
<rect x="217.4" y="582.9" width="8.3" height="4.3" fill="#4eb9da"/>
<rect x="57.4" y="586.9" width="4.3" height="4.3" fill="#50bcd8"/>
<rect x="61.4" y="586.9" width="4.3" height="4.3" fill="#51bed2"/>
<rect x="65.4" y="586.9" width="4.3" height="4.3" fill="#53c1cc"/>
<rect x="69.4" y="586.9" width="4.3" height="4.3" fill="#55c3c6"/>
<rect x="73.4" y="586.9" width="4.3" height="4.3" fill="#56c4c2"/>
<rect x="77.4" y="586.9" width="4.3" height="4.3" fill="#56c5c0"/>
<rect x="81.4" y="586.9" width="4.3" height="4.3" fill="#56c4c2"/>
<rect x="85.4" y="586.9" width="4.3" height="4.3" fill="#54c2c8"/>
<rect x="89.4" y="586.9" width="4.3" height="4.3" fill="#51bed3"/>
<rect x="93.4" y="586.9" width="4.3" height="4.3" fill="#4db8db"/>
<rect x="97.4" y="586.9" width="4.3" height="4.3" fill="#4bb4dd"/>
<rect x="101.4" y="586.9" width="4.3" height="4.3" fill="#4ab4de"/>
<rect x="105.4" y="586.9" width="4.3" height="4.3" fill="#4ab3de"/>
<rect x="109.4" y="586.9" width="4.3" height="4.3" fill="#4cb5dc"/>
<rect x="113.4" y="586.9" width="4.3" height="4.3" fill="#51bdd6"/>
<rect x="117.4" y="586.9" width="4.3" height="4.3" fill="#53c0cd"/>
<rect x="121.4" y="586.9" width="4.3" height="4.3" fill="#53c0cc"/>
<rect x="125.4" y="586.9" width="4.3" height="4.3" fill="#51bed2"/>
<rect x="129.4" y="586.9" width="4.3" height="4.3" fill="#4db8db"/>
<rect x="133.4" y="586.9" width="4.3" height="4.3" fill="#48acdf"/>
<rect x="137.4" y="586.9" width="4.3" height="4.3" fill="#4897d7"/>
<rect x="141.4" y="586.9" width="4.3" height="4.3" fill="#4a80cc"/>
<rect x="145.4" y="586.9" width="4.3" height="4.3" fill="#4c6dc0"/>
<rect x="149.4" y="586.9" width="4.3" height="4.3" fill="#4c66bd"/>
<rect x="153.4" y="586.9" width="4.3" height="4.3" fill="#4c62bb"/>
<rect x="157.4" y="586.9" width="4.3" height="4.3" fill="#4c61bb"/>
<rect x="161.4" y="586.9" width="4.3" height="4.3" fill="#4c62bb"/>
<rect x="165.4" y="586.9" width="4.3" height="4.3" fill="#4c65bc"/>
<rect x="169.4" y="586.9" width="4.3" height="4.3" fill="#4c69be"/>
<rect x="173.4" y="586.9" width="4.3" height="4.3" fill="#4c70c2"/>
<rect x="177.4" y="586.9" width="4.3" height="4.3" fill="#4a7fcb"/>
<rect x="181.4" y="586.9" width="4.3" height="4.3" fill="#4992d5"/>
<rect x="185.4" y="586.9" width="4.3" height="4.3" fill="#48a3dc"/>
<rect x="189.4" y="586.9" width="4.3" height="4.3" fill="#48afe0"/>
<rect x="193.4" y="586.9" width="4.3" height="4.3" fill="#4bb4dd"/>
<rect x="197.4" y="586.9" width="12.3" height="4.3" fill="#4cb6dc"/>
<rect x="209.4" y="586.9" width="4.3" height="4.3" fill="#4bb5dd"/>
<rect x="213.4" y="586.9" width="8.3" height="4.3" fill="#4bb4dd"/>
<rect x="221.4" y="586.9" width="4.3" height="4.3" fill="#4ab4de"/>
<rect x="57.4" y="590.9" width="4.3" height="4.3" fill="#50bdd6"/>
<rect x="61.4" y="590.9" width="4.3" height="4.3" fill="#52bfd0"/>
<rect x="65.4" y="590.9" width="4.3" height="4.3" fill="#54c2c9"/>
<rect x="69.4" y="590.9" width="4.3" height="4.3" fill="#56c4c2"/>
<rect x="73.4" y="590.9" width="4.3" height="4.3" fill="#57c6bd"/>
<rect x="77.4" y="590.9" width="4.3" height="4.3" fill="#57c7bb"/>
<rect x="81.4" y="590.9" width="4.3" height="4.3" fill="#57c7bc"/>
<rect x="85.4" y="590.9" width="4.3" height="4.3" fill="#56c4c2"/>
<rect x="89.4" y="590.9" width="4.3" height="4.3" fill="#53c0cd"/>
<rect x="93.4" y="590.9" width="4.3" height="4.3" fill="#4fbbd9"/>
<rect x="97.4" y="590.9" width="4.3" height="4.3" fill="#4cb7dc"/>
<rect x="101.4" y="590.9" width="4.3" height="4.3" fill="#4cb6dc"/>
<rect x="105.4" y="590.9" width="4.3" height="4.3" fill="#4bb5dd"/>
<rect x="109.4" y="590.9" width="4.3" height="4.3" fill="#4db8db"/>
<rect x="113.4" y="590.9" width="4.3" height="4.3" fill="#52bfd0"/>
<rect x="117.4" y="590.9" width="4.3" height="4.3" fill="#55c3c6"/>
<rect x="121.4" y="590.9" width="4.3" height="4.3" fill="#55c4c3"/>
<rect x="125.4" y="590.9" width="4.3" height="4.3" fill="#54c2c8"/>
<rect x="129.4" y="590.9" width="4.3" height="4.3" fill="#52bed2"/>
<rect x="133.4" y="590.9" width="4.3" height="4.3" fill="#4cb6dc"/>
<rect x="137.4" y="590.9" width="4.3" height="4.3" fill="#48a7dd"/>
<rect x="141.4" y="590.9" width="4.3" height="4.3" fill="#4894d6"/>
<rect x="145.4" y="590.9" width="4.3" height="4.3" fill="#4a81cc"/>
<rect x="149.4" y="590.9" width="4.3" height="4.3" fill="#4b74c5"/>
<rect x="153.4" y="590.9" width="4.3" height="4.3" fill="#4c6cc0"/>
<rect x="157.4" y="590.9" width="8.3" height="4.3" fill="#4c6bbf"/>
<rect x="165.4" y="590.9" width="4.3" height="4.3" fill="#4c6cc0"/>
<rect x="169.4" y="590.9" width="4.3" height="4.3" fill="#4b71c3"/>
<rect x="173.4" y="590.9" width="4.3" height="4.3" fill="#4b7ac8"/>
<rect x="177.4" y="590.9" width="4.3" height="4.3" fill="#4987cf"/>
<rect x="181.4" y="590.9" width="4.3" height="4.3" fill="#4897d8"/>
<rect x="185.4" y="590.9" width="4.3" height="4.3" fill="#48a7dd"/>
<rect x="189.4" y="590.9" width="4.3" height="4.3" fill="#49b1df"/>
<rect x="193.4" y="590.9" width="4.3" height="4.3" fill="#4bb4dd"/>
<rect x="197.4" y="590.9" width="4.3" height="4.3" fill="#4bb5dd"/>
<rect x="201.4" y="590.9" width="4.3" height="4.3" fill="#4ab3de"/>
<rect x="205.4" y="590.9" width="4.3" height="4.3" fill="#49b2df"/>
<rect x="209.4" y="590.9" width="4.3" height="4.3" fill="#48b0e0"/>
<rect x="213.4" y="590.9" width="12.3" height="4.3" fill="#48afe0"/>
<rect x="57.4" y="594.9" width="4.3" height="4.3" fill="#51bdd5"/>
<rect x="61.4" y="594.9" width="4.3" height="4.3" fill="#53c0cd"/>
<rect x="65.4" y="594.9" width="4.3" height="4.3" fill="#55c3c6"/>
<rect x="69.4" y="594.9" width="4.3" height="4.3" fill="#56c6be"/>
<rect x="73.4" y="594.9" width="4.3" height="4.3" fill="#58c8b9"/>
<rect x="77.4" y="594.9" width="4.3" height="4.3" fill="#58c8b7"/>
<rect x="81.4" y="594.9" width="4.3" height="4.3" fill="#58c8b8"/>
<rect x="85.4" y="594.9" width="4.3" height="4.3" fill="#57c6bd"/>
<rect x="89.4" y="594.9" width="4.3" height="4.3" fill="#54c2c9"/>
<rect x="93.4" y="594.9" width="4.3" height="4.3" fill="#50bdd6"/>
<rect x="97.4" y="594.9" width="4.3" height="4.3" fill="#4eb8da"/>
<rect x="101.4" y="594.9" width="4.3" height="4.3" fill="#4db7db"/>
<rect x="105.4" y="594.9" width="4.3" height="4.3" fill="#4cb6dc"/>
<rect x="109.4" y="594.9" width="4.3" height="4.3" fill="#4fbad9"/>
<rect x="113.4" y="594.9" width="4.3" height="4.3" fill="#54c1ca"/>
<rect x="117.4" y="594.9" width="4.3" height="4.3" fill="#57c6bd"/>
<rect x="121.4" y="594.9" width="4.3" height="4.3" fill="#58c8b9"/>
<rect x="125.4" y="594.9" width="4.3" height="4.3" fill="#57c7bb"/>
<rect x="129.4" y="594.9" width="4.3" height="4.3" fill="#56c4c2"/>
<rect x="133.4" y="594.9" width="4.3" height="4.3" fill="#53c0cd"/>
<rect x="137.4" y="594.9" width="4.3" height="4.3" fill="#4fbad9"/>
<rect x="141.4" y="594.9" width="4.3" height="4.3" fill="#48b0e0"/>
<rect x="145.4" y="594.9" width="4.3" height="4.3" fill="#48a4dc"/>
<rect x="149.4" y="594.9" width="4.3" height="4.3" fill="#489ad9"/>
<rect x="153.4" y="594.9" width="4.3" height="4.3" fill="#4893d6"/>
<rect x="157.4" y="594.9" width="4.3" height="4.3" fill="#4990d4"/>
<rect x="161.4" y="594.9" width="4.3" height="4.3" fill="#498fd4"/>
<rect x="165.4" y="594.9" width="4.3" height="4.3" fill="#4990d4"/>
<rect x="169.4" y="594.9" width="4.3" height="4.3" fill="#4992d5"/>
<rect x="173.4" y="594.9" width="4.3" height="4.3" fill="#4897d8"/>
<rect x="177.4" y="594.9" width="4.3" height="4.3" fill="#48a0db"/>
<rect x="181.4" y="594.9" width="4.3" height="4.3" fill="#48aade"/>
<rect x="185.4" y="594.9" width="4.3" height="4.3" fill="#4ab3de"/>
<rect x="189.4" y="594.9" width="4.3" height="4.3" fill="#4cb7dc"/>
<rect x="193.4" y="594.9" width="4.3" height="4.3" fill="#4db7db"/>
<rect x="197.4" y="594.9" width="4.3" height="4.3" fill="#4bb5dd"/>
<rect x="201.4" y="594.9" width="4.3" height="4.3" fill="#49b1df"/>
<rect x="205.4" y="594.9" width="4.3" height="4.3" fill="#48aedf"/>
<rect x="209.4" y="594.9" width="4.3" height="4.3" fill="#48aade"/>
<rect x="213.4" y="594.9" width="8.3" height="4.3" fill="#48a9de"/>
<rect x="221.4" y="594.9" width="4.3" height="4.3" fill="#48aade"/>
<rect x="57.4" y="598.9" width="4.3" height="4.3" fill="#51bed3"/>
<rect x="61.4" y="598.9" width="4.3" height="4.3" fill="#53c1cc"/>
<rect x="65.4" y="598.9" width="4.3" height="4.3" fill="#55c4c3"/>
<rect x="69.4" y="598.9" width="4.3" height="4.3" fill="#57c7bb"/>
<rect x="73.4" y="598.9" width="4.3" height="4.3" fill="#58c8b7"/>
<rect x="77.4" y="598.9" width="4.3" height="4.3" fill="#58c8b5"/>
<rect x="81.4" y="598.9" width="4.3" height="4.3" fill="#58c8b6"/>
<rect x="85.4" y="598.9" width="4.3" height="4.3" fill="#58c7ba"/>
<rect x="89.4" y="598.9" width="4.3" height="4.3" fill="#55c3c6"/>
<rect x="93.4" y="598.9" width="4.3" height="4.3" fill="#51bed4"/>
<rect x="97.4" y="598.9" width="4.3" height="4.3" fill="#4ebada"/>
<rect x="101.4" y="598.9" width="4.3" height="4.3" fill="#4eb9da"/>
<rect x="105.4" y="598.9" width="4.3" height="4.3" fill="#4db8db"/>
<rect x="109.4" y="598.9" width="4.3" height="4.3" fill="#50bcd7"/>
<rect x="113.4" y="598.9" width="4.3" height="4.3" fill="#55c4c4"/>
<rect x="117.4" y="598.9" width="4.3" height="4.3" fill="#58c8b7"/>
<rect x="121.4" y="598.9" width="4.3" height="4.3" fill="#58c8b3"/>
<rect x="125.4" y="598.9" width="4.3" height="4.3" fill="#58c8b2"/>
<rect x="129.4" y="598.9" width="4.3" height="4.3" fill="#58c8b4"/>
<rect x="133.4" y="598.9" width="4.3" height="4.3" fill="#58c8b8"/>
<rect x="137.4" y="598.9" width="4.3" height="4.3" fill="#56c5c1"/>
<rect x="141.4" y="598.9" width="4.3" height="4.3" fill="#53c1ca"/>
<rect x="145.4" y="598.9" width="4.3" height="4.3" fill="#51bed3"/>
<rect x="149.4" y="598.9" width="4.3" height="4.3" fill="#50bbd8"/>
<rect x="153.4" y="598.9" width="4.3" height="4.3" fill="#4eb9da"/>
<rect x="157.4" y="598.9" width="4.3" height="4.3" fill="#4db7db"/>
<rect x="161.4" y="598.9" width="12.3" height="4.3" fill="#4cb6dc"/>
<rect x="173.4" y="598.9" width="4.3" height="4.3" fill="#4cb7dc"/>
<rect x="177.4" y="598.9" width="4.3" height="4.3" fill="#4eb9da"/>
<rect x="181.4" y="598.9" width="4.3" height="4.3" fill="#50bcd8"/>
<rect x="185.4" y="598.9" width="8.3" height="4.3" fill="#51bdd5"/>
<rect x="193.4" y="598.9" width="4.3" height="4.3" fill="#4fbad9"/>
<rect x="197.4" y="598.9" width="4.3" height="4.3" fill="#4cb5dc"/>
<rect x="201.4" y="598.9" width="4.3" height="4.3" fill="#48afe0"/>
<rect x="205.4" y="598.9" width="4.3" height="4.3" fill="#48a8dd"/>
<rect x="209.4" y="598.9" width="4.3" height="4.3" fill="#48a3dc"/>
<rect x="213.4" y="598.9" width="8.3" height="4.3" fill="#48a1db"/>
<rect x="221.4" y="598.9" width="4.3" height="4.3" fill="#48a3dc"/>
<rect x="57.4" y="602.9" width="4.3" height="4.3" fill="#51bed2"/>
<rect x="61.4" y="602.9" width="4.3" height="4.3" fill="#53c1ca"/>
<rect x="65.4" y="602.9" width="4.3" height="4.3" fill="#56c4c1"/>
<rect x="69.4" y="602.9" width="4.3" height="4.3" fill="#58c8b9"/>
<rect x="73.4" y="602.9" width="4.3" height="4.3" fill="#58c8b6"/>
<rect x="77.4" y="602.9" width="8.3" height="4.3" fill="#58c8b4"/>
<rect x="85.4" y="602.9" width="4.3" height="4.3" fill="#58c8b8"/>
<rect x="89.4" y="602.9" width="4.3" height="4.3" fill="#55c4c4"/>
<rect x="93.4" y="602.9" width="4.3" height="4.3" fill="#51bed2"/>
<rect x="97.4" y="602.9" width="4.3" height="4.3" fill="#4fbbd9"/>
<rect x="101.4" y="602.9" width="4.3" height="4.3" fill="#4ebada"/>
<rect x="105.4" y="602.9" width="4.3" height="4.3" fill="#4eb9da"/>
<rect x="109.4" y="602.9" width="4.3" height="4.3" fill="#51bed4"/>
<rect x="113.4" y="602.9" width="4.3" height="4.3" fill="#56c5bf"/>
<rect x="117.4" y="602.9" width="4.3" height="4.3" fill="#58c8b3"/>
<rect x="121.4" y="602.9" width="4.3" height="4.3" fill="#58c8ae"/>
<rect x="125.4" y="602.9" width="8.3" height="4.3" fill="#58c8ab"/>
<rect x="133.4" y="602.9" width="4.3" height="4.3" fill="#58c8ad"/>
<rect x="137.4" y="602.9" width="4.3" height="4.3" fill="#58c8af"/>
<rect x="141.4" y="602.9" width="4.3" height="4.3" fill="#58c8b2"/>
<rect x="145.4" y="602.9" width="4.3" height="4.3" fill="#58c8b5"/>
<rect x="149.4" y="602.9" width="4.3" height="4.3" fill="#58c8b6"/>
<rect x="153.4" y="602.9" width="4.3" height="4.3" fill="#58c8b8"/>
<rect x="157.4" y="602.9" width="4.3" height="4.3" fill="#58c8b9"/>
<rect x="161.4" y="602.9" width="4.3" height="4.3" fill="#57c7ba"/>
<rect x="165.4" y="602.9" width="4.3" height="4.3" fill="#57c6bc"/>
<rect x="169.4" y="602.9" width="4.3" height="4.3" fill="#56c5bf"/>
<rect x="173.4" y="602.9" width="4.3" height="4.3" fill="#56c5c1"/>
<rect x="177.4" y="602.9" width="4.3" height="4.3" fill="#55c4c2"/>
<rect x="181.4" y="602.9" width="4.3" height="4.3" fill="#55c4c3"/>
<rect x="185.4" y="602.9" width="4.3" height="4.3" fill="#55c3c6"/>
<rect x="189.4" y="602.9" width="4.3" height="4.3" fill="#53c1cc"/>
<rect x="193.4" y="602.9" width="4.3" height="4.3" fill="#51bdd6"/>
<rect x="197.4" y="602.9" width="4.3" height="4.3" fill="#4bb5dd"/>
<rect x="201.4" y="602.9" width="4.3" height="4.3" fill="#48abde"/>
<rect x="205.4" y="602.9" width="4.3" height="4.3" fill="#48a1db"/>
<rect x="209.4" y="602.9" width="4.3" height="4.3" fill="#489ad9"/>
<rect x="213.4" y="602.9" width="4.3" height="4.3" fill="#4897d8"/>
<rect x="217.4" y="602.9" width="4.3" height="4.3" fill="#4898d8"/>
<rect x="221.4" y="602.9" width="4.3" height="4.3" fill="#489ad9"/>
<rect x="57.4" y="606.9" width="4.3" height="4.3" fill="#52bed2"/>
<rect x="61.4" y="606.9" width="4.3" height="4.3" fill="#54c2c9"/>
<rect x="65.4" y="606.9" width="4.3" height="4.3" fill="#56c5c0"/>
<rect x="69.4" y="606.9" width="4.3" height="4.3" fill="#58c8b8"/>
<rect x="73.4" y="606.9" width="4.3" height="4.3" fill="#58c8b5"/>
<rect x="77.4" y="606.9" width="4.3" height="4.3" fill="#58c8b3"/>
<rect x="81.4" y="606.9" width="4.3" height="4.3" fill="#58c8b4"/>
<rect x="85.4" y="606.9" width="4.3" height="4.3" fill="#58c8b7"/>
<rect x="89.4" y="606.9" width="4.3" height="4.3" fill="#55c4c2"/>
<rect x="93.4" y="606.9" width="4.3" height="4.3" fill="#52bfd1"/>
<rect x="97.4" y="606.9" width="4.3" height="4.3" fill="#4fbbd9"/>
<rect x="101.4" y="606.9" width="8.3" height="4.3" fill="#4fbad9"/>
<rect x="109.4" y="606.9" width="4.3" height="4.3" fill="#52bed1"/>
<rect x="113.4" y="606.9" width="4.3" height="4.3" fill="#57c7ba"/>
<rect x="117.4" y="606.9" width="4.3" height="4.3" fill="#58c8af"/>
<rect x="121.4" y="606.9" width="4.3" height="4.3" fill="#58c8a9"/>
<rect x="125.4" y="606.9" width="4.3" height="4.3" fill="#5ac8a0"/>
<rect x="129.4" y="606.9" width="4.3" height="4.3" fill="#5bc89c"/>
<rect x="133.4" y="606.9" width="4.3" height="4.3" fill="#5bc89a"/>
<rect x="137.4" y="606.9" width="4.3" height="4.3" fill="#5bc89c"/>
<rect x="141.4" y="606.9" width="4.3" height="4.3" fill="#5ac89f"/>
<rect x="145.4" y="606.9" width="4.3" height="4.3" fill="#5ac8a2"/>
<rect x="149.4" y="606.9" width="4.3" height="4.3" fill="#59c8a4"/>
<rect x="153.4" y="606.9" width="4.3" height="4.3" fill="#59c8a6"/>
<rect x="157.4" y="606.9" width="4.3" height="4.3" fill="#58c8a7"/>
<rect x="161.4" y="606.9" width="4.3" height="4.3" fill="#58c8a9"/>
<rect x="165.4" y="606.9" width="4.3" height="4.3" fill="#58c8aa"/>
<rect x="169.4" y="606.9" width="4.3" height="4.3" fill="#58c8ad"/>
<rect x="173.4" y="606.9" width="4.3" height="4.3" fill="#58c8b0"/>
<rect x="177.4" y="606.9" width="4.3" height="4.3" fill="#58c8b3"/>
<rect x="181.4" y="606.9" width="4.3" height="4.3" fill="#58c8b6"/>
<rect x="185.4" y="606.9" width="4.3" height="4.3" fill="#57c7ba"/>
<rect x="189.4" y="606.9" width="4.3" height="4.3" fill="#55c3c5"/>
<rect x="193.4" y="606.9" width="4.3" height="4.3" fill="#51bed4"/>
<rect x="197.4" y="606.9" width="4.3" height="4.3" fill="#4ab3de"/>
<rect x="201.4" y="606.9" width="4.3" height="4.3" fill="#48a5dc"/>
<rect x="205.4" y="606.9" width="4.3" height="4.3" fill="#4898d8"/>
<rect x="209.4" y="606.9" width="4.3" height="4.3" fill="#498fd3"/>
<rect x="213.4" y="606.9" width="4.3" height="4.3" fill="#498bd1"/>
<rect x="217.4" y="606.9" width="4.3" height="4.3" fill="#498bd2"/>
<rect x="221.4" y="606.9" width="4.3" height="4.3" fill="#498fd4"/>
<rect x="57.4" y="610.9" width="4.3" height="4.3" fill="#52bed2"/>
<rect x="61.4" y="610.9" width="4.3" height="4.3" fill="#54c2c9"/>
<rect x="65.4" y="610.9" width="4.3" height="4.3" fill="#56c5c0"/>
<rect x="69.4" y="610.9" width="4.3" height="4.3" fill="#58c8b8"/>
<rect x="73.4" y="610.9" width="4.3" height="4.3" fill="#58c8b4"/>
<rect x="77.4" y="610.9" width="8.3" height="4.3" fill="#58c8b3"/>
<rect x="85.4" y="610.9" width="4.3" height="4.3" fill="#58c8b7"/>
<rect x="89.4" y="610.9" width="4.3" height="4.3" fill="#55c4c2"/>
<rect x="93.4" y="610.9" width="4.3" height="4.3" fill="#52bfd1"/>
<rect x="97.4" y="610.9" width="4.3" height="4.3" fill="#4fbbd9"/>
<rect x="101.4" y="610.9" width="8.3" height="4.3" fill="#4fbad9"/>
<rect x="109.4" y="610.9" width="4.3" height="4.3" fill="#52bfd0"/>
<rect x="113.4" y="610.9" width="4.3" height="4.3" fill="#58c8b8"/>
<rect x="117.4" y="610.9" width="4.3" height="4.3" fill="#58c8ad"/>
<rect x="121.4" y="610.9" width="4.3" height="4.3" fill="#5ac8a1"/>
<rect x="125.4" y="610.9" width="4.3" height="4.3" fill="#5dc893"/>
<rect x="129.4" y="610.9" width="4.3" height="4.3" fill="#60c889"/>
<rect x="133.4" y="610.9" width="4.3" height="4.3" fill="#67c87e"/>
<rect x="137.4" y="610.9" width="4.3" height="4.3" fill="#6ac979"/>
<rect x="141.4" y="610.9" width="4.3" height="4.3" fill="#6bc979"/>
<rect x="145.4" y="610.9" width="4.3" height="4.3" fill="#69c97b"/>
<rect x="149.4" y="610.9" width="4.3" height="4.3" fill="#67c87e"/>
<rect x="153.4" y="610.9" width="4.3" height="4.3" fill="#65c880"/>
<rect x="157.4" y="610.9" width="4.3" height="4.3" fill="#63c883"/>
<rect x="161.4" y="610.9" width="4.3" height="4.3" fill="#60c889"/>
<rect x="165.4" y="610.9" width="4.3" height="4.3" fill="#5ec88f"/>
<rect x="169.4" y="610.9" width="4.3" height="4.3" fill="#5cc899"/>
<rect x="173.4" y="610.9" width="4.3" height="4.3" fill="#59c8a4"/>
<rect x="177.4" y="610.9" width="4.3" height="4.3" fill="#58c8ab"/>
<rect x="181.4" y="610.9" width="4.3" height="4.3" fill="#58c8b0"/>
<rect x="185.4" y="610.9" width="4.3" height="4.3" fill="#58c8b5"/>
<rect x="189.4" y="610.9" width="4.3" height="4.3" fill="#56c5c1"/>
<rect x="193.4" y="610.9" width="4.3" height="4.3" fill="#51bdd5"/>
<rect x="197.4" y="610.9" width="4.3" height="4.3" fill="#48b0e0"/>
<rect x="201.4" y="610.9" width="4.3" height="4.3" fill="#489cd9"/>
<rect x="205.4" y="610.9" width="4.3" height="4.3" fill="#498bd2"/>
<rect x="209.4" y="610.9" width="4.3" height="4.3" fill="#4a80cc"/>
<rect x="213.4" y="610.9" width="4.3" height="4.3" fill="#4a7cca"/>
<rect x="217.4" y="610.9" width="4.3" height="4.3" fill="#4a7dca"/>
<rect x="221.4" y="610.9" width="4.3" height="4.3" fill="#4a82cd"/>
<rect x="57.4" y="614.9" width="4.3" height="4.3" fill="#52bed2"/>
<rect x="61.4" y="614.9" width="4.3" height="4.3" fill="#54c2c9"/>
<rect x="65.4" y="614.9" width="4.3" height="4.3" fill="#56c5c0"/>
<rect x="69.4" y="614.9" width="4.3" height="4.3" fill="#58c8b8"/>
<rect x="73.4" y="614.9" width="4.3" height="4.3" fill="#58c8b5"/>
<rect x="77.4" y="614.9" width="4.3" height="4.3" fill="#58c8b3"/>
<rect x="81.4" y="614.9" width="4.3" height="4.3" fill="#58c8b4"/>
<rect x="85.4" y="614.9" width="4.3" height="4.3" fill="#58c8b7"/>
<rect x="89.4" y="614.9" width="4.3" height="4.3" fill="#55c4c3"/>
<rect x="93.4" y="614.9" width="4.3" height="4.3" fill="#52bed2"/>
<rect x="97.4" y="614.9" width="4.3" height="4.3" fill="#4fbbd9"/>
<rect x="101.4" y="614.9" width="8.3" height="4.3" fill="#4fbad9"/>
<rect x="109.4" y="614.9" width="4.3" height="4.3" fill="#52bfd1"/>
<rect x="113.4" y="614.9" width="4.3" height="4.3" fill="#58c8b8"/>
<rect x="117.4" y="614.9" width="4.3" height="4.3" fill="#58c8ab"/>
<rect x="121.4" y="614.9" width="4.3" height="4.3" fill="#5bc89b"/>
<rect x="125.4" y="614.9" width="4.3" height="4.3" fill="#60c889"/>
<rect x="129.4" y="614.9" width="4.3" height="4.3" fill="#72c96e"/>
<rect x="133.4" y="614.9" width="4.3" height="4.3" fill="#85cb5a"/>
<rect x="137.4" y="614.9" width="4.3" height="4.3" fill="#94cc4e"/>
<rect x="141.4" y="614.9" width="4.3" height="4.3" fill="#9ccc48"/>
<rect x="145.4" y="614.9" width="4.3" height="4.3" fill="#9dcc48"/>
<rect x="149.4" y="614.9" width="4.3" height="4.3" fill="#9bcc49"/>
<rect x="153.4" y="614.9" width="4.3" height="4.3" fill="#99cc4a"/>
<rect x="157.4" y="614.9" width="4.3" height="4.3" fill="#95cc4d"/>
<rect x="161.4" y="614.9" width="4.3" height="4.3" fill="#8bcb55"/>
<rect x="165.4" y="614.9" width="4.3" height="4.3" fill="#79ca65"/>
<rect x="169.4" y="614.9" width="4.3" height="4.3" fill="#67c87e"/>
<rect x="173.4" y="614.9" width="4.3" height="4.3" fill="#5dc893"/>
<rect x="177.4" y="614.9" width="4.3" height="4.3" fill="#59c8a2"/>
<rect x="181.4" y="614.9" width="4.3" height="4.3" fill="#58c8ac"/>
<rect x="185.4" y="614.9" width="4.3" height="4.3" fill="#58c8b3"/>
<rect x="189.4" y="614.9" width="4.3" height="4.3" fill="#56c5c1"/>
<rect x="193.4" y="614.9" width="4.3" height="4.3" fill="#50bcd8"/>
<rect x="197.4" y="614.9" width="4.3" height="4.3" fill="#48a9de"/>
<rect x="201.4" y="614.9" width="4.3" height="4.3" fill="#4991d4"/>
<rect x="205.4" y="614.9" width="4.3" height="4.3" fill="#4a7ecb"/>
<rect x="209.4" y="614.9" width="4.3" height="4.3" fill="#4b73c4"/>
<rect x="213.4" y="614.9" width="4.3" height="4.3" fill="#4c6ec1"/>
<rect x="217.4" y="614.9" width="4.3" height="4.3" fill="#4c6fc2"/>
<rect x="221.4" y="614.9" width="4.3" height="4.3" fill="#4b75c5"/>
<rect x="57.4" y="618.9" width="4.3" height="4.3" fill="#51bed2"/>
<rect x="61.4" y="618.9" width="4.3" height="4.3" fill="#53c1ca"/>
<rect x="65.4" y="618.9" width="4.3" height="4.3" fill="#56c5c1"/>
<rect x="69.4" y="618.9" width="4.3" height="4.3" fill="#58c8b9"/>
<rect x="73.4" y="618.9" width="4.3" height="4.3" fill="#58c8b5"/>
<rect x="77.4" y="618.9" width="8.3" height="4.3" fill="#58c8b4"/>
<rect x="85.4" y="618.9" width="4.3" height="4.3" fill="#58c8b8"/>
<rect x="89.4" y="618.9" width="4.3" height="4.3" fill="#55c3c4"/>
<rect x="93.4" y="618.9" width="4.3" height="4.3" fill="#51bed3"/>
<rect x="97.4" y="618.9" width="4.3" height="4.3" fill="#4fbad9"/>
<rect x="101.4" y="618.9" width="8.3" height="4.3" fill="#4eb9da"/>
<rect x="109.4" y="618.9" width="4.3" height="4.3" fill="#51bed2"/>
<rect x="113.4" y="618.9" width="4.3" height="4.3" fill="#58c8b8"/>
<rect x="117.4" y="618.9" width="4.3" height="4.3" fill="#58c8ab"/>
<rect x="121.4" y="618.9" width="4.3" height="4.3" fill="#5cc899"/>
<rect x="125.4" y="618.9" width="4.3" height="4.3" fill="#66c87f"/>
<rect x="129.4" y="618.9" width="4.3" height="4.3" fill="#82ca5b"/>
<rect x="133.4" y="618.9" width="4.3" height="4.3" fill="#a6cb45"/>
<rect x="137.4" y="618.9" width="4.3" height="4.3" fill="#c9b740"/>
<rect x="141.4" y="618.9" width="4.3" height="4.3" fill="#dbac42"/>
<rect x="145.4" y="618.9" width="8.3" height="4.3" fill="#e0aa44"/>
<rect x="153.4" y="618.9" width="4.3" height="4.3" fill="#deab43"/>
<rect x="157.4" y="618.9" width="4.3" height="4.3" fill="#d7ad42"/>
<rect x="161.4" y="618.9" width="4.3" height="4.3" fill="#c2be40"/>
<rect x="165.4" y="618.9" width="4.3" height="4.3" fill="#a3cb46"/>
<rect x="169.4" y="618.9" width="4.3" height="4.3" fill="#7dca60"/>
<rect x="173.4" y="618.9" width="4.3" height="4.3" fill="#62c885"/>
<rect x="177.4" y="618.9" width="4.3" height="4.3" fill="#5bc89b"/>
<rect x="181.4" y="618.9" width="4.3" height="4.3" fill="#58c8aa"/>
<rect x="185.4" y="618.9" width="4.3" height="4.3" fill="#58c8b3"/>
<rect x="189.4" y="618.9" width="4.3" height="4.3" fill="#55c3c5"/>
<rect x="193.4" y="618.9" width="4.3" height="4.3" fill="#4db7db"/>
<rect x="197.4" y="618.9" width="4.3" height="4.3" fill="#489fda"/>
<rect x="201.4" y="618.9" width="4.3" height="4.3" fill="#4a84ce"/>
<rect x="205.4" y="618.9" width="4.3" height="4.3" fill="#4c71c3"/>
<rect x="209.4" y="618.9" width="4.3" height="4.3" fill="#4c69be"/>
<rect x="213.4" y="618.9" width="4.3" height="4.3" fill="#4c67bd"/>
<rect x="217.4" y="618.9" width="4.3" height="4.3" fill="#4c67be"/>
<rect x="221.4" y="618.9" width="4.3" height="4.3" fill="#4c6abf"/>
<rect x="57.4" y="622.9" width="4.3" height="4.3" fill="#51bed3"/>
<rect x="61.4" y="622.9" width="4.3" height="4.3" fill="#53c1cc"/>
<rect x="65.4" y="622.9" width="4.3" height="4.3" fill="#55c4c3"/>
<rect x="69.4" y="622.9" width="4.3" height="4.3" fill="#57c7bb"/>
<rect x="73.4" y="622.9" width="4.3" height="4.3" fill="#58c8b7"/>
<rect x="77.4" y="622.9" width="4.3" height="4.3" fill="#58c8b5"/>
<rect x="81.4" y="622.9" width="4.3" height="4.3" fill="#58c8b6"/>
<rect x="85.4" y="622.9" width="4.3" height="4.3" fill="#58c7ba"/>
<rect x="89.4" y="622.9" width="4.3" height="4.3" fill="#54c3c6"/>
<rect x="93.4" y="622.9" width="4.3" height="4.3" fill="#51bdd5"/>
<rect x="97.4" y="622.9" width="4.3" height="4.3" fill="#4eb9da"/>
<rect x="101.4" y="622.9" width="8.3" height="4.3" fill="#4db8db"/>
<rect x="109.4" y="622.9" width="4.3" height="4.3" fill="#51bdd4"/>
<rect x="113.4" y="622.9" width="4.3" height="4.3" fill="#57c7bb"/>
<rect x="117.4" y="622.9" width="4.3" height="4.3" fill="#58c8ad"/>
<rect x="121.4" y="622.9" width="4.3" height="4.3" fill="#5cc89a"/>
<rect x="125.4" y="622.9" width="4.3" height="4.3" fill="#68c97c"/>
<rect x="129.4" y="622.9" width="4.3" height="4.3" fill="#8ccb54"/>
<rect x="133.4" y="622.9" width="4.3" height="4.3" fill="#bfc140"/>
<rect x="137.4" y="622.9" width="4.3" height="4.3" fill="#e6a845"/>
<rect x="141.4" y="622.9" width="4.3" height="4.3" fill="#e7cd3f"/>
<rect x="145.4" y="622.9" width="4.3" height="4.3" fill="#e8da3d"/>
<rect x="149.4" y="622.9" width="4.3" height="4.3" fill="#e8dc3d"/>
<rect x="153.4" y="622.9" width="4.3" height="4.3" fill="#e8da3d"/>
<rect x="157.4" y="622.9" width="4.3" height="4.3" fill="#e7cd3f"/>
<rect x="161.4" y="622.9" width="4.3" height="4.3" fill="#e2a944"/>
<rect x="165.4" y="622.9" width="4.3" height="4.3" fill="#bfc140"/>
<rect x="169.4" y="622.9" width="4.3" height="4.3" fill="#90cb51"/>
<rect x="173.4" y="622.9" width="4.3" height="4.3" fill="#6ac97a"/>
<rect x="177.4" y="622.9" width="4.3" height="4.3" fill="#5cc898"/>
<rect x="181.4" y="622.9" width="4.3" height="4.3" fill="#58c8ab"/>
<rect x="185.4" y="622.9" width="4.3" height="4.3" fill="#58c8b5"/>
<rect x="189.4" y="622.9" width="4.3" height="4.3" fill="#53c1cb"/>
<rect x="193.4" y="622.9" width="4.3" height="4.3" fill="#49b1df"/>
<rect x="197.4" y="622.9" width="4.3" height="4.3" fill="#4894d6"/>
<rect x="201.4" y="622.9" width="4.3" height="4.3" fill="#4b79c8"/>
<rect x="205.4" y="622.9" width="4.3" height="4.3" fill="#4c69be"/>
<rect x="209.4" y="622.9" width="4.3" height="4.3" fill="#4c63bc"/>
<rect x="213.4" y="622.9" width="4.3" height="4.3" fill="#4c61ba"/>
<rect x="217.4" y="622.9" width="4.3" height="4.3" fill="#4c62bb"/>
<rect x="221.4" y="622.9" width="4.3" height="4.3" fill="#4c65bd"/>
<rect x="57.4" y="626.9" width="4.3" height="4.3" fill="#51bdd5"/>
<rect x="61.4" y="626.9" width="4.3" height="4.3" fill="#53c0cd"/>
<rect x="65.4" y="626.9" width="4.3" height="4.3" fill="#55c3c6"/>
<rect x="69.4" y="626.9" width="4.3" height="4.3" fill="#56c6be"/>
<rect x="73.4" y="626.9" width="4.3" height="4.3" fill="#58c8b9"/>
<rect x="77.4" y="626.9" width="8.3" height="4.3" fill="#58c8b7"/>
<rect x="85.4" y="626.9" width="4.3" height="4.3" fill="#57c6bd"/>
<rect x="89.4" y="626.9" width="4.3" height="4.3" fill="#54c2c9"/>
<rect x="93.4" y="626.9" width="4.3" height="4.3" fill="#50bcd7"/>
<rect x="97.4" y="626.9" width="4.3" height="4.3" fill="#4db8db"/>
<rect x="101.4" y="626.9" width="4.3" height="4.3" fill="#4db7db"/>
<rect x="105.4" y="626.9" width="4.3" height="4.3" fill="#4cb6dc"/>
<rect x="109.4" y="626.9" width="4.3" height="4.3" fill="#50bcd7"/>
<rect x="113.4" y="626.9" width="4.3" height="4.3" fill="#56c6be"/>
<rect x="117.4" y="626.9" width="4.3" height="4.3" fill="#58c8ae"/>
<rect x="121.4" y="626.9" width="4.3" height="4.3" fill="#5bc89d"/>
<rect x="125.4" y="626.9" width="4.3" height="4.3" fill="#66c87f"/>
<rect x="129.4" y="626.9" width="4.3" height="4.3" fill="#8dcb54"/>
<rect x="133.4" y="626.9" width="4.3" height="4.3" fill="#cbb540"/>
<rect x="137.4" y="626.9" width="4.3" height="4.3" fill="#e7bd42"/>
<rect x="141.4" y="626.9" width="4.3" height="4.3" fill="#e8e13c"/>
<rect x="145.4" y="626.9" width="4.3" height="4.3" fill="#e5e83e"/>
<rect x="149.4" y="626.9" width="4.3" height="4.3" fill="#e4ea3e"/>
<rect x="153.4" y="626.9" width="4.3" height="4.3" fill="#e5e93e"/>
<rect x="157.4" y="626.9" width="4.3" height="4.3" fill="#e7e43d"/>
<rect x="161.4" y="626.9" width="4.3" height="4.3" fill="#e7be42"/>
<rect x="165.4" y="626.9" width="4.3" height="4.3" fill="#cab640"/>
<rect x="169.4" y="626.9" width="4.3" height="4.3" fill="#98cc4b"/>
<rect x="173.4" y="626.9" width="4.3" height="4.3" fill="#6cc977"/>
<rect x="177.4" y="626.9" width="4.3" height="4.3" fill="#5cc899"/>
<rect x="181.4" y="626.9" width="4.3" height="4.3" fill="#58c8ac"/>
<rect x="185.4" y="626.9" width="4.3" height="4.3" fill="#58c8b8"/>
<rect x="189.4" y="626.9" width="4.3" height="4.3" fill="#51bed3"/>
<rect x="193.4" y="626.9" width="4.3" height="4.3" fill="#48a9de"/>
<rect x="197.4" y="626.9" width="4.3" height="4.3" fill="#498ad1"/>
<rect x="201.4" y="626.9" width="4.3" height="4.3" fill="#4c6fc2"/>
<rect x="205.4" y="626.9" width="4.3" height="4.3" fill="#4c64bc"/>
<rect x="209.4" y="626.9" width="4.3" height="4.3" fill="#4c5eb8"/>
<rect x="213.4" y="626.9" width="4.3" height="4.3" fill="#4c5bb6"/>
<rect x="217.4" y="626.9" width="4.3" height="4.3" fill="#4c5cb7"/>
<rect x="221.4" y="626.9" width="4.3" height="4.3" fill="#4c61bb"/>
<rect x="57.4" y="630.9" width="4.3" height="4.3" fill="#50bdd6"/>
<rect x="61.4" y="630.9" width="4.3" height="4.3" fill="#52bfd0"/>
<rect x="65.4" y="630.9" width="4.3" height="4.3" fill="#54c2c8"/>
<rect x="69.4" y="630.9" width="4.3" height="4.3" fill="#56c4c2"/>
<rect x="73.4" y="630.9" width="4.3" height="4.3" fill="#57c6bd"/>
<rect x="77.4" y="630.9" width="4.3" height="4.3" fill="#58c7ba"/>
<rect x="81.4" y="630.9" width="4.3" height="4.3" fill="#57c7bb"/>
<rect x="85.4" y="630.9" width="4.3" height="4.3" fill="#56c5c1"/>
<rect x="89.4" y="630.9" width="4.3" height="4.3" fill="#53c0cc"/>
<rect x="93.4" y="630.9" width="4.3" height="4.3" fill="#4fbbd9"/>
<rect x="97.4" y="630.9" width="8.3" height="4.3" fill="#4cb6dc"/>
<rect x="105.4" y="630.9" width="4.3" height="4.3" fill="#4bb5dd"/>
<rect x="109.4" y="630.9" width="4.3" height="4.3" fill="#4fbbd9"/>
<rect x="113.4" y="630.9" width="4.3" height="4.3" fill="#56c4c2"/>
<rect x="117.4" y="630.9" width="4.3" height="4.3" fill="#58c8b0"/>
<rect x="121.4" y="630.9" width="4.3" height="4.3" fill="#5ac8a1"/>
<rect x="125.4" y="630.9" width="4.3" height="4.3" fill="#62c885"/>
<rect x="129.4" y="630.9" width="4.3" height="4.3" fill="#88cb57"/>
<rect x="133.4" y="630.9" width="4.3" height="4.3" fill="#cbb540"/>
<rect x="137.4" y="630.9" width="4.3" height="4.3" fill="#e7bf41"/>
<rect x="141.4" y="630.9" width="4.3" height="4.3" fill="#e7e23d"/>
<rect x="145.4" y="630.9" width="4.3" height="4.3" fill="#e4eb3f"/>
<rect x="149.4" y="630.9" width="4.3" height="4.3" fill="#e2ef40"/>
<rect x="153.4" y="630.9" width="4.3" height="4.3" fill="#e3ed3f"/>
<rect x="157.4" y="630.9" width="4.3" height="4.3" fill="#e6e63e"/>
<rect x="161.4" y="630.9" width="4.3" height="4.3" fill="#e7c341"/>
<rect x="165.4" y="630.9" width="4.3" height="4.3" fill="#ccb440"/>
<rect x="169.4" y="630.9" width="4.3" height="4.3" fill="#99cc4b"/>
<rect x="173.4" y="630.9" width="4.3" height="4.3" fill="#6bc979"/>
<rect x="177.4" y="630.9" width="4.3" height="4.3" fill="#5bc89c"/>
<rect x="181.4" y="630.9" width="4.3" height="4.3" fill="#58c8af"/>
<rect x="185.4" y="630.9" width="4.3" height="4.3" fill="#56c5bf"/>
<rect x="189.4" y="630.9" width="4.3" height="4.3" fill="#4fbad9"/>
<rect x="193.4" y="630.9" width="4.3" height="4.3" fill="#48a1db"/>
<rect x="197.4" y="630.9" width="4.3" height="4.3" fill="#4a81cd"/>
<rect x="201.4" y="630.9" width="4.3" height="4.3" fill="#4c6abf"/>
<rect x="205.4" y="630.9" width="4.3" height="4.3" fill="#4c61bb"/>
<rect x="209.4" y="630.9" width="4.3" height="4.3" fill="#4c5ab5"/>
<rect x="213.4" y="630.9" width="4.3" height="4.3" fill="#4b56b3"/>
<rect x="217.4" y="630.9" width="4.3" height="4.3" fill="#4c58b4"/>
<rect x="221.4" y="630.9" width="4.3" height="4.3" fill="#4c5eb9"/>
<rect x="57.4" y="634.9" width="4.3" height="4.3" fill="#50bcd8"/>
<rect x="61.4" y="634.9" width="4.3" height="4.3" fill="#51bed2"/>
<rect x="65.4" y="634.9" width="4.3" height="4.3" fill="#53c1cc"/>
<rect x="69.4" y="634.9" width="4.3" height="4.3" fill="#55c3c5"/>
<rect x="73.4" y="634.9" width="4.3" height="4.3" fill="#56c5c1"/>
<rect x="77.4" y="634.9" width="4.3" height="4.3" fill="#56c6bf"/>
<rect x="81.4" y="634.9" width="4.3" height="4.3" fill="#56c5bf"/>
<rect x="85.4" y="634.9" width="4.3" height="4.3" fill="#55c3c5"/>
<rect x="89.4" y="634.9" width="4.3" height="4.3" fill="#52bfd0"/>
<rect x="93.4" y="634.9" width="4.3" height="4.3" fill="#4eb9da"/>
<rect x="97.4" y="634.9" width="4.3" height="4.3" fill="#4bb5dd"/>
<rect x="101.4" y="634.9" width="4.3" height="4.3" fill="#4bb4dd"/>
<rect x="105.4" y="634.9" width="4.3" height="4.3" fill="#4ab4de"/>
<rect x="109.4" y="634.9" width="4.3" height="4.3" fill="#4eb9da"/>
<rect x="113.4" y="634.9" width="4.3" height="4.3" fill="#55c3c5"/>
<rect x="117.4" y="634.9" width="4.3" height="4.3" fill="#58c8b2"/>
<rect x="121.4" y="634.9" width="4.3" height="4.3" fill="#59c8a4"/>
<rect x="125.4" y="634.9" width="4.3" height="4.3" fill="#60c88a"/>
<rect x="129.4" y="634.9" width="4.3" height="4.3" fill="#83ca5b"/>
<rect x="133.4" y="634.9" width="4.3" height="4.3" fill="#c8b840"/>
<rect x="137.4" y="634.9" width="4.3" height="4.3" fill="#e7bc42"/>
<rect x="141.4" y="634.9" width="4.3" height="4.3" fill="#e7e23c"/>
<rect x="145.4" y="634.9" width="4.3" height="4.3" fill="#e4ea3f"/>
<rect x="149.4" y="634.9" width="8.3" height="4.3" fill="#e3ed3f"/>
<rect x="157.4" y="634.9" width="4.3" height="4.3" fill="#e6e63e"/>
<rect x="161.4" y="634.9" width="4.3" height="4.3" fill="#e7c141"/>
<rect x="165.4" y="634.9" width="4.3" height="4.3" fill="#cbb540"/>
<rect x="169.4" y="634.9" width="4.3" height="4.3" fill="#97cc4c"/>
<rect x="173.4" y="634.9" width="4.3" height="4.3" fill="#69c97c"/>
<rect x="177.4" y="634.9" width="4.3" height="4.3" fill="#5ac89e"/>
<rect x="181.4" y="634.9" width="4.3" height="4.3" fill="#58c8b1"/>
<rect x="185.4" y="634.9" width="4.3" height="4.3" fill="#55c3c5"/>
<rect x="189.4" y="634.9" width="4.3" height="4.3" fill="#4cb6dc"/>
<rect x="193.4" y="634.9" width="4.3" height="4.3" fill="#489bd9"/>
<rect x="197.4" y="634.9" width="4.3" height="4.3" fill="#4a7dca"/>
<rect x="201.4" y="634.9" width="4.3" height="4.3" fill="#4c69be"/>
<rect x="205.4" y="634.9" width="4.3" height="4.3" fill="#4c60ba"/>
<rect x="209.4" y="634.9" width="4.3" height="4.3" fill="#4b58b4"/>
<rect x="213.4" y="634.9" width="4.3" height="4.3" fill="#4b55b2"/>
<rect x="217.4" y="634.9" width="4.3" height="4.3" fill="#4b57b3"/>
<rect x="221.4" y="634.9" width="4.3" height="4.3" fill="#4c5db8"/>
<rect x="57.4" y="638.9" width="4.3" height="4.3" fill="#4fbbd9"/>
<rect x="61.4" y="638.9" width="4.3" height="4.3" fill="#51bdd5"/>
<rect x="65.4" y="638.9" width="4.3" height="4.3" fill="#52bfcf"/>
<rect x="69.4" y="638.9" width="4.3" height="4.3" fill="#54c1ca"/>
<rect x="73.4" y="638.9" width="4.3" height="4.3" fill="#55c3c5"/>
<rect x="77.4" y="638.9" width="4.3" height="4.3" fill="#55c4c3"/>
<rect x="81.4" y="638.9" width="4.3" height="4.3" fill="#55c3c4"/>
<rect x="85.4" y="638.9" width="4.3" height="4.3" fill="#54c1c9"/>
<rect x="89.4" y="638.9" width="4.3" height="4.3" fill="#51bed4"/>
<rect x="93.4" y="638.9" width="4.3" height="4.3" fill="#4db7db"/>
<rect x="97.4" y="638.9" width="12.3" height="4.3" fill="#4ab3de"/>
<rect x="109.4" y="638.9" width="4.3" height="4.3" fill="#4db8db"/>
<rect x="113.4" y="638.9" width="4.3" height="4.3" fill="#54c2c8"/>
<rect x="117.4" y="638.9" width="4.3" height="4.3" fill="#58c8b4"/>
<rect x="121.4" y="638.9" width="4.3" height="4.3" fill="#58c8a8"/>
<rect x="125.4" y="638.9" width="4.3" height="4.3" fill="#5fc88e"/>
<rect x="129.4" y="638.9" width="4.3" height="4.3" fill="#7cca60"/>
<rect x="133.4" y="638.9" width="4.3" height="4.3" fill="#bcc440"/>
<rect x="137.4" y="638.9" width="4.3" height="4.3" fill="#e6ac44"/>
<rect x="141.4" y="638.9" width="4.3" height="4.3" fill="#e8d83d"/>
<rect x="145.4" y="638.9" width="4.3" height="4.3" fill="#e6e43d"/>
<rect x="149.4" y="638.9" width="4.3" height="4.3" fill="#e6e63d"/>
<rect x="153.4" y="638.9" width="4.3" height="4.3" fill="#e6e53d"/>
<rect x="157.4" y="638.9" width="4.3" height="4.3" fill="#e8e03c"/>
<rect x="161.4" y="638.9" width="4.3" height="4.3" fill="#e6ae44"/>
<rect x="165.4" y="638.9" width="4.3" height="4.3" fill="#c5bb40"/>
<rect x="169.4" y="638.9" width="4.3" height="4.3" fill="#92cb4f"/>
<rect x="173.4" y="638.9" width="4.3" height="4.3" fill="#65c880"/>
<rect x="177.4" y="638.9" width="4.3" height="4.3" fill="#5ac8a2"/>
<rect x="181.4" y="638.9" width="4.3" height="4.3" fill="#58c8b3"/>
<rect x="185.4" y="638.9" width="4.3" height="4.3" fill="#54c1ca"/>
<rect x="189.4" y="638.9" width="4.3" height="4.3" fill="#4ab3de"/>
<rect x="193.4" y="638.9" width="4.3" height="4.3" fill="#4898d8"/>
<rect x="197.4" y="638.9" width="4.3" height="4.3" fill="#4a7bc9"/>
<rect x="201.4" y="638.9" width="4.3" height="4.3" fill="#4c69be"/>
<rect x="205.4" y="638.9" width="4.3" height="4.3" fill="#4c60ba"/>
<rect x="209.4" y="638.9" width="4.3" height="4.3" fill="#4c59b5"/>
<rect x="213.4" y="638.9" width="4.3" height="4.3" fill="#4b56b2"/>
<rect x="217.4" y="638.9" width="4.3" height="4.3" fill="#4b58b4"/>
<rect x="221.4" y="638.9" width="4.3" height="4.3" fill="#4c5eb8"/>
<rect x="57.4" y="642.9" width="4.3" height="4.3" fill="#4ebada"/>
<rect x="61.4" y="642.9" width="4.3" height="4.3" fill="#50bcd7"/>
<rect x="65.4" y="642.9" width="4.3" height="4.3" fill="#51bed2"/>
<rect x="69.4" y="642.9" width="4.3" height="4.3" fill="#53c0ce"/>
<rect x="73.4" y="642.9" width="4.3" height="4.3" fill="#53c1ca"/>
<rect x="77.4" y="642.9" width="4.3" height="4.3" fill="#54c2c8"/>
<rect x="81.4" y="642.9" width="4.3" height="4.3" fill="#54c2c9"/>
<rect x="85.4" y="642.9" width="4.3" height="4.3" fill="#53c0ce"/>
<rect x="89.4" y="642.9" width="4.3" height="4.3" fill="#50bcd7"/>
<rect x="93.4" y="642.9" width="4.3" height="4.3" fill="#4cb5dc"/>
<rect x="97.4" y="642.9" width="8.3" height="4.3" fill="#49b2df"/>
<rect x="105.4" y="642.9" width="4.3" height="4.3" fill="#49b1df"/>
<rect x="109.4" y="642.9" width="4.3" height="4.3" fill="#4cb7dc"/>
<rect x="113.4" y="642.9" width="4.3" height="4.3" fill="#53c1cb"/>
<rect x="117.4" y="642.9" width="4.3" height="4.3" fill="#58c8b6"/>
<rect x="121.4" y="642.9" width="4.3" height="4.3" fill="#58c8aa"/>
<rect x="125.4" y="642.9" width="4.3" height="4.3" fill="#5dc894"/>
<rect x="129.4" y="642.9" width="4.3" height="4.3" fill="#73c96d"/>
<rect x="133.4" y="642.9" width="4.3" height="4.3" fill="#a0cb47"/>
<rect x="137.4" y="642.9" width="4.3" height="4.3" fill="#d2af40"/>
<rect x="141.4" y="642.9" width="4.3" height="4.3" fill="#e5a845"/>
<rect x="145.4" y="642.9" width="4.3" height="4.3" fill="#e7b842"/>
<rect x="149.4" y="642.9" width="4.3" height="4.3" fill="#e7bb42"/>
<rect x="153.4" y="642.9" width="4.3" height="4.3" fill="#e7b842"/>
<rect x="157.4" y="642.9" width="4.3" height="4.3" fill="#e5a845"/>
<rect x="161.4" y="642.9" width="4.3" height="4.3" fill="#d3af41"/>
<rect x="165.4" y="642.9" width="4.3" height="4.3" fill="#b5c841"/>
<rect x="169.4" y="642.9" width="4.3" height="4.3" fill="#84cb5a"/>
<rect x="173.4" y="642.9" width="4.3" height="4.3" fill="#60c889"/>
<rect x="177.4" y="642.9" width="4.3" height="4.3" fill="#58c8a6"/>
<rect x="181.4" y="642.9" width="4.3" height="4.3" fill="#58c8b5"/>
<rect x="185.4" y="642.9" width="4.3" height="4.3" fill="#53c0cd"/>
<rect x="189.4" y="642.9" width="4.3" height="4.3" fill="#49b1df"/>
<rect x="193.4" y="642.9" width="4.3" height="4.3" fill="#4898d8"/>
<rect x="197.4" y="642.9" width="4.3" height="4.3" fill="#4a7dca"/>
<rect x="201.4" y="642.9" width="4.3" height="4.3" fill="#4c6abf"/>
<rect x="205.4" y="642.9" width="4.3" height="4.3" fill="#4c63bb"/>
<rect x="209.4" y="642.9" width="4.3" height="4.3" fill="#4c5db8"/>
<rect x="213.4" y="642.9" width="4.3" height="4.3" fill="#4c5ab6"/>
<rect x="217.4" y="642.9" width="4.3" height="4.3" fill="#4c5cb7"/>
<rect x="221.4" y="642.9" width="4.3" height="4.3" fill="#4c61bb"/>
<rect x="57.4" y="646.9" width="4.3" height="4.3" fill="#4eb9da"/>
<rect x="61.4" y="646.9" width="4.3" height="4.3" fill="#4fbbd9"/>
<rect x="65.4" y="646.9" width="4.3" height="4.3" fill="#51bdd6"/>
<rect x="69.4" y="646.9" width="4.3" height="4.3" fill="#52bed2"/>
<rect x="73.4" y="646.9" width="4.3" height="4.3" fill="#52c0cf"/>
<rect x="77.4" y="646.9" width="4.3" height="4.3" fill="#53c0cd"/>
<rect x="81.4" y="646.9" width="4.3" height="4.3" fill="#53c0ce"/>
<rect x="85.4" y="646.9" width="4.3" height="4.3" fill="#51bed2"/>
<rect x="89.4" y="646.9" width="4.3" height="4.3" fill="#4fbad9"/>
<rect x="93.4" y="646.9" width="4.3" height="4.3" fill="#4ab4de"/>
<rect x="97.4" y="646.9" width="4.3" height="4.3" fill="#48b1e0"/>
<rect x="101.4" y="646.9" width="4.3" height="4.3" fill="#49b1df"/>
<rect x="105.4" y="646.9" width="4.3" height="4.3" fill="#48b0e0"/>
<rect x="109.4" y="646.9" width="4.3" height="4.3" fill="#4cb5dc"/>
<rect x="113.4" y="646.9" width="4.3" height="4.3" fill="#53c0ce"/>
<rect x="117.4" y="646.9" width="4.3" height="4.3" fill="#58c8b8"/>
<rect x="121.4" y="646.9" width="4.3" height="4.3" fill="#58c8ae"/>
<rect x="125.4" y="646.9" width="4.3" height="4.3" fill="#5bc89d"/>
<rect x="129.4" y="646.9" width="4.3" height="4.3" fill="#64c883"/>
<rect x="133.4" y="646.9" width="4.3" height="4.3" fill="#80ca5d"/>
<rect x="137.4" y="646.9" width="4.3" height="4.3" fill="#a0cb47"/>
<rect x="141.4" y="646.9" width="4.3" height="4.3" fill="#b6c840"/>
<rect x="145.4" y="646.9" width="4.3" height="4.3" fill="#bdc340"/>
<rect x="149.4" y="646.9" width="8.3" height="4.3" fill="#bec240"/>
<rect x="157.4" y="646.9" width="4.3" height="4.3" fill="#bac640"/>
<rect x="161.4" y="646.9" width="4.3" height="4.3" fill="#acca43"/>
<rect x="165.4" y="646.9" width="4.3" height="4.3" fill="#90cb51"/>
<rect x="169.4" y="646.9" width="4.3" height="4.3" fill="#70c971"/>
<rect x="173.4" y="646.9" width="4.3" height="4.3" fill="#5dc894"/>
<rect x="177.4" y="646.9" width="4.3" height="4.3" fill="#58c8ab"/>
<rect x="181.4" y="646.9" width="4.3" height="4.3" fill="#58c8b8"/>
<rect x="185.4" y="646.9" width="4.3" height="4.3" fill="#52bfd0"/>
<rect x="189.4" y="646.9" width="4.3" height="4.3" fill="#49b1df"/>
<rect x="193.4" y="646.9" width="4.3" height="4.3" fill="#489ad9"/>
<rect x="197.4" y="646.9" width="4.3" height="4.3" fill="#4a82cd"/>
<rect x="201.4" y="646.9" width="4.3" height="4.3" fill="#4c6ec1"/>
<rect x="205.4" y="646.9" width="4.3" height="4.3" fill="#4c66bd"/>
<rect x="209.4" y="646.9" width="4.3" height="4.3" fill="#4c62bb"/>
<rect x="213.4" y="646.9" width="4.3" height="4.3" fill="#4c60ba"/>
<rect x="217.4" y="646.9" width="4.3" height="4.3" fill="#4c61bb"/>
<rect x="221.4" y="646.9" width="4.3" height="4.3" fill="#4c65bd"/>
<rect x="57.4" y="650.9" width="4.3" height="4.3" fill="#4db7db"/>
<rect x="61.4" y="650.9" width="4.3" height="4.3" fill="#4ebada"/>
<rect x="65.4" y="650.9" width="4.3" height="4.3" fill="#50bcd8"/>
<rect x="69.4" y="650.9" width="4.3" height="4.3" fill="#51bdd5"/>
<rect x="73.4" y="650.9" width="4.3" height="4.3" fill="#51bed3"/>
<rect x="77.4" y="650.9" width="4.3" height="4.3" fill="#52bed2"/>
<rect x="81.4" y="650.9" width="4.3" height="4.3" fill="#51bed2"/>
<rect x="85.4" y="650.9" width="4.3" height="4.3" fill="#50bdd6"/>
<rect x="89.4" y="650.9" width="4.3" height="4.3" fill="#4db8db"/>
<rect x="93.4" y="650.9" width="4.3" height="4.3" fill="#49b2df"/>
<rect x="97.4" y="650.9" width="4.3" height="4.3" fill="#48afe0"/>
<rect x="101.4" y="650.9" width="4.3" height="4.3" fill="#48b0e0"/>
<rect x="105.4" y="650.9" width="4.3" height="4.3" fill="#48afe0"/>
<rect x="109.4" y="650.9" width="4.3" height="4.3" fill="#4bb4dd"/>
<rect x="113.4" y="650.9" width="4.3" height="4.3" fill="#52bed2"/>
<rect x="117.4" y="650.9" width="4.3" height="4.3" fill="#57c6be"/>
<rect x="121.4" y="650.9" width="4.3" height="4.3" fill="#58c8b2"/>
<rect x="125.4" y="650.9" width="4.3" height="4.3" fill="#58c8a9"/>
<rect x="129.4" y="650.9" width="4.3" height="4.3" fill="#5cc897"/>
<rect x="133.4" y="650.9" width="4.3" height="4.3" fill="#63c884"/>
<rect x="137.4" y="650.9" width="4.3" height="4.3" fill="#72c96f"/>
<rect x="141.4" y="650.9" width="4.3" height="4.3" fill="#7bca62"/>
<rect x="145.4" y="650.9" width="4.3" height="4.3" fill="#7fca5e"/>
<rect x="149.4" y="650.9" width="8.3" height="4.3" fill="#80ca5d"/>
<rect x="157.4" y="650.9" width="4.3" height="4.3" fill="#7dca5f"/>
<rect x="161.4" y="650.9" width="4.3" height="4.3" fill="#77ca68"/>
<rect x="165.4" y="650.9" width="4.3" height="4.3" fill="#6ac979"/>
<rect x="169.4" y="650.9" width="4.3" height="4.3" fill="#5ec88f"/>
<rect x="173.4" y="650.9" width="4.3" height="4.3" fill="#59c8a2"/>
<rect x="177.4" y="650.9" width="4.3" height="4.3" fill="#58c8b0"/>
<rect x="181.4" y="650.9" width="4.3" height="4.3" fill="#57c6bd"/>
<rect x="185.4" y="650.9" width="4.3" height="4.3" fill="#51bed3"/>
<rect x="189.4" y="650.9" width="4.3" height="4.3" fill="#49b1df"/>
<rect x="193.4" y="650.9" width="4.3" height="4.3" fill="#489eda"/>
<rect x="197.4" y="650.9" width="4.3" height="4.3" fill="#4989d1"/>
<rect x="201.4" y="650.9" width="4.3" height="4.3" fill="#4b77c7"/>
<rect x="205.4" y="650.9" width="4.3" height="4.3" fill="#4c6bc0"/>
<rect x="209.4" y="650.9" width="4.3" height="4.3" fill="#4c67be"/>
<rect x="213.4" y="650.9" width="4.3" height="4.3" fill="#4c66bd"/>
<rect x="217.4" y="650.9" width="4.3" height="4.3" fill="#4c67bd"/>
<rect x="221.4" y="650.9" width="4.3" height="4.3" fill="#4c6abf"/>
<rect x="57.4" y="654.9" width="4.3" height="4.3" fill="#4cb7dc"/>
<rect x="61.4" y="654.9" width="4.3" height="4.3" fill="#4db8db"/>
<rect x="65.4" y="654.9" width="4.3" height="4.3" fill="#4fbad9"/>
<rect x="69.4" y="654.9" width="4.3" height="4.3" fill="#50bcd8"/>
<rect x="73.4" y="654.9" width="4.3" height="4.3" fill="#50bcd7"/>
<rect x="77.4" y="654.9" width="4.3" height="4.3" fill="#51bdd6"/>
<rect x="81.4" y="654.9" width="4.3" height="4.3" fill="#50bdd6"/>
<rect x="85.4" y="654.9" width="4.3" height="4.3" fill="#4fbbd9"/>
<rect x="89.4" y="654.9" width="4.3" height="4.3" fill="#4cb6dc"/>
<rect x="93.4" y="654.9" width="4.3" height="4.3" fill="#48b1e0"/>
<rect x="97.4" y="654.9" width="12.3" height="4.3" fill="#48aedf"/>
<rect x="109.4" y="654.9" width="4.3" height="4.3" fill="#4ab2de"/>
<rect x="113.4" y="654.9" width="4.3" height="4.3" fill="#50bdd6"/>
<rect x="117.4" y="654.9" width="4.3" height="4.3" fill="#55c3c5"/>
<rect x="121.4" y="654.9" width="4.3" height="4.3" fill="#58c8b8"/>
<rect x="125.4" y="654.9" width="4.3" height="4.3" fill="#58c8b1"/>
<rect x="129.4" y="654.9" width="4.3" height="4.3" fill="#58c8aa"/>
<rect x="133.4" y="654.9" width="4.3" height="4.3" fill="#5ac8a0"/>
<rect x="137.4" y="654.9" width="4.3" height="4.3" fill="#5cc898"/>
<rect x="141.4" y="654.9" width="4.3" height="4.3" fill="#5dc893"/>
<rect x="145.4" y="654.9" width="12.3" height="4.3" fill="#5ec891"/>
<rect x="157.4" y="654.9" width="4.3" height="4.3" fill="#5dc892"/>
<rect x="161.4" y="654.9" width="4.3" height="4.3" fill="#5dc895"/>
<rect x="165.4" y="654.9" width="4.3" height="4.3" fill="#5bc89c"/>
<rect x="169.4" y="654.9" width="4.3" height="4.3" fill="#58c8a6"/>
<rect x="173.4" y="654.9" width="4.3" height="4.3" fill="#58c8ae"/>
<rect x="177.4" y="654.9" width="4.3" height="4.3" fill="#58c8b6"/>
<rect x="181.4" y="654.9" width="4.3" height="4.3" fill="#55c3c5"/>
<rect x="185.4" y="654.9" width="4.3" height="4.3" fill="#50bcd7"/>
<rect x="189.4" y="654.9" width="4.3" height="4.3" fill="#49b1df"/>
<rect x="193.4" y="654.9" width="4.3" height="4.3" fill="#48a2db"/>
<rect x="197.4" y="654.9" width="4.3" height="4.3" fill="#4991d4"/>
<rect x="201.4" y="654.9" width="4.3" height="4.3" fill="#4a81cc"/>
<rect x="205.4" y="654.9" width="4.3" height="4.3" fill="#4b76c6"/>
<rect x="209.4" y="654.9" width="4.3" height="4.3" fill="#4c6ec1"/>
<rect x="213.4" y="654.9" width="4.3" height="4.3" fill="#4c6cc0"/>
<rect x="217.4" y="654.9" width="4.3" height="4.3" fill="#4c6ec1"/>
<rect x="221.4" y="654.9" width="4.3" height="4.3" fill="#4b74c5"/>
<rect x="57.4" y="658.9" width="4.3" height="4.3" fill="#4cb6dc"/>
<rect x="61.4" y="658.9" width="4.3" height="4.3" fill="#4db7db"/>
<rect x="65.4" y="658.9" width="4.3" height="4.3" fill="#4eb8da"/>
<rect x="69.4" y="658.9" width="4.3" height="4.3" fill="#4ebada"/>
<rect x="73.4" y="658.9" width="12.3" height="4.3" fill="#4fbbd9"/>
<rect x="85.4" y="658.9" width="4.3" height="4.3" fill="#4eb9da"/>
<rect x="89.4" y="658.9" width="4.3" height="4.3" fill="#4bb5dd"/>
<rect x="93.4" y="658.9" width="4.3" height="4.3" fill="#48afe0"/>
<rect x="97.4" y="658.9" width="4.3" height="4.3" fill="#48acdf"/>
<rect x="101.4" y="658.9" width="4.3" height="4.3" fill="#48addf"/>
<rect x="105.4" y="658.9" width="4.3" height="4.3" fill="#48acdf"/>
<rect x="109.4" y="658.9" width="4.3" height="4.3" fill="#48b1e0"/>
<rect x="113.4" y="658.9" width="4.3" height="4.3" fill="#4fbad9"/>
<rect x="117.4" y="658.9" width="4.3" height="4.3" fill="#53c0cd"/>
<rect x="121.4" y="658.9" width="4.3" height="4.3" fill="#55c4c3"/>
<rect x="125.4" y="658.9" width="4.3" height="4.3" fill="#58c8b9"/>
<rect x="129.4" y="658.9" width="4.3" height="4.3" fill="#58c8b4"/>
<rect x="133.4" y="658.9" width="4.3" height="4.3" fill="#58c8b0"/>
<rect x="137.4" y="658.9" width="4.3" height="4.3" fill="#58c8ae"/>
<rect x="141.4" y="658.9" width="4.3" height="4.3" fill="#58c8ad"/>
<rect x="145.4" y="658.9" width="12.3" height="4.3" fill="#58c8ac"/>
<rect x="157.4" y="658.9" width="4.3" height="4.3" fill="#58c8ad"/>
<rect x="161.4" y="658.9" width="4.3" height="4.3" fill="#58c8ae"/>
<rect x="165.4" y="658.9" width="4.3" height="4.3" fill="#58c8b0"/>
<rect x="169.4" y="658.9" width="4.3" height="4.3" fill="#58c8b3"/>
<rect x="173.4" y="658.9" width="4.3" height="4.3" fill="#58c8b8"/>
<rect x="177.4" y="658.9" width="4.3" height="4.3" fill="#55c4c3"/>
<rect x="181.4" y="658.9" width="4.3" height="4.3" fill="#52bfcf"/>
<rect x="185.4" y="658.9" width="4.3" height="4.3" fill="#4eb9da"/>
<rect x="189.4" y="658.9" width="4.3" height="4.3" fill="#49b1df"/>
<rect x="193.4" y="658.9" width="4.3" height="4.3" fill="#48a4dc"/>
<rect x="197.4" y="658.9" width="4.3" height="4.3" fill="#4897d8"/>
<rect x="201.4" y="658.9" width="4.3" height="4.3" fill="#498bd2"/>
<rect x="205.4" y="658.9" width="4.3" height="4.3" fill="#4a81cd"/>
<rect x="209.4" y="658.9" width="4.3" height="4.3" fill="#4a7bc9"/>
<rect x="213.4" y="658.9" width="4.3" height="4.3" fill="#4b79c8"/>
<rect x="217.4" y="658.9" width="4.3" height="4.3" fill="#4b7bc9"/>
<rect x="221.4" y="658.9" width="4.3" height="4.3" fill="#4a80cc"/>
<rect x="57.4" y="662.9" width="4.3" height="4.3" fill="#4bb5dd"/>
<rect x="61.4" y="662.9" width="4.3" height="4.3" fill="#4cb6dc"/>
<rect x="65.4" y="662.9" width="4.3" height="4.3" fill="#4db7db"/>
<rect x="69.4" y="662.9" width="4.3" height="4.3" fill="#4db8db"/>
<rect x="73.4" y="662.9" width="12.3" height="4.3" fill="#4eb9da"/>
<rect x="85.4" y="662.9" width="4.3" height="4.3" fill="#4db7db"/>
<rect x="89.4" y="662.9" width="4.3" height="4.3" fill="#4ab3de"/>
<rect x="93.4" y="662.9" width="4.3" height="4.3" fill="#48aedf"/>
<rect x="97.4" y="662.9" width="4.3" height="4.3" fill="#48abde"/>
<rect x="101.4" y="662.9" width="4.3" height="4.3" fill="#48acdf"/>
<rect x="105.4" y="662.9" width="4.3" height="4.3" fill="#48abde"/>
<rect x="109.4" y="662.9" width="4.3" height="4.3" fill="#48aedf"/>
<rect x="113.4" y="662.9" width="4.3" height="4.3" fill="#4db7db"/>
<rect x="117.4" y="662.9" width="4.3" height="4.3" fill="#51bdd5"/>
<rect x="121.4" y="662.9" width="4.3" height="4.3" fill="#53c0ce"/>
<rect x="125.4" y="662.9" width="4.3" height="4.3" fill="#54c2c8"/>
<rect x="129.4" y="662.9" width="4.3" height="4.3" fill="#55c4c3"/>
<rect x="133.4" y="662.9" width="4.3" height="4.3" fill="#56c5c0"/>
<rect x="137.4" y="662.9" width="4.3" height="4.3" fill="#57c6be"/>
<rect x="141.4" y="662.9" width="16.3" height="4.3" fill="#57c6bd"/>
<rect x="157.4" y="662.9" width="4.3" height="4.3" fill="#57c6be"/>
<rect x="161.4" y="662.9" width="4.3" height="4.3" fill="#56c5bf"/>
<rect x="165.4" y="662.9" width="4.3" height="4.3" fill="#56c5c1"/>
<rect x="169.4" y="662.9" width="4.3" height="4.3" fill="#55c3c5"/>
<rect x="173.4" y="662.9" width="4.3" height="4.3" fill="#53c1cb"/>
<rect x="177.4" y="662.9" width="4.3" height="4.3" fill="#51bed2"/>
<rect x="181.4" y="662.9" width="4.3" height="4.3" fill="#4fbad9"/>
<rect x="185.4" y="662.9" width="4.3" height="4.3" fill="#4bb4dd"/>
<rect x="189.4" y="662.9" width="4.3" height="4.3" fill="#48aedf"/>
<rect x="193.4" y="662.9" width="4.3" height="4.3" fill="#48a4dc"/>
<rect x="197.4" y="662.9" width="4.3" height="4.3" fill="#489bd9"/>
<rect x="201.4" y="662.9" width="4.3" height="4.3" fill="#4892d5"/>
<rect x="205.4" y="662.9" width="4.3" height="4.3" fill="#498bd2"/>
<rect x="209.4" y="662.9" width="4.3" height="4.3" fill="#4986cf"/>
<rect x="213.4" y="662.9" width="4.3" height="4.3" fill="#4a85ce"/>
<rect x="217.4" y="662.9" width="4.3" height="4.3" fill="#4987cf"/>
<rect x="221.4" y="662.9" width="4.3" height="4.3" fill="#498bd2"/>
<rect x="57.4" y="666.9" width="4.3" height="4.3" fill="#4bb4dd"/>
<rect x="61.4" y="666.9" width="4.3" height="4.3" fill="#4bb5dd"/>
<rect x="65.4" y="666.9" width="4.3" height="4.3" fill="#4cb6dc"/>
<rect x="69.4" y="666.9" width="8.3" height="4.3" fill="#4db7db"/>
<rect x="77.4" y="666.9" width="4.3" height="4.3" fill="#4db8db"/>
<rect x="81.4" y="666.9" width="4.3" height="4.3" fill="#4db7db"/>
<rect x="85.4" y="666.9" width="4.3" height="4.3" fill="#4cb6dc"/>
<rect x="89.4" y="666.9" width="4.3" height="4.3" fill="#49b2df"/>
<rect x="93.4" y="666.9" width="4.3" height="4.3" fill="#48addf"/>
<rect x="97.4" y="666.9" width="8.3" height="4.3" fill="#48aade"/>
<rect x="105.4" y="666.9" width="4.3" height="4.3" fill="#48a9de"/>
<rect x="109.4" y="666.9" width="4.3" height="4.3" fill="#48acdf"/>
<rect x="113.4" y="666.9" width="4.3" height="4.3" fill="#4bb4dd"/>
<rect x="117.4" y="666.9" width="4.3" height="4.3" fill="#4eb9da"/>
<rect x="121.4" y="666.9" width="4.3" height="4.3" fill="#50bcd8"/>
<rect x="125.4" y="666.9" width="4.3" height="4.3" fill="#50bdd6"/>
<rect x="129.4" y="666.9" width="8.3" height="4.3" fill="#51bdd5"/>
<rect x="137.4" y="666.9" width="4.3" height="4.3" fill="#51bdd6"/>
<rect x="141.4" y="666.9" width="4.3" height="4.3" fill="#50bcd7"/>
<rect x="145.4" y="666.9" width="4.3" height="4.3" fill="#50bcd8"/>
<rect x="149.4" y="666.9" width="8.3" height="4.3" fill="#50bbd8"/>
<rect x="157.4" y="666.9" width="4.3" height="4.3" fill="#50bcd8"/>
<rect x="161.4" y="666.9" width="4.3" height="4.3" fill="#50bbd8"/>
<rect x="165.4" y="666.9" width="4.3" height="4.3" fill="#4fbbd9"/>
<rect x="169.4" y="666.9" width="4.3" height="4.3" fill="#4eb9da"/>
<rect x="173.4" y="666.9" width="4.3" height="4.3" fill="#4db7db"/>
<rect x="177.4" y="666.9" width="4.3" height="4.3" fill="#4bb4dd"/>
<rect x="181.4" y="666.9" width="4.3" height="4.3" fill="#48b1e0"/>
<rect x="185.4" y="666.9" width="4.3" height="4.3" fill="#48abde"/>
<rect x="189.4" y="666.9" width="4.3" height="4.3" fill="#48a6dd"/>
<rect x="193.4" y="666.9" width="4.3" height="4.3" fill="#48a0db"/>
<rect x="197.4" y="666.9" width="4.3" height="4.3" fill="#489ad9"/>
<rect x="201.4" y="666.9" width="4.3" height="4.3" fill="#4894d6"/>
<rect x="205.4" y="666.9" width="4.3" height="4.3" fill="#4990d4"/>
<rect x="209.4" y="666.9" width="8.3" height="4.3" fill="#498dd2"/>
<rect x="217.4" y="666.9" width="4.3" height="4.3" fill="#498fd3"/>
<rect x="221.4" y="666.9" width="4.3" height="4.3" fill="#4893d5"/>
<rect x="57.4" y="670.9" width="8.3" height="4.3" fill="#4bb4dd"/>
<rect x="65.4" y="670.9" width="4.3" height="4.3" fill="#4bb5dd"/>
<rect x="69.4" y="670.9" width="16.3" height="4.3" fill="#4cb6dc"/>
<rect x="85.4" y="670.9" width="4.3" height="4.3" fill="#4bb4dd"/>
<rect x="89.4" y="670.9" width="4.3" height="4.3" fill="#49b1df"/>
<rect x="93.4" y="670.9" width="4.3" height="4.3" fill="#48acdf"/>
<rect x="97.4" y="670.9" width="8.3" height="4.3" fill="#48a9de"/>
<rect x="105.4" y="670.9" width="4.3" height="4.3" fill="#48a8dd"/>
<rect x="109.4" y="670.9" width="4.3" height="4.3" fill="#48a9de"/>
<rect x="113.4" y="670.9" width="4.3" height="4.3" fill="#49b1df"/>
<rect x="117.4" y="670.9" width="12.3" height="4.3" fill="#4bb5dd"/>
<rect x="129.4" y="670.9" width="4.3" height="4.3" fill="#4ab3de"/>
<rect x="133.4" y="670.9" width="4.3" height="4.3" fill="#48b0e0"/>
<rect x="137.4" y="670.9" width="4.3" height="4.3" fill="#48acdf"/>
<rect x="141.4" y="670.9" width="4.3" height="4.3" fill="#48a9de"/>
<rect x="145.4" y="670.9" width="4.3" height="4.3" fill="#48a6dd"/>
<rect x="149.4" y="670.9" width="4.3" height="4.3" fill="#48a5dc"/>
<rect x="153.4" y="670.9" width="4.3" height="4.3" fill="#48a6dd"/>
<rect x="157.4" y="670.9" width="4.3" height="4.3" fill="#48a7dd"/>
<rect x="161.4" y="670.9" width="8.3" height="4.3" fill="#48a8dd"/>
<rect x="169.4" y="670.9" width="4.3" height="4.3" fill="#48a7dd"/>
<rect x="173.4" y="670.9" width="4.3" height="4.3" fill="#48a5dc"/>
<rect x="177.4" y="670.9" width="4.3" height="4.3" fill="#48a2db"/>
<rect x="181.4" y="670.9" width="4.3" height="4.3" fill="#489fda"/>
<rect x="185.4" y="670.9" width="4.3" height="4.3" fill="#489bd9"/>
<rect x="189.4" y="670.9" width="4.3" height="4.3" fill="#4898d8"/>
<rect x="193.4" y="670.9" width="4.3" height="4.3" fill="#4894d6"/>
<rect x="197.4" y="670.9" width="4.3" height="4.3" fill="#4991d5"/>
<rect x="201.4" y="670.9" width="4.3" height="4.3" fill="#498fd3"/>
<rect x="205.4" y="670.9" width="8.3" height="4.3" fill="#498dd2"/>
<rect x="213.4" y="670.9" width="4.3" height="4.3" fill="#498ed3"/>
<rect x="217.4" y="670.9" width="4.3" height="4.3" fill="#4991d4"/>
<rect x="221.4" y="670.9" width="4.3" height="4.3" fill="#4895d6"/>
<rect x="57.4" y="674.9" width="4.3" height="4.3" fill="#4ab3de"/>
<rect x="61.4" y="674.9" width="8.3" height="4.3" fill="#4bb4dd"/>
<rect x="69.4" y="674.9" width="16.3" height="4.3" fill="#4bb5dd"/>
<rect x="85.4" y="674.9" width="4.3" height="4.3" fill="#4ab3de"/>
<rect x="89.4" y="674.9" width="4.3" height="4.3" fill="#48b0e0"/>
<rect x="93.4" y="674.9" width="4.3" height="4.3" fill="#48abde"/>
<rect x="97.4" y="674.9" width="4.3" height="4.3" fill="#48a9de"/>
<rect x="101.4" y="674.9" width="4.3" height="4.3" fill="#48a8dd"/>
<rect x="105.4" y="674.9" width="4.3" height="4.3" fill="#48a6dd"/>
<rect x="109.4" y="674.9" width="4.3" height="4.3" fill="#48a7dd"/>
<rect x="113.4" y="674.9" width="4.3" height="4.3" fill="#48addf"/>
<rect x="117.4" y="674.9" width="4.3" height="4.3" fill="#48b0e0"/>
<rect x="121.4" y="674.9" width="4.3" height="4.3" fill="#48afe0"/>
<rect x="125.4" y="674.9" width="4.3" height="4.3" fill="#48abde"/>
<rect x="129.4" y="674.9" width="4.3" height="4.3" fill="#48a5dc"/>
<rect x="133.4" y="674.9" width="4.3" height="4.3" fill="#489dda"/>
<rect x="137.4" y="674.9" width="4.3" height="4.3" fill="#4895d6"/>
<rect x="141.4" y="674.9" width="4.3" height="4.3" fill="#498ed3"/>
<rect x="145.4" y="674.9" width="4.3" height="4.3" fill="#4989d1"/>
<rect x="149.4" y="674.9" width="4.3" height="4.3" fill="#4988d0"/>
<rect x="153.4" y="674.9" width="4.3" height="4.3" fill="#4989d1"/>
<rect x="157.4" y="674.9" width="4.3" height="4.3" fill="#498cd2"/>
<rect x="161.4" y="674.9" width="4.3" height="4.3" fill="#498ed3"/>
<rect x="165.4" y="674.9" width="4.3" height="4.3" fill="#498fd4"/>
<rect x="169.4" y="674.9" width="4.3" height="4.3" fill="#498fd3"/>
<rect x="173.4" y="674.9" width="4.3" height="4.3" fill="#498dd3"/>
<rect x="177.4" y="674.9" width="4.3" height="4.3" fill="#498bd2"/>
<rect x="181.4" y="674.9" width="4.3" height="4.3" fill="#4989d0"/>
<rect x="185.4" y="674.9" width="4.3" height="4.3" fill="#4987cf"/>
<rect x="189.4" y="674.9" width="4.3" height="4.3" fill="#4a85cf"/>
<rect x="193.4" y="674.9" width="4.3" height="4.3" fill="#4a84ce"/>
<rect x="197.4" y="674.9" width="8.3" height="4.3" fill="#4a83cd"/>
<rect x="205.4" y="674.9" width="4.3" height="4.3" fill="#4a84ce"/>
<rect x="209.4" y="674.9" width="4.3" height="4.3" fill="#4a86cf"/>
<rect x="213.4" y="674.9" width="4.3" height="4.3" fill="#4989d0"/>
<rect x="217.4" y="674.9" width="4.3" height="4.3" fill="#498dd3"/>
<rect x="221.4" y="674.9" width="4.3" height="4.3" fill="#4892d5"/>
<rect x="57.4" y="678.9" width="8.3" height="4.3" fill="#4ab3de"/>
<rect x="65.4" y="678.9" width="20.3" height="4.3" fill="#4bb4dd"/>
<rect x="85.4" y="678.9" width="4.3" height="4.3" fill="#4ab3de"/>
<rect x="89.4" y="678.9" width="4.3" height="4.3" fill="#48b0e0"/>
<rect x="93.4" y="678.9" width="4.3" height="4.3" fill="#48abde"/>
<rect x="97.4" y="678.9" width="8.3" height="4.3" fill="#48a8dd"/>
<rect x="105.4" y="678.9" width="4.3" height="4.3" fill="#48a5dc"/>
<rect x="109.4" y="678.9" width="4.3" height="4.3" fill="#48a6dd"/>
<rect x="113.4" y="678.9" width="4.3" height="4.3" fill="#48aade"/>
<rect x="117.4" y="678.9" width="4.3" height="4.3" fill="#48acdf"/>
<rect x="121.4" y="678.9" width="4.3" height="4.3" fill="#48a8dd"/>
<rect x="125.4" y="678.9" width="4.3" height="4.3" fill="#48a2db"/>
<rect x="129.4" y="678.9" width="4.3" height="4.3" fill="#4898d8"/>
<rect x="133.4" y="678.9" width="4.3" height="4.3" fill="#498cd2"/>
<rect x="137.4" y="678.9" width="4.3" height="4.3" fill="#4a80cc"/>
<rect x="141.4" y="678.9" width="4.3" height="4.3" fill="#4b78c7"/>
<rect x="145.4" y="678.9" width="4.3" height="4.3" fill="#4b73c4"/>
<rect x="149.4" y="678.9" width="4.3" height="4.3" fill="#4b72c3"/>
<rect x="153.4" y="678.9" width="4.3" height="4.3" fill="#4b73c4"/>
<rect x="157.4" y="678.9" width="4.3" height="4.3" fill="#4b76c6"/>
<rect x="161.4" y="678.9" width="4.3" height="4.3" fill="#4b79c8"/>
<rect x="165.4" y="678.9" width="4.3" height="4.3" fill="#4b7bc9"/>
<rect x="169.4" y="678.9" width="4.3" height="4.3" fill="#4b7ac9"/>
<rect x="173.4" y="678.9" width="4.3" height="4.3" fill="#4b79c8"/>
<rect x="177.4" y="678.9" width="4.3" height="4.3" fill="#4b77c7"/>
<rect x="181.4" y="678.9" width="4.3" height="4.3" fill="#4b76c6"/>
<rect x="185.4" y="678.9" width="4.3" height="4.3" fill="#4b74c5"/>
<rect x="189.4" y="678.9" width="8.3" height="4.3" fill="#4b73c4"/>
<rect x="197.4" y="678.9" width="4.3" height="4.3" fill="#4b74c5"/>
<rect x="201.4" y="678.9" width="4.3" height="4.3" fill="#4b76c6"/>
<rect x="205.4" y="678.9" width="4.3" height="4.3" fill="#4b78c7"/>
<rect x="209.4" y="678.9" width="4.3" height="4.3" fill="#4a7cca"/>
<rect x="213.4" y="678.9" width="4.3" height="4.3" fill="#4a80cc"/>
<rect x="217.4" y="678.9" width="4.3" height="4.3" fill="#4986cf"/>
<rect x="221.4" y="678.9" width="4.3" height="4.3" fill="#498dd2"/>
<rect x="57.4" y="682.9" width="12.3" height="4.3" fill="#4ab3de"/>
<rect x="69.4" y="682.9" width="12.3" height="4.3" fill="#4ab4de"/>
<rect x="81.4" y="682.9" width="4.3" height="4.3" fill="#4ab3de"/>
<rect x="85.4" y="682.9" width="4.3" height="4.3" fill="#49b2df"/>
<rect x="89.4" y="682.9" width="4.3" height="4.3" fill="#48afe0"/>
<rect x="93.4" y="682.9" width="4.3" height="4.3" fill="#48aade"/>
<rect x="97.4" y="682.9" width="8.3" height="4.3" fill="#48a8dd"/>
<rect x="105.4" y="682.9" width="8.3" height="4.3" fill="#48a5dc"/>
<rect x="113.4" y="682.9" width="8.3" height="4.3" fill="#48a9de"/>
<rect x="121.4" y="682.9" width="4.3" height="4.3" fill="#48a5dc"/>
<rect x="125.4" y="682.9" width="4.3" height="4.3" fill="#489dda"/>
<rect x="129.4" y="682.9" width="4.3" height="4.3" fill="#4892d5"/>
<rect x="133.4" y="682.9" width="4.3" height="4.3" fill="#4a85cf"/>
<rect x="137.4" y="682.9" width="4.3" height="4.3" fill="#4b79c8"/>
<rect x="141.4" y="682.9" width="4.3" height="4.3" fill="#4c70c2"/>
<rect x="145.4" y="682.9" width="4.3" height="4.3" fill="#4c6bc0"/>
<rect x="149.4" y="682.9" width="4.3" height="4.3" fill="#4c6bbf"/>
<rect x="153.4" y="682.9" width="4.3" height="4.3" fill="#4c6bc0"/>
<rect x="157.4" y="682.9" width="4.3" height="4.3" fill="#4c6dc0"/>
<rect x="161.4" y="682.9" width="4.3" height="4.3" fill="#4c6fc2"/>
<rect x="165.4" y="682.9" width="4.3" height="4.3" fill="#4c70c2"/>
<rect x="169.4" y="682.9" width="4.3" height="4.3" fill="#4c6fc2"/>
<rect x="173.4" y="682.9" width="4.3" height="4.3" fill="#4c6dc1"/>
<rect x="177.4" y="682.9" width="4.3" height="4.3" fill="#4c6cc0"/>
<rect x="181.4" y="682.9" width="4.3" height="4.3" fill="#4c6bbf"/>
<rect x="185.4" y="682.9" width="4.3" height="4.3" fill="#4c6abf"/>
<rect x="189.4" y="682.9" width="4.3" height="4.3" fill="#4c69bf"/>
<rect x="193.4" y="682.9" width="8.3" height="4.3" fill="#4c6abf"/>
<rect x="201.4" y="682.9" width="4.3" height="4.3" fill="#4c6bc0"/>
<rect x="205.4" y="682.9" width="4.3" height="4.3" fill="#4c6ec1"/>
<rect x="209.4" y="682.9" width="4.3" height="4.3" fill="#4b73c4"/>
<rect x="213.4" y="682.9" width="4.3" height="4.3" fill="#4b79c8"/>
<rect x="217.4" y="682.9" width="4.3" height="4.3" fill="#4a7fcc"/>
<rect x="221.4" y="682.9" width="4.3" height="4.3" fill="#4987d0"/>
<rect x="57.4" y="686.9" width="28.3" height="4.3" fill="#4ab3de"/>
<rect x="85.4" y="686.9" width="4.3" height="4.3" fill="#49b2df"/>
<rect x="89.4" y="686.9" width="4.3" height="4.3" fill="#48afe0"/>
<rect x="93.4" y="686.9" width="4.3" height="4.3" fill="#48abde"/>
<rect x="97.4" y="686.9" width="8.3" height="4.3" fill="#48a8dd"/>
<rect x="105.4" y="686.9" width="4.3" height="4.3" fill="#48a6dd"/>
<rect x="109.4" y="686.9" width="4.3" height="4.3" fill="#48a5dc"/>
<rect x="113.4" y="686.9" width="8.3" height="4.3" fill="#48a9de"/>
<rect x="121.4" y="686.9" width="4.3" height="4.3" fill="#48a5dc"/>
<rect x="125.4" y="686.9" width="4.3" height="4.3" fill="#489eda"/>
<rect x="129.4" y="686.9" width="4.3" height="4.3" fill="#4895d6"/>
<rect x="133.4" y="686.9" width="4.3" height="4.3" fill="#4989d1"/>
<rect x="137.4" y="686.9" width="4.3" height="4.3" fill="#4a7ecb"/>
<rect x="141.4" y="686.9" width="4.3" height="4.3" fill="#4b76c6"/>
<rect x="145.4" y="686.9" width="4.3" height="4.3" fill="#4c70c3"/>
<rect x="149.4" y="686.9" width="8.3" height="4.3" fill="#4c6ec1"/>
<rect x="157.4" y="686.9" width="4.3" height="4.3" fill="#4c70c2"/>
<rect x="161.4" y="686.9" width="4.3" height="4.3" fill="#4c70c3"/>
<rect x="165.4" y="686.9" width="4.3" height="4.3" fill="#4c70c2"/>
<rect x="169.4" y="686.9" width="4.3" height="4.3" fill="#4c6ec1"/>
<rect x="173.4" y="686.9" width="4.3" height="4.3" fill="#4c6cc0"/>
<rect x="177.4" y="686.9" width="4.3" height="4.3" fill="#4c6abf"/>
<rect x="181.4" y="686.9" width="4.3" height="4.3" fill="#4c69be"/>
<rect x="185.4" y="686.9" width="4.3" height="4.3" fill="#4c67be"/>
<rect x="189.4" y="686.9" width="8.3" height="4.3" fill="#4c67bd"/>
<rect x="197.4" y="686.9" width="4.3" height="4.3" fill="#4c67be"/>
<rect x="201.4" y="686.9" width="4.3" height="4.3" fill="#4c68be"/>
<rect x="205.4" y="686.9" width="4.3" height="4.3" fill="#4c6abf"/>
<rect x="209.4" y="686.9" width="4.3" height="4.3" fill="#4c6ec1"/>
<rect x="213.4" y="686.9" width="4.3" height="4.3" fill="#4b75c5"/>
<rect x="217.4" y="686.9" width="4.3" height="4.3" fill="#4a7cca"/>
<rect x="221.4" y="686.9" width="4.3" height="4.3" fill="#4a85ce"/>
<rect x="57.4" y="690.9" width="24.3" height="4.3" fill="#4ab3de"/>
<rect x="81.4" y="690.9" width="4.3" height="4.3" fill="#4ab2de"/>
<rect x="85.4" y="690.9" width="4.3" height="4.3" fill="#49b1df"/>
<rect x="89.4" y="690.9" width="4.3" height="4.3" fill="#48afe0"/>
<rect x="93.4" y="690.9" width="4.3" height="4.3" fill="#48abde"/>
<rect x="97.4" y="690.9" width="8.3" height="4.3" fill="#48a9de"/>
<rect x="105.4" y="690.9" width="8.3" height="4.3" fill="#48a7dd"/>
<rect x="113.4" y="690.9" width="4.3" height="4.3" fill="#48aade"/>
<rect x="117.4" y="690.9" width="4.3" height="4.3" fill="#48abde"/>
<rect x="121.4" y="690.9" width="4.3" height="4.3" fill="#48a8dd"/>
<rect x="125.4" y="690.9" width="4.3" height="4.3" fill="#48a4dc"/>
<rect x="129.4" y="690.9" width="4.3" height="4.3" fill="#489dda"/>
<rect x="133.4" y="690.9" width="4.3" height="4.3" fill="#4895d6"/>
<rect x="137.4" y="690.9" width="4.3" height="4.3" fill="#498dd2"/>
<rect x="141.4" y="690.9" width="4.3" height="4.3" fill="#4a85cf"/>
<rect x="145.4" y="690.9" width="4.3" height="4.3" fill="#4a80cc"/>
<rect x="149.4" y="690.9" width="4.3" height="4.3" fill="#4a7dca"/>
<rect x="153.4" y="690.9" width="8.3" height="4.3" fill="#4a7cca"/>
<rect x="161.4" y="690.9" width="4.3" height="4.3" fill="#4a7bc9"/>
<rect x="165.4" y="690.9" width="4.3" height="4.3" fill="#4b79c8"/>
<rect x="169.4" y="690.9" width="4.3" height="4.3" fill="#4b76c6"/>
<rect x="173.4" y="690.9" width="4.3" height="4.3" fill="#4b71c3"/>
<rect x="177.4" y="690.9" width="4.3" height="4.3" fill="#4c6cc0"/>
<rect x="181.4" y="690.9" width="4.3" height="4.3" fill="#4c6abf"/>
<rect x="185.4" y="690.9" width="4.3" height="4.3" fill="#4c68be"/>
<rect x="189.4" y="690.9" width="4.3" height="4.3" fill="#4c67be"/>
<rect x="193.4" y="690.9" width="8.3" height="4.3" fill="#4c67bd"/>
<rect x="201.4" y="690.9" width="4.3" height="4.3" fill="#4c68be"/>
<rect x="205.4" y="690.9" width="4.3" height="4.3" fill="#4c6abf"/>
<rect x="209.4" y="690.9" width="4.3" height="4.3" fill="#4c6ec1"/>
<rect x="213.4" y="690.9" width="4.3" height="4.3" fill="#4b75c5"/>
<rect x="217.4" y="690.9" width="4.3" height="4.3" fill="#4a7dca"/>
<rect x="221.4" y="690.9" width="4.3" height="4.3" fill="#4986cf"/>
<rect x="57.4" y="694.9" width="20.3" height="4.3" fill="#4ab2de"/>
<rect x="77.4" y="694.9" width="8.3" height="4.3" fill="#49b2df"/>
<rect x="85.4" y="694.9" width="4.3" height="4.3" fill="#48b1e0"/>
<rect x="89.4" y="694.9" width="4.3" height="4.3" fill="#48aedf"/>
<rect x="93.4" y="694.9" width="4.3" height="4.3" fill="#48abde"/>
<rect x="97.4" y="694.9" width="8.3" height="4.3" fill="#48a9de"/>
<rect x="105.4" y="694.9" width="8.3" height="4.3" fill="#48a8dd"/>
<rect x="113.4" y="694.9" width="4.3" height="4.3" fill="#48acdf"/>
<rect x="117.4" y="694.9" width="4.3" height="4.3" fill="#48aedf"/>
<rect x="121.4" y="694.9" width="4.3" height="4.3" fill="#48acdf"/>
<rect x="125.4" y="694.9" width="4.3" height="4.3" fill="#48aade"/>
<rect x="129.4" y="694.9" width="4.3" height="4.3" fill="#48a6dd"/>
<rect x="133.4" y="694.9" width="4.3" height="4.3" fill="#48a1db"/>
<rect x="137.4" y="694.9" width="4.3" height="4.3" fill="#489cd9"/>
<rect x="141.4" y="694.9" width="4.3" height="4.3" fill="#4898d8"/>
<rect x="145.4" y="694.9" width="4.3" height="4.3" fill="#4894d6"/>
<rect x="149.4" y="694.9" width="4.3" height="4.3" fill="#4992d5"/>
<rect x="153.4" y="694.9" width="4.3" height="4.3" fill="#4990d4"/>
<rect x="157.4" y="694.9" width="4.3" height="4.3" fill="#498ed3"/>
<rect x="161.4" y="694.9" width="4.3" height="4.3" fill="#498bd2"/>
<rect x="165.4" y="694.9" width="4.3" height="4.3" fill="#4988d0"/>
<rect x="169.4" y="694.9" width="4.3" height="4.3" fill="#4a83cd"/>
<rect x="173.4" y="694.9" width="4.3" height="4.3" fill="#4a7dca"/>
<rect x="177.4" y="694.9" width="4.3" height="4.3" fill="#4b78c7"/>
<rect x="181.4" y="694.9" width="4.3" height="4.3" fill="#4b72c4"/>
<rect x="185.4" y="694.9" width="4.3" height="4.3" fill="#4c6dc1"/>
<rect x="189.4" y="694.9" width="4.3" height="4.3" fill="#4c6bbf"/>
<rect x="193.4" y="694.9" width="8.3" height="4.3" fill="#4c6abf"/>
<rect x="201.4" y="694.9" width="4.3" height="4.3" fill="#4c6bbf"/>
<rect x="205.4" y="694.9" width="4.3" height="4.3" fill="#4c6dc1"/>
<rect x="209.4" y="694.9" width="4.3" height="4.3" fill="#4b73c4"/>
<rect x="213.4" y="694.9" width="4.3" height="4.3" fill="#4b7ac9"/>
<rect x="217.4" y="694.9" width="4.3" height="4.3" fill="#4a82cd"/>
<rect x="221.4" y="694.9" width="4.3" height="4.3" fill="#498cd2"/>
<rect x="57.4" y="698.9" width="4.3" height="4.3" fill="#4ab2de"/>
<rect x="61.4" y="698.9" width="12.3" height="4.3" fill="#49b2df"/>
<rect x="73.4" y="698.9" width="4.3" height="4.3" fill="#49b1df"/>
<rect x="77.4" y="698.9" width="4.3" height="4.3" fill="#48b1e0"/>
<rect x="81.4" y="698.9" width="4.3" height="4.3" fill="#48b0e0"/>
<rect x="85.4" y="698.9" width="4.3" height="4.3" fill="#48aedf"/>
<rect x="89.4" y="698.9" width="4.3" height="4.3" fill="#48acdf"/>
<rect x="93.4" y="698.9" width="16.3" height="4.3" fill="#48a9de"/>
<rect x="109.4" y="698.9" width="4.3" height="4.3" fill="#48aade"/>
<rect x="113.4" y="698.9" width="4.3" height="4.3" fill="#48aedf"/>
<rect x="117.4" y="698.9" width="4.3" height="4.3" fill="#48b0e0"/>
<rect x="121.4" y="698.9" width="4.3" height="4.3" fill="#48afe0"/>
<rect x="125.4" y="698.9" width="4.3" height="4.3" fill="#48aedf"/>
<rect x="129.4" y="698.9" width="4.3" height="4.3" fill="#48acdf"/>
<rect x="133.4" y="698.9" width="4.3" height="4.3" fill="#48aade"/>
<rect x="137.4" y="698.9" width="4.3" height="4.3" fill="#48a8dd"/>
<rect x="141.4" y="698.9" width="4.3" height="4.3" fill="#48a6dd"/>
<rect x="145.4" y="698.9" width="4.3" height="4.3" fill="#48a4dc"/>
<rect x="149.4" y="698.9" width="4.3" height="4.3" fill="#48a2db"/>
<rect x="153.4" y="698.9" width="4.3" height="4.3" fill="#48a0db"/>
<rect x="157.4" y="698.9" width="4.3" height="4.3" fill="#489eda"/>
<rect x="161.4" y="698.9" width="4.3" height="4.3" fill="#489bd9"/>
<rect x="165.4" y="698.9" width="4.3" height="4.3" fill="#4898d8"/>
<rect x="169.4" y="698.9" width="4.3" height="4.3" fill="#4893d5"/>
<rect x="173.4" y="698.9" width="4.3" height="4.3" fill="#498dd3"/>
<rect x="177.4" y="698.9" width="4.3" height="4.3" fill="#4987d0"/>
<rect x="181.4" y="698.9" width="4.3" height="4.3" fill="#4a81cc"/>
<rect x="185.4" y="698.9" width="4.3" height="4.3" fill="#4a7cc9"/>
<rect x="189.4" y="698.9" width="4.3" height="4.3" fill="#4b78c7"/>
<rect x="193.4" y="698.9" width="4.3" height="4.3" fill="#4b75c5"/>
<rect x="197.4" y="698.9" width="4.3" height="4.3" fill="#4b74c5"/>
<rect x="201.4" y="698.9" width="4.3" height="4.3" fill="#4b75c6"/>
<rect x="205.4" y="698.9" width="4.3" height="4.3" fill="#4b79c8"/>
<rect x="209.4" y="698.9" width="4.3" height="4.3" fill="#4a7ecb"/>
<rect x="213.4" y="698.9" width="4.3" height="4.3" fill="#4a85ce"/>
<rect x="217.4" y="698.9" width="4.3" height="4.3" fill="#498dd2"/>
<rect x="221.4" y="698.9" width="4.3" height="4.3" fill="#4894d6"/>
<rect x="57.4" y="702.9" width="8.3" height="4.3" fill="#49b2df"/>
<rect x="65.4" y="702.9" width="4.3" height="4.3" fill="#49b1df"/>
<rect x="69.4" y="702.9" width="4.3" height="4.3" fill="#48b0e0"/>
<rect x="73.4" y="702.9" width="4.3" height="4.3" fill="#48aedf"/>
<rect x="77.4" y="702.9" width="4.3" height="4.3" fill="#48acdf"/>
<rect x="81.4" y="702.9" width="4.3" height="4.3" fill="#48aade"/>
<rect x="85.4" y="702.9" width="4.3" height="4.3" fill="#48a8dd"/>
<rect x="89.4" y="702.9" width="4.3" height="4.3" fill="#48a6dd"/>
<rect x="93.4" y="702.9" width="4.3" height="4.3" fill="#48a5dc"/>
<rect x="97.4" y="702.9" width="4.3" height="4.3" fill="#48a6dd"/>
<rect x="101.4" y="702.9" width="8.3" height="4.3" fill="#48a8dd"/>
<rect x="109.4" y="702.9" width="4.3" height="4.3" fill="#48aade"/>
<rect x="113.4" y="702.9" width="4.3" height="4.3" fill="#48aedf"/>
<rect x="117.4" y="702.9" width="8.3" height="4.3" fill="#49b1df"/>
<rect x="125.4" y="702.9" width="4.3" height="4.3" fill="#48b1e0"/>
<rect x="129.4" y="702.9" width="4.3" height="4.3" fill="#48b0e0"/>
<rect x="133.4" y="702.9" width="4.3" height="4.3" fill="#48afe0"/>
<rect x="137.4" y="702.9" width="4.3" height="4.3" fill="#48aedf"/>
<rect x="141.4" y="702.9" width="4.3" height="4.3" fill="#48addf"/>
<rect x="145.4" y="702.9" width="4.3" height="4.3" fill="#48acdf"/>
<rect x="149.4" y="702.9" width="4.3" height="4.3" fill="#48abde"/>
<rect x="153.4" y="702.9" width="4.3" height="4.3" fill="#48aade"/>
<rect x="157.4" y="702.9" width="4.3" height="4.3" fill="#48a8dd"/>
<rect x="161.4" y="702.9" width="4.3" height="4.3" fill="#48a6dd"/>
<rect x="165.4" y="702.9" width="4.3" height="4.3" fill="#48a4dc"/>
<rect x="169.4" y="702.9" width="4.3" height="4.3" fill="#48a0db"/>
<rect x="173.4" y="702.9" width="4.3" height="4.3" fill="#489cd9"/>
<rect x="177.4" y="702.9" width="4.3" height="4.3" fill="#4898d8"/>
<rect x="181.4" y="702.9" width="4.3" height="4.3" fill="#4893d5"/>
<rect x="185.4" y="702.9" width="4.3" height="4.3" fill="#498ed3"/>
<rect x="189.4" y="702.9" width="4.3" height="4.3" fill="#498ad1"/>
<rect x="193.4" y="702.9" width="4.3" height="4.3" fill="#4987cf"/>
<rect x="197.4" y="702.9" width="4.3" height="4.3" fill="#4a86cf"/>
<rect x="201.4" y="702.9" width="4.3" height="4.3" fill="#4987cf"/>
<rect x="205.4" y="702.9" width="4.3" height="4.3" fill="#4989d1"/>
<rect x="209.4" y="702.9" width="4.3" height="4.3" fill="#498ed3"/>
<rect x="213.4" y="702.9" width="4.3" height="4.3" fill="#4893d5"/>
<rect x="217.4" y="702.9" width="4.3" height="4.3" fill="#4899d8"/>
<rect x="221.4" y="702.9" width="4.3" height="4.3" fill="#489eda"/>
<rect x="57.4" y="706.9" width="4.3" height="4.3" fill="#49b2df"/>
<rect x="61.4" y="706.9" width="4.3" height="4.3" fill="#49b1df"/>
<rect x="65.4" y="706.9" width="4.3" height="4.3" fill="#48b0e0"/>
<rect x="69.4" y="706.9" width="4.3" height="4.3" fill="#48addf"/>
<rect x="73.4" y="706.9" width="4.3" height="4.3" fill="#48a9de"/>
<rect x="77.4" y="706.9" width="4.3" height="4.3" fill="#48a5dc"/>
<rect x="81.4" y="706.9" width="4.3" height="4.3" fill="#48a2db"/>
<rect x="85.4" y="706.9" width="4.3" height="4.3" fill="#489fda"/>
<rect x="89.4" y="706.9" width="8.3" height="4.3" fill="#489eda"/>
<rect x="97.4" y="706.9" width="4.3" height="4.3" fill="#48a0db"/>
<rect x="101.4" y="706.9" width="4.3" height="4.3" fill="#48a4dc"/>
<rect x="105.4" y="706.9" width="4.3" height="4.3" fill="#48a7dd"/>
<rect x="109.4" y="706.9" width="4.3" height="4.3" fill="#48aade"/>
<rect x="113.4" y="706.9" width="4.3" height="4.3" fill="#48afe0"/>
<rect x="117.4" y="706.9" width="4.3" height="4.3" fill="#49b1df"/>
<rect x="121.4" y="706.9" width="8.3" height="4.3" fill="#49b2df"/>
<rect x="129.4" y="706.9" width="12.3" height="4.3" fill="#49b1df"/>
<rect x="141.4" y="706.9" width="4.3" height="4.3" fill="#48b1e0"/>
<rect x="145.4" y="706.9" width="8.3" height="4.3" fill="#48b0e0"/>
<rect x="153.4" y="706.9" width="4.3" height="4.3" fill="#48afe0"/>
<rect x="157.4" y="706.9" width="4.3" height="4.3" fill="#48aedf"/>
<rect x="161.4" y="706.9" width="4.3" height="4.3" fill="#48addf"/>
<rect x="165.4" y="706.9" width="4.3" height="4.3" fill="#48acdf"/>
<rect x="169.4" y="706.9" width="4.3" height="4.3" fill="#48aade"/>
<rect x="173.4" y="706.9" width="4.3" height="4.3" fill="#48a7dd"/>
<rect x="177.4" y="706.9" width="4.3" height="4.3" fill="#48a4dc"/>
<rect x="181.4" y="706.9" width="4.3" height="4.3" fill="#48a1db"/>
<rect x="185.4" y="706.9" width="4.3" height="4.3" fill="#489eda"/>
<rect x="189.4" y="706.9" width="4.3" height="4.3" fill="#489bd9"/>
<rect x="193.4" y="706.9" width="12.3" height="4.3" fill="#4899d8"/>
<rect x="205.4" y="706.9" width="4.3" height="4.3" fill="#489bd9"/>
<rect x="209.4" y="706.9" width="4.3" height="4.3" fill="#489dda"/>
<rect x="213.4" y="706.9" width="4.3" height="4.3" fill="#48a0db"/>
<rect x="217.4" y="706.9" width="4.3" height="4.3" fill="#48a4dc"/>
<rect x="221.4" y="706.9" width="4.3" height="4.3" fill="#48a7dd"/>
<rect x="57.4" y="710.9" width="4.3" height="4.3" fill="#49b1df"/>
<rect x="61.4" y="710.9" width="4.3" height="4.3" fill="#48b0e0"/>
<rect x="65.4" y="710.9" width="4.3" height="4.3" fill="#48aedf"/>
<rect x="69.4" y="710.9" width="4.3" height="4.3" fill="#48aade"/>
<rect x="73.4" y="710.9" width="4.3" height="4.3" fill="#48a4dc"/>
<rect x="77.4" y="710.9" width="4.3" height="4.3" fill="#489fda"/>
<rect x="81.4" y="710.9" width="4.3" height="4.3" fill="#4899d8"/>
<rect x="85.4" y="710.9" width="4.3" height="4.3" fill="#4896d7"/>
<rect x="89.4" y="710.9" width="4.3" height="4.3" fill="#4895d6"/>
<rect x="93.4" y="710.9" width="4.3" height="4.3" fill="#4896d7"/>
<rect x="97.4" y="710.9" width="4.3" height="4.3" fill="#489bd9"/>
<rect x="101.4" y="710.9" width="4.3" height="4.3" fill="#48a1db"/>
<rect x="105.4" y="710.9" width="4.3" height="4.3" fill="#48a5dc"/>
<rect x="109.4" y="710.9" width="4.3" height="4.3" fill="#48a9de"/>
<rect x="113.4" y="710.9" width="4.3" height="4.3" fill="#48afe0"/>
<rect x="117.4" y="710.9" width="4.3" height="4.3" fill="#49b1df"/>
<rect x="121.4" y="710.9" width="28.3" height="4.3" fill="#49b2df"/>
<rect x="149.4" y="710.9" width="12.3" height="4.3" fill="#49b1df"/>
<rect x="161.4" y="710.9" width="4.3" height="4.3" fill="#48b1e0"/>
<rect x="165.4" y="710.9" width="4.3" height="4.3" fill="#48b0e0"/>
<rect x="169.4" y="710.9" width="4.3" height="4.3" fill="#48afe0"/>
<rect x="173.4" y="710.9" width="4.3" height="4.3" fill="#48aedf"/>
<rect x="177.4" y="710.9" width="4.3" height="4.3" fill="#48acdf"/>
<rect x="181.4" y="710.9" width="4.3" height="4.3" fill="#48abde"/>
<rect x="185.4" y="710.9" width="4.3" height="4.3" fill="#48a9de"/>
<rect x="189.4" y="710.9" width="4.3" height="4.3" fill="#48a8dd"/>
<rect x="193.4" y="710.9" width="4.3" height="4.3" fill="#48a7dd"/>
<rect x="197.4" y="710.9" width="8.3" height="4.3" fill="#48a6dd"/>
<rect x="205.4" y="710.9" width="4.3" height="4.3" fill="#48a7dd"/>
<rect x="209.4" y="710.9" width="4.3" height="4.3" fill="#48a8dd"/>
<rect x="213.4" y="710.9" width="4.3" height="4.3" fill="#48aade"/>
<rect x="217.4" y="710.9" width="4.3" height="4.3" fill="#48acdf"/>
<rect x="221.4" y="710.9" width="4.3" height="4.3" fill="#48addf"/>
<rect x="57.4" y="714.9" width="4.3" height="4.3" fill="#49b1df"/>
<rect x="61.4" y="714.9" width="4.3" height="4.3" fill="#48b0e0"/>
<rect x="65.4" y="714.9" width="4.3" height="4.3" fill="#48addf"/>
<rect x="69.4" y="714.9" width="4.3" height="4.3" fill="#48a9de"/>
<rect x="73.4" y="714.9" width="4.3" height="4.3" fill="#48a2db"/>
<rect x="77.4" y="714.9" width="4.3" height="4.3" fill="#489cd9"/>
<rect x="81.4" y="714.9" width="4.3" height="4.3" fill="#4896d7"/>
<rect x="85.4" y="714.9" width="4.3" height="4.3" fill="#4892d5"/>
<rect x="89.4" y="714.9" width="4.3" height="4.3" fill="#4991d5"/>
<rect x="93.4" y="714.9" width="4.3" height="4.3" fill="#4893d6"/>
<rect x="97.4" y="714.9" width="4.3" height="4.3" fill="#4899d8"/>
<rect x="101.4" y="714.9" width="4.3" height="4.3" fill="#48a0db"/>
<rect x="105.4" y="714.9" width="4.3" height="4.3" fill="#48a5dc"/>
<rect x="109.4" y="714.9" width="4.3" height="4.3" fill="#48a9de"/>
<rect x="113.4" y="714.9" width="4.3" height="4.3" fill="#48afe0"/>
<rect x="117.4" y="714.9" width="4.3" height="4.3" fill="#49b1df"/>
<rect x="121.4" y="714.9" width="44.3" height="4.3" fill="#49b2df"/>
<rect x="165.4" y="714.9" width="12.3" height="4.3" fill="#49b1df"/>
<rect x="177.4" y="714.9" width="8.3" height="4.3" fill="#48b0e0"/>
<rect x="185.4" y="714.9" width="8.3" height="4.3" fill="#48afe0"/>
<rect x="193.4" y="714.9" width="16.3" height="4.3" fill="#48aedf"/>
<rect x="209.4" y="714.9" width="4.3" height="4.3" fill="#48afe0"/>
<rect x="213.4" y="714.9" width="8.3" height="4.3" fill="#48b0e0"/>
<rect x="221.4" y="714.9" width="4.3" height="4.3" fill="#48b1e0"/>
<rect x="57.4" y="718.9" width="4.3" height="4.3" fill="#49b1df"/>
<rect x="61.4" y="718.9" width="4.3" height="4.3" fill="#48b0e0"/>
<rect x="65.4" y="718.9" width="4.3" height="4.3" fill="#48aedf"/>
<rect x="69.4" y="718.9" width="4.3" height="4.3" fill="#48aade"/>
<rect x="73.4" y="718.9" width="4.3" height="4.3" fill="#48a5dc"/>
<rect x="77.4" y="718.9" width="4.3" height="4.3" fill="#489fda"/>
<rect x="81.4" y="718.9" width="4.3" height="4.3" fill="#489ad9"/>
<rect x="85.4" y="718.9" width="4.3" height="4.3" fill="#4897d7"/>
<rect x="89.4" y="718.9" width="4.3" height="4.3" fill="#4896d7"/>
<rect x="93.4" y="718.9" width="4.3" height="4.3" fill="#4898d8"/>
<rect x="97.4" y="718.9" width="4.3" height="4.3" fill="#489cd9"/>
<rect x="101.4" y="718.9" width="4.3" height="4.3" fill="#48a2db"/>
<rect x="105.4" y="718.9" width="4.3" height="4.3" fill="#48a6dd"/>
<rect x="109.4" y="718.9" width="4.3" height="4.3" fill="#48aade"/>
<rect x="113.4" y="718.9" width="4.3" height="4.3" fill="#48afe0"/>
<rect x="117.4" y="718.9" width="4.3" height="4.3" fill="#49b1df"/>
<rect x="121.4" y="718.9" width="64.3" height="4.3" fill="#49b2df"/>
<rect x="185.4" y="718.9" width="32.3" height="4.3" fill="#49b1df"/>
<rect x="217.4" y="718.9" width="8.3" height="4.3" fill="#49b2df"/>
<rect x="57.4" y="722.9" width="4.3" height="4.3" fill="#49b2df"/>
<rect x="61.4" y="722.9" width="4.3" height="4.3" fill="#49b1df"/>
<rect x="65.4" y="722.9" width="4.3" height="4.3" fill="#48b0e0"/>
<rect x="69.4" y="722.9" width="4.3" height="4.3" fill="#48addf"/>
<rect x="73.4" y="722.9" width="4.3" height="4.3" fill="#48aade"/>
<rect x="77.4" y="722.9" width="4.3" height="4.3" fill="#48a6dd"/>
<rect x="81.4" y="722.9" width="4.3" height="4.3" fill="#48a2db"/>
<rect x="85.4" y="722.9" width="4.3" height="4.3" fill="#48a0db"/>
<rect x="89.4" y="722.9" width="4.3" height="4.3" fill="#489fda"/>
<rect x="93.4" y="722.9" width="4.3" height="4.3" fill="#48a0db"/>
<rect x="97.4" y="722.9" width="4.3" height="4.3" fill="#48a3dc"/>
<rect x="101.4" y="722.9" width="4.3" height="4.3" fill="#48a7dd"/>
<rect x="105.4" y="722.9" width="4.3" height="4.3" fill="#48aade"/>
<rect x="109.4" y="722.9" width="4.3" height="4.3" fill="#48acdf"/>
<rect x="113.4" y="722.9" width="4.3" height="4.3" fill="#48b0e0"/>
<rect x="117.4" y="722.9" width="12.3" height="4.3" fill="#49b2df"/>
<rect x="129.4" y="722.9" width="24.3" height="4.3" fill="#4ab2de"/>
<rect x="153.4" y="722.9" width="72.3" height="4.3" fill="#49b2df"/>
</g></g>
<line x1="65.7" y1="566.9" x2="65.7" y2="720.6" stroke="#3c4a58" stroke-width="1.0"/>
<line x1="65.4" y1="720.2" x2="220.3" y2="720.2" stroke="#3c4a58" stroke-width="1.0"/>
<line x1="103.9" y1="566.9" x2="103.9" y2="720.6" stroke="#d6ecf5" stroke-width="1.6"/>
<text x="64.6" y="571.8" font-size="13.7" text-anchor="end">0.6</text>
<text x="64.6" y="613.4" font-size="13.7" text-anchor="end">0.4</text>
<text x="64.6" y="650.9" font-size="13.7" text-anchor="end">0.2</text>
<text x="64.6" y="687.5" font-size="13.7" text-anchor="end">0</text>
<text x="103.9" y="733.6" font-size="13.7" text-anchor="middle">0</text>
<text x="139.8" y="733.6" font-size="13.7" text-anchor="middle">0.2</text>
<text x="179.6" y="733.6" font-size="13.7" text-anchor="middle">0.4</text>
<text x="218.8" y="733.6" font-size="13.7" text-anchor="middle">0.6</text>
<text x="155.4" y="746.7" font-size="13.7" text-anchor="middle">Time, relative to stimulus onset (s)</text>
<text x="150.4" y="763.9" font-size="13.7" text-anchor="middle">Test on C2 task</text>
<text x="24" y="653.3" font-size="13.9" text-anchor="middle" transform="rotate(-90 24 653.3)">Train on C1 task</text>
<text x="43.4" y="644.9" font-size="13.7" text-anchor="middle" transform="rotate(-90 43.4 644.9)">Time, relative to stimulus onset (s)</text>
<defs><linearGradient id="cbg" x1="0" y1="1" x2="0" y2="0">
<stop offset="0.000" stop-color="#483a9c"/>
<stop offset="0.048" stop-color="#4b47a7"/>
<stop offset="0.095" stop-color="#4b53b0"/>
<stop offset="0.143" stop-color="#4c5db8"/>
<stop offset="0.190" stop-color="#4c65bc"/>
<stop offset="0.238" stop-color="#4c6dc0"/>
<stop offset="0.286" stop-color="#4a7fcb"/>
<stop offset="0.333" stop-color="#4894d6"/>
<stop offset="0.381" stop-color="#48aade"/>
<stop offset="0.429" stop-color="#50bcd8"/>
<stop offset="0.476" stop-color="#56c5bf"/>
<stop offset="0.524" stop-color="#58c8af"/>
<stop offset="0.571" stop-color="#5bc89d"/>
<stop offset="0.619" stop-color="#66c880"/>
<stop offset="0.667" stop-color="#87cb58"/>
<stop offset="0.714" stop-color="#b3c942"/>
<stop offset="0.762" stop-color="#d1b040"/>
<stop offset="0.810" stop-color="#e0aa44"/>
<stop offset="0.857" stop-color="#e7bb42"/>
<stop offset="0.905" stop-color="#e8dc3d"/>
<stop offset="0.952" stop-color="#e4ea3f"/>
<stop offset="1.000" stop-color="#e2f240"/>
<stop offset="1" stop-color="#e2f240"/>
</linearGradient></defs>
<rect x="228.5" y="567.4" width="16.1" height="152.3" fill="url(#cbg)" stroke="#222" stroke-width="1"/>
<line x1="242.6" y1="617.6" x2="244.6" y2="617.6" stroke="#222" stroke-width="1"/>
<line x1="242.6" y1="714" x2="244.6" y2="714" stroke="#222" stroke-width="1"/>
<text x="245.3" y="623" font-size="12">0.6</text>
<text x="245.3" y="718.8" font-size="12">0.4</text>
<text x="263.2" y="647.3" font-size="12.8" text-anchor="middle" transform="rotate(90 263.2 647.3)">Classifier accuracy</text>
<text x="287.6" y="498.4" font-size="17" font-weight="bold">c</text>
<text x="301.3" y="498.4" font-size="14.9">Color category decoding between</text>
<text x="299.6" y="516" font-size="14.9">C1 task and C2 task with balanced</text>
<text x="337.2" y="534" font-size="14.9">response direction trials</text>
<path d="M343.4,633.9C344.8,633.9 348.6,633.9 352,633.5C355.5,633 360.1,632.1 364.1,631.1C368.1,630 371.7,628.6 376.1,627.4C380.5,626.2 386.6,625.4 390.6,623.8C394.6,622.2 396.6,620.2 400.2,617.8C403.8,615.4 408.2,612.6 412.3,609.4C416.3,606.2 421.1,601.7 424.3,598.5C427.5,595.3 429.7,591.8 431.5,590.1C433.3,588.4 433.9,588.2 435.1,588.2C436.3,588.2 437.3,588.4 438.7,590.1C440.2,591.8 441.6,593.9 443.6,598.5C445.6,603.2 448.4,611 450.8,617.8C453.2,624.6 456,633.5 458,639.5C460,645.5 461.4,650.8 462.8,653.9C464.2,657.1 465,657.7 466.4,658.3C467.9,658.9 469.5,658.5 471.3,657.5C473.1,656.6 475.1,654.7 477.3,652.7C479.5,650.7 482.1,647.9 484.5,645.5C486.9,643.1 489.5,640.8 491.7,638.3C493.9,635.8 496.8,631.9 497.8,630.6L497.8,704C496.4,704.7 491.9,706.4 489.3,708.1C486.7,709.8 484.5,711.9 482.1,714.1C479.7,716.4 477.3,719.4 474.9,721.4C472.5,723.4 469.5,725.8 467.6,726.2C465.8,726.6 465.6,725.8 464,723.8C462.4,721.8 460.2,717.8 458,714.1C455.8,710.5 453.2,706.5 450.8,702.1C448.4,697.7 446,692.1 443.6,687.6C441.2,683.2 438.7,678.5 436.3,675.6C433.9,672.7 431.5,671.3 429.1,670.3C426.7,669.3 425.1,669.4 421.9,669.6C418.7,669.7 413.9,670.5 409.8,671.3C405.8,672.1 401.4,673.3 397.8,674.4C394.2,675.5 392.6,677.2 388.2,678C383.8,678.8 376.1,678.8 371.3,679.2C366.5,679.6 362.5,679.4 359.3,680.4C356.1,681.4 354.7,684 352,685.2C349.4,686.5 344.8,687.6 343.4,688.1Z" fill="#c3dfea" stroke="#8fb0c4" stroke-width="0.8"/>
<line x1="344.3" y1="660.9" x2="497.8" y2="660.9" stroke="#707070" stroke-width="1.1" stroke-dasharray="16.6 17.4"/>
<path d="M343.4,661.2C344.4,660.8 347,660 349.6,659.2C352.3,658.4 356.1,657.1 359.3,656.3C362.5,655.5 365.7,655 368.9,654.4C372.1,653.8 375.1,653.3 378.5,652.7C381.9,652.2 386.6,651.7 389.4,651C392.2,650.4 393,650 395.4,648.6C397.8,647.3 401,644.6 403.8,643.1C406.6,641.6 409.6,640.7 412.3,639.5C414.9,638.3 417.5,636.8 419.5,635.9C421.5,634.9 422.7,634.7 424.3,633.9C425.9,633.2 427.7,632.3 429.1,631.5C430.5,630.8 431.5,629.6 432.7,629.4C433.9,629.1 434.9,629 436.3,629.8C437.7,630.7 439.6,632.5 441.2,634.7C442.8,636.9 444.4,639.7 446,643.1C447.6,646.5 449.2,650.9 450.8,655.1C452.4,659.3 454,664.2 455.6,668.4C457.2,672.6 458.8,676.8 460.4,680.4C462,684 463.8,688.3 465.2,690.1C466.6,691.9 467.6,691.3 468.9,691.3C470.1,691.3 471.1,691.1 472.5,690.1C473.9,689.1 475.5,687 477.3,685.2C479.1,683.4 481.3,680.9 483.3,679.2C485.3,677.5 486.9,677.1 489.3,675.1C491.7,673.1 496.4,668.5 497.8,667.2" fill="none" stroke="#3f72a6" stroke-width="1.3" stroke-linejoin="round"/>
<line x1="343.5" y1="571.2" x2="343.5" y2="724.8" stroke="#333" stroke-width="1.0"/>
<line x1="343.5" y1="722" x2="345.8" y2="722" stroke="#333" stroke-width="1"/>
<text x="341.5" y="727.5" font-size="13.7" text-anchor="end">0.35</text>
<line x1="343.5" y1="701.7" x2="345.8" y2="701.7" stroke="#333" stroke-width="1"/>
<text x="341.5" y="707.2" font-size="13.7" text-anchor="end">0.4</text>
<line x1="343.5" y1="681.5" x2="345.8" y2="681.5" stroke="#333" stroke-width="1"/>
<text x="341.5" y="687" font-size="13.7" text-anchor="end">0.45</text>
<line x1="343.5" y1="661.2" x2="345.8" y2="661.2" stroke="#333" stroke-width="1"/>
<text x="341.5" y="666.7" font-size="13.7" text-anchor="end">0.5</text>
<line x1="343.5" y1="640.9" x2="345.8" y2="640.9" stroke="#333" stroke-width="1"/>
<text x="341.5" y="646.4" font-size="13.7" text-anchor="end">0.55</text>
<line x1="343.5" y1="620.6" x2="345.8" y2="620.6" stroke="#333" stroke-width="1"/>
<text x="341.5" y="626.1" font-size="13.7" text-anchor="end">0.6</text>
<line x1="343.5" y1="600.4" x2="345.8" y2="600.4" stroke="#333" stroke-width="1"/>
<text x="341.5" y="605.9" font-size="13.7" text-anchor="end">0.65</text>
<line x1="343.5" y1="580.1" x2="345.8" y2="580.1" stroke="#333" stroke-width="1"/>
<text x="341.5" y="585.6" font-size="13.7" text-anchor="end">0.7</text>
<line x1="343" y1="724.5" x2="497.8" y2="724.5" stroke="#333" stroke-width="1.0"/>
<line x1="386.2" y1="724.5" x2="386.2" y2="722.2" stroke="#333" stroke-width="1"/>
<text x="386.2" y="737.7" font-size="13.7" text-anchor="middle">0</text>
<line x1="425.8" y1="724.5" x2="425.8" y2="722.2" stroke="#333" stroke-width="1"/>
<text x="425.8" y="737.7" font-size="13.7" text-anchor="middle">0.2</text>
<line x1="465.6" y1="724.5" x2="465.6" y2="722.2" stroke="#333" stroke-width="1"/>
<text x="465.6" y="737.7" font-size="13.7" text-anchor="middle">0.4</text>
<text x="306.8" y="655.4" font-size="13.5" text-anchor="middle" transform="rotate(-90 306.8 655.4)">Classifier accuracy</text>
<text x="417.9" y="753" font-size="13.9" text-anchor="middle">Time, relative to stimulus onset (s)</text>
<line x1="358.9" y1="557.7" x2="384.2" y2="557.7" stroke="#3d6e9e" stroke-width="1.2"/>
<text x="391.2" y="562.2" font-size="13.5">Train C1, Test C2</text>
<line x1="393" y1="570.8" x2="407" y2="570.8" stroke="#3c78b8" stroke-width="3.4"/>
<text x="369.1" y="586.3" font-size="13.4">p=0.0039</text>
<text x="0.5" y="784.7" font-size="17" font-weight="bold">d</text>
<text x="24.1" y="784.7" font-size="14.85">Response direction is not cross decoded</text>
<text x="27.6" y="802.2" font-size="14.85">between C1 task and C2 task in LPFC</text>
<path d="M63.3,915.3C63.8,915.7 64.8,916.7 66,917.5C67.2,918.4 69,919.7 70.5,920.5C72,921.4 73.5,921.9 75,922.8C76.5,923.7 78,924.7 79.5,925.8C81,926.9 82.6,928.4 84,929.5C85.4,930.7 86.5,932.2 87.8,932.9C89,933.5 90.3,933.4 91.5,933.5C92.8,933.5 94,933.8 95.3,933C96.5,932.2 98,929.7 99,928.8C100,927.8 100.3,927.5 101.3,927.3C102.3,927 103.7,927.3 105,927.3C106.4,927.2 108,927.4 109.5,927C111,926.6 112.7,925.9 114,925C115.4,924.2 116.5,923.2 117.8,921.7C119,920.2 120.2,918.7 121.5,916C122.9,913.3 124.5,908.8 126,905.5C127.5,902.3 129,899.4 130.5,896.5C132,893.7 133.8,890.6 135,888.3C136.3,885.9 137,883.8 138,882.3C139,880.8 139.8,880.2 141,879.3C142.3,878.4 144.3,877 145.5,877C146.8,877 147.3,877.5 148.5,879.3C149.8,881 151.5,884.2 153,887.5C154.5,890.9 156,896.2 157.5,899.6C159,902.9 160.4,905.6 162,907.8C163.7,910.1 165.5,913.4 167.3,913.1C169,912.7 170.7,908.3 172.5,905.6C174.4,902.8 176.8,899.2 178.5,896.6C180.3,893.9 181.7,891.4 183.1,889.8C184.4,888.2 185.6,887 186.8,886.8C188.1,886.6 189.3,887.6 190.6,888.7C191.8,889.9 193.1,892.7 194.3,893.6C195.6,894.4 196.7,892.5 198.1,893.6C199.4,894.6 201.1,897.6 202.6,899.6C204.1,901.6 205.6,903.7 207.1,905.6C208.6,907.4 209.8,909.8 211.6,910.8C213.3,911.8 216.6,911.4 217.6,911.6L217.6,992.7C216.6,991.2 213.3,986.7 211.6,983.7C209.8,980.7 208.6,977.9 207.1,974.6C205.6,971.4 203.8,966.9 202.6,964.1C201.3,961.4 200.8,959.2 199.6,958.1C198.3,957.1 196.4,958.2 195.1,957.8C193.7,957.4 192.6,956.7 191.3,955.9C190.1,955 188.8,952.5 187.6,952.9C186.3,953.2 185.2,956 183.8,958.1C182.4,960.3 180.8,963.1 179.3,965.6C177.8,968.1 176.3,969.9 174.8,973.1C173.3,976.4 171.7,982.5 170.3,985.2C168.9,987.8 167.9,988.7 166.5,988.9C165.2,989.2 163.5,988 162,986.7C160.5,985.3 159,983.4 157.5,980.7C156,977.9 154.4,973.9 153,970.1C151.6,966.4 150.5,961 149.3,958.1C148,955.2 146.6,953.6 145.5,952.9C144.4,952.1 143.8,953.5 142.5,953.6C141.3,953.7 139,953.4 138,953.6C137,953.9 137.3,954.4 136.5,955.1C135.8,955.7 134.8,955.8 133.5,957.3C132.3,958.8 130.5,961.4 129,964.1C127.5,966.7 126,970.1 124.5,973.1C123,976.1 121.4,979.2 120,982.1C118.7,985 117.5,988.3 116.3,990.3C115,992.3 113.9,993.4 112.5,994.1C111.2,994.8 109.8,994.3 108,994.4C106.3,994.5 103.9,994.3 102,994.8C100.2,995.4 98.3,996.9 96.8,997.8C95.3,998.8 94.1,1000.1 93,1000.5C91.9,1001 91.3,1001 90,1000.5C88.8,1000.1 87,998.8 85.5,997.8C84,996.9 82.5,995.5 81,994.8C79.5,994.2 78,994.2 76.5,994.1C75,994 73.5,994.3 72,994.1C70.5,993.8 69,993.1 67.5,992.6C66.1,992.1 64,991.3 63.3,991.1Z" fill="#bfdeec" stroke="#8fb0c4" stroke-width="0.8"/>
<line x1="64.2" y1="960.4" x2="218.3" y2="960.4" stroke="#707070" stroke-width="1.2" stroke-dasharray="17.6 16.4"/>
<path d="M63.3,952.8C64,953.5 65.8,956.1 67.5,956.9C69.2,957.6 71.8,956.9 73.5,957.3C75.3,957.7 76.5,958.5 78,959.3C79.5,960 81,960.8 82.5,961.8C84,962.9 85.4,964.6 87,965.6C88.6,966.6 90.8,967.7 92.3,967.8C93.8,967.9 94.9,967.2 96,966.3C97.1,965.4 97.8,963.2 99,962.3C100.3,961.3 101.8,961 103.5,960.8C105.3,960.5 107.8,960.8 109.5,960.6C111.3,960.4 112.8,960.4 114,959.6C115.3,958.8 116,957.6 117,955.8C118,954.1 118.8,951.9 120,949.1C121.3,946.2 123,941.8 124.5,938.6C126,935.3 127.5,932.1 129,929.5C130.5,927 132.3,925.1 133.5,923.5C134.8,922 135.8,921 136.5,920.2C137.3,919.5 137.1,919.8 138,919.1C138.9,918.4 140.4,916.9 141.8,916.1C143.1,915.3 145,914 146.3,914.3C147.5,914.5 148.1,915.3 149.3,917.6C150.4,919.9 151.6,924.3 153,928.1C154.4,931.8 156,936.7 157.5,940.1C159,943.5 160.5,946.5 162,948.4C163.5,950.2 165.2,952 166.5,951.4C167.9,950.7 168.9,946.7 170.3,944.6C171.7,942.5 173.3,940.9 174.8,938.6C176.3,936.3 177.8,933.6 179.3,931.1C180.8,928.6 182.4,925.5 183.8,923.6C185.2,921.7 186.3,920.1 187.6,919.8C188.8,919.6 190.1,921.1 191.3,922.1C192.6,923.1 193.7,925.1 195.1,925.8C196.4,926.6 198.3,925.8 199.6,926.6C200.8,927.3 201.4,928.3 202.6,930.3C203.7,932.3 205.1,936.1 206.3,938.6C207.6,941.1 208.8,943.5 210.1,945.4C211.3,947.2 212.6,948.9 213.8,949.9C215.1,950.9 217,951.1 217.6,951.4" fill="none" stroke="#3a70a8" stroke-width="1.3" stroke-linejoin="round" stroke-dasharray="3.8 2.4"/>
<line x1="63.5" y1="846.6" x2="63.5" y2="1000.5" stroke="#333" stroke-width="1.0"/>
<line x1="63.5" y1="986" x2="65.8" y2="986" stroke="#333" stroke-width="1"/>
<text x="61.5" y="991.5" font-size="13.7" text-anchor="end">0.45</text>
<line x1="63.5" y1="960.2" x2="65.8" y2="960.2" stroke="#333" stroke-width="1"/>
<text x="61.5" y="965.7" font-size="13.7" text-anchor="end">0.5</text>
<line x1="63.5" y1="934.3" x2="65.8" y2="934.3" stroke="#333" stroke-width="1"/>
<text x="61.5" y="939.8" font-size="13.7" text-anchor="end">0.55</text>
<line x1="63.5" y1="908.5" x2="65.8" y2="908.5" stroke="#333" stroke-width="1"/>
<text x="61.5" y="914" font-size="13.7" text-anchor="end">0.6</text>
<line x1="63.5" y1="882.6" x2="65.8" y2="882.6" stroke="#333" stroke-width="1"/>
<text x="61.5" y="888.1" font-size="13.7" text-anchor="end">0.65</text>
<line x1="63.5" y1="856.8" x2="65.8" y2="856.8" stroke="#333" stroke-width="1"/>
<text x="61.5" y="862.3" font-size="13.7" text-anchor="end">0.7</text>
<line x1="63" y1="1000.5" x2="218.3" y2="1000.5" stroke="#333" stroke-width="1.0"/>
<line x1="104.6" y1="1000.5" x2="104.6" y2="998.2" stroke="#333" stroke-width="1"/>
<text x="104.6" y="1013.7" font-size="13.7" text-anchor="middle">0</text>
<line x1="145.8" y1="1000.5" x2="145.8" y2="998.2" stroke="#333" stroke-width="1"/>
<text x="145.8" y="1013.7" font-size="13.7" text-anchor="middle">0.2</text>
<line x1="186.4" y1="1000.5" x2="186.4" y2="998.2" stroke="#333" stroke-width="1"/>
<text x="186.4" y="1013.7" font-size="13.7" text-anchor="middle">0.4</text>
<text x="31.2" y="925.6" font-size="13.7" text-anchor="middle" transform="rotate(-90 31.2 925.6)">Classifier accuracy</text>
<line x1="77.2" y1="829.7" x2="107.5" y2="829.7" stroke="#6fa3d3" stroke-width="1.3" stroke-dasharray="4.5 3.5"/>
<text x="115.8" y="834.2" font-size="13.4">Train C1, test C2</text>
<circle cx="134.3" cy="847.2" r="1.3" fill="#4a86c0"/>
<text x="142.7" y="851" font-size="13.0">p=0.0229</text>
<path d="M274.8,897C275.6,897.3 277.6,898.3 279.6,898.8C281.7,899.4 284.7,899.9 287.3,900.1C289.8,900.3 292.4,900.2 294.9,900.1C297.5,899.9 300.3,899.6 302.6,899.3C304.9,899 306.9,898.5 308.7,898.2C310.5,898 311.8,897.6 313.3,897.8C314.8,898 316.4,899.1 317.9,899.3C319.4,899.5 320.9,899.1 322.5,898.8C324,898.6 325.3,898.1 327.1,897.8C328.9,897.5 331.1,897.3 333.2,897C335.2,896.8 337.3,896.5 339.3,896.2C341.3,896 343.6,895.8 345.4,895.5C347.2,895.1 348.2,894.8 350,894.3C351.8,893.7 353.6,893 356.1,892.4C358.7,891.9 362.5,891 365.3,890.9C368.1,890.8 370.4,890.9 372.9,891.7C375.5,892.4 378,894.2 380.6,895.5C383.1,896.8 385.7,897.9 388.2,899.3C390.8,900.7 393.6,902.5 395.9,903.9C398.2,905.3 400.2,906.8 402,907.7C403.8,908.6 405.1,909.2 406.6,909.2C408.1,909.2 409.4,908.4 411.2,907.7C413,907.1 415.3,906.3 417.3,905.4C419.3,904.5 421.5,903.6 423.4,902.4C425.3,901.1 427.9,898.5 428.8,897.8L428.8,969.7C427.9,969.8 425.3,970.2 423.4,970.4C421.5,970.7 419.3,970.7 417.3,971.2C415.3,971.7 413,973 411.2,973.5C409.4,974 408.1,974.5 406.6,974.3C405.1,974 403.8,972.9 402,972C400.2,971.1 398.2,970.4 395.9,968.9C393.6,967.4 390.8,964.8 388.2,962.8C385.7,960.8 383.1,958.5 380.6,956.7C378,954.9 375.5,953.1 372.9,952.1C370.4,951.1 367.8,950.9 365.3,950.6C362.7,950.2 360.2,950 357.6,949.8C355.1,949.5 351.8,949 350,949C348.2,949 348.5,949.6 347,949.8C345.4,950 342.9,950.2 340.8,950.2C338.8,950.2 336.8,950.1 334.7,949.8C332.7,949.4 330.6,948.8 328.6,948.3C326.6,947.7 324.3,947 322.5,946.7C320.7,946.5 319.7,946.3 317.9,946.7C316.1,947.1 313.8,948.3 311.8,949C309.7,949.8 307.6,950.7 305.7,951.3C303.7,951.9 302.1,952.4 300.3,952.5C298.5,952.7 297.1,952.3 294.9,952.1C292.8,951.9 289.8,951.6 287.3,951.3C284.7,951.1 281.7,950.7 279.6,950.5C277.6,950.4 275.6,950.3 274.8,950.2Z" fill="#d0e3cb" stroke="#909e8d" stroke-width="0.7"/>
<line x1="274.8" y1="922.8" x2="428.7" y2="922.8" stroke="#707070" stroke-width="1.2" stroke-dasharray="16 18"/>
<path d="M274.8,924.2C275.6,924.4 277.8,925 279.6,925.3C281.5,925.6 283.7,925.9 285.8,926.1C287.8,926.3 289.8,926.5 291.9,926.5C293.9,926.6 296.2,926.6 298,926.4C299.8,926.2 300.9,925.7 302.6,925.3C304.2,924.9 306.2,924.2 307.9,923.8C309.7,923.4 311.4,923.2 313.3,923C315.2,922.8 317.4,922.7 319.4,922.7C321.5,922.7 323.5,922.8 325.5,923C327.6,923.2 329.6,923.6 331.7,923.8C333.7,923.9 335.7,923.9 337.8,923.8C339.8,923.7 341.9,923.6 343.9,923.3C345.9,923 348,922.3 350,921.9C352,921.6 354.1,921.7 356.1,921.5C358.2,921.2 360.5,920.6 362.2,920.4C364,920.2 365,920.1 366.8,920.3C368.6,920.4 370.9,920.8 372.9,921.5C375,922.2 377,923.4 379.1,924.5C381.1,925.7 383.1,927.1 385.2,928.4C387.2,929.6 389.3,930.8 391.3,932.2C393.3,933.6 395.6,935.5 397.4,936.8C399.2,938.1 400.5,939 402,939.8C403.5,940.7 405.1,941.7 406.6,941.7C408.1,941.7 409.7,940.5 411.2,939.8C412.7,939.2 414,938.1 415.8,937.6C417.6,937 419.7,937.2 421.9,936.5C424.1,935.8 427.6,933.9 428.8,933.4" fill="none" stroke="#557a50" stroke-width="1.3" stroke-linejoin="round" stroke-dasharray="3.8 2.4"/>
<line x1="274.8" y1="845.6" x2="274.8" y2="999.8" stroke="#6e6e6e" stroke-width="1.4"/>
<line x1="274.8" y1="999.4" x2="277.3" y2="999.4" stroke="#333" stroke-width="1"/>
<text x="272.8" y="1004.9" font-size="13.7" text-anchor="end">0.3</text>
<line x1="274.8" y1="961.2" x2="277.3" y2="961.2" stroke="#333" stroke-width="1"/>
<text x="272.8" y="966.7" font-size="13.7" text-anchor="end">0.4</text>
<line x1="274.8" y1="923" x2="277.3" y2="923" stroke="#333" stroke-width="1"/>
<text x="272.8" y="928.5" font-size="13.7" text-anchor="end">0.5</text>
<line x1="274.8" y1="884.9" x2="277.3" y2="884.9" stroke="#333" stroke-width="1"/>
<text x="272.8" y="890.4" font-size="13.7" text-anchor="end">0.6</text>
<line x1="274.8" y1="846.7" x2="277.3" y2="846.7" stroke="#333" stroke-width="1"/>
<text x="272.8" y="852.2" font-size="13.7" text-anchor="end">0.7</text>
<line x1="274.8" y1="980.3" x2="276.9" y2="980.3" stroke="#333" stroke-width="1"/>
<line x1="274.8" y1="942.1" x2="276.9" y2="942.1" stroke="#333" stroke-width="1"/>
<line x1="274.8" y1="904" x2="276.9" y2="904" stroke="#333" stroke-width="1"/>
<line x1="274.8" y1="865.8" x2="276.9" y2="865.8" stroke="#333" stroke-width="1"/>
<line x1="274.1" y1="999.8" x2="428.7" y2="999.8" stroke="#6e6e6e" stroke-width="1.4"/>
<line x1="315.4" y1="999.8" x2="315.4" y2="997.3" stroke="#333" stroke-width="1"/>
<text x="315.4" y="1013.6" font-size="13.7" text-anchor="middle">0</text>
<line x1="355.6" y1="999.8" x2="355.6" y2="997.3" stroke="#333" stroke-width="1"/>
<text x="355.6" y="1013.6" font-size="13.7" text-anchor="middle">0.2</text>
<line x1="396.2" y1="999.8" x2="396.2" y2="997.3" stroke="#333" stroke-width="1"/>
<text x="396.2" y="1013.6" font-size="13.7" text-anchor="middle">0.4</text>
<text x="246.3" y="922.7" font-size="13.7" text-anchor="middle" transform="rotate(-90 246.3 922.7)">Classifier accuracy</text>
<line x1="285.2" y1="855.3" x2="314.3" y2="855.3" stroke="#4e7744" stroke-width="1.2" stroke-dasharray="4 3"/>
<text x="317.4" y="860.2" font-size="13.25">Train C2, test C1</text>
<text x="240.5" y="1028.3" font-size="13.6" text-anchor="middle">Time, relative to stimulus onset (s)</text>
<text x="447.5" y="786.8" font-size="17" font-weight="bold">e</text>
<text x="462.8" y="786.8" font-size="14.8">Color category decoding between</text>
<text x="479.5" y="803.5" font-size="14.85">S1 task and C1 task in LPFC</text>
<path d="M489.9,900.6C490.8,900.3 493.7,899.2 495.6,898.7C497.5,898.2 499.4,898 501.3,897.7C503.2,897.5 505.2,897.1 507.1,897.3C509,897.5 511.1,898.1 512.8,898.7C514.5,899.3 515.4,900.2 517.1,900.9C518.8,901.6 520.8,902.4 522.8,903C524.9,903.7 527.4,905 529.3,904.9C531.2,904.8 532.5,903.7 534.3,902.3C536.1,900.9 538.1,898.5 540,896.6C542,894.7 543.9,892.5 545.8,890.8C547.7,889.2 549.6,887.9 551.5,886.5C553.4,885.2 555.6,883.7 557.3,883C558.9,882.2 560.3,882 561.6,882.2C562.8,882.5 563.7,883.2 565,884.4C566.3,885.6 567.9,887.4 569.3,889.4C570.7,891.4 572.2,894.2 573.6,896.6C575,899 576.5,901.6 577.9,903.7C579.3,905.9 580.5,907.6 582.2,909.5C583.9,911.4 586,913.5 587.9,915.2C589.8,916.9 591.8,918.3 593.7,919.5C595.6,920.7 597.5,921.5 599.4,922.4C601.3,923.2 603.2,924 605.1,924.5C607,925 609,925.2 610.9,925.2C612.8,925.2 614.7,924.9 616.6,924.5C618.5,924.2 620.4,923.7 622.3,923.1C624.3,922.5 626.2,921.8 628.1,920.9C630,920.1 631.9,919 633.8,918.1C635.7,917.1 637.9,915.9 639.5,915.2C641.2,914.5 643.1,914 643.8,913.8L643.8,960.4C643.1,959.9 641.2,958.4 639.5,957.5C637.9,956.5 635.7,955.5 633.8,954.6C631.9,953.8 630,953.1 628.1,952.5C626.2,951.9 624.3,951.4 622.3,951C620.4,950.7 618.5,950.6 616.6,950.3C614.7,950.1 612.8,949.8 610.9,949.6C609,949.4 607,949.3 605.1,949.2C603.2,949.1 601.3,948.9 599.4,948.9C597.5,948.8 595.6,949 593.7,948.9C591.8,948.8 589.8,948.6 587.9,948.5C586,948.3 584.1,948.5 582.2,948.2C580.3,947.9 578.4,947.3 576.5,946.7C574.6,946.1 572.6,945.2 570.7,944.6C568.8,944 566.8,942.6 565,943.2C563.2,943.7 561.6,946.7 560.1,947.9C558.6,949.1 557.5,949.1 555.8,950.3C554.1,951.6 551.8,953.6 550.1,955.4C548.4,957.2 547.5,958.9 545.8,961.1C544.1,963.2 542,966 540,968.3C538.1,970.5 536.1,973 534.3,974.7C532.5,976.4 531,977.9 529.3,978.3C527.6,978.7 526.1,977.3 524.3,976.9C522.5,976.4 520.5,975.9 518.5,975.4C516.6,975 514.7,974.4 512.8,974C510.9,973.6 509,973.1 507.1,972.8C505.2,972.6 503.2,972.5 501.3,972.6C499.4,972.6 497.5,972.9 495.6,973.3C493.7,973.6 490.8,974.5 489.9,974.7Z" fill="#f7dfc6" stroke="#efc9a6" stroke-width="0.6"/>
<path d="M489.9,903.7C490.8,903.6 493.7,903.1 495.6,902.7C497.5,902.4 499.4,902 501.3,901.6C503.2,901.2 505.2,900.7 507.1,900.6C509,900.5 510.9,900.6 512.8,900.9C514.7,901.2 516.6,901.7 518.5,902.3C520.5,902.9 522.5,904 524.3,904.5C526.1,904.9 527.9,905.3 529.3,905.2C530.7,905.1 531.6,904.7 532.9,903.7C534.2,902.8 535.7,901.1 537.2,899.4C538.6,897.8 540,896.3 541.5,893.7C542.9,891.1 544.3,887 545.8,883.7C547.2,880.3 548.6,876.7 550.1,873.6C551.5,870.5 552.9,867.5 554.4,865C555.8,862.5 557.3,859.9 558.7,858.6C560.1,857.3 561.9,857.2 563,857.2C564,857.2 563.7,857.5 565,858.6C566.3,859.7 568.8,862.2 570.7,863.6C572.6,865 574.6,866 576.5,867.2C578.4,868.4 580.3,869.6 582.2,870.8C584.1,872 586,873.2 587.9,874.4C589.8,875.5 591.8,876.9 593.7,877.9C595.6,879 597.5,879.8 599.4,880.8C601.3,881.8 603.2,882.7 605.1,883.7C607,884.6 609,885.8 610.9,886.5C612.8,887.3 614.7,887.6 616.6,888C618.5,888.3 620.4,888.3 622.3,888.7C624.3,889 626.2,890.4 628.1,890.1C630,889.9 631.9,888.2 633.8,887.3C635.7,886.3 637.9,885.1 639.5,884.4C641.2,883.7 643.1,883.2 643.8,883L643.8,1001.2C643.1,1000.5 641.2,998.2 639.5,996.9C637.9,995.6 635.7,994.5 633.8,993.3C631.9,992.1 630,991.1 628.1,989.7C626.2,988.4 624.3,986.9 622.3,985.4C620.4,984 618.5,982.3 616.6,981.1C614.7,980 612.8,979.5 610.9,978.3C609,977.1 607,975.1 605.1,974C603.2,972.9 601.3,972.5 599.4,971.8C597.5,971.1 595.6,970.8 593.7,969.7C591.8,968.6 589.8,966.8 587.9,965.4C586,963.9 584.1,962.8 582.2,961.1C580.3,959.4 578.4,957.1 576.5,955.3C574.6,953.6 572.6,951.8 570.7,950.3C568.8,948.9 566.5,947.3 565,946.7C563.5,946.1 563.1,946.3 561.6,946.8C560,947.2 557.7,948.4 555.8,949.6C553.9,950.8 551.8,952.5 550.1,953.9C548.4,955.4 547.2,956.6 545.8,958.2C544.3,959.9 543.2,962 541.5,964C539.8,965.9 537.7,968.1 535.7,969.7C533.8,971.2 531.9,972.4 530,973.3C528.1,974.1 526.2,974.4 524.3,974.7C522.4,975.1 520.5,975.4 518.5,975.4C516.6,975.4 514.7,975 512.8,974.7C510.9,974.5 509,974.1 507.1,974C505.2,973.9 503.2,973.8 501.3,974C499.4,974.2 497.5,975 495.6,975.4C493.7,975.9 490.8,976.6 489.9,976.9Z" fill="#9bc18f" fill-opacity="0.42" stroke="#9fbf98" stroke-width="0.6"/>
<line x1="490.6" y1="941" x2="644" y2="941" stroke="#9c9a96" stroke-width="2.0" stroke-dasharray="16.3 17.6"/>
<path d="M489.9,937.4C490.8,937.2 493.7,936.1 495.6,935.7C497.5,935.3 499.4,935.2 501.3,935C503.2,934.8 505.2,934.4 507.1,934.6C509,934.7 510.9,935.5 512.8,936C514.7,936.6 516.6,937.3 518.5,937.9C520.5,938.5 522.4,939 524.3,939.6C526.2,940.2 528.3,941.2 530,941.3C531.7,941.4 532.9,941.3 534.3,940.3C535.7,939.3 537.2,937.1 538.6,935.3C540,933.5 541.5,931.5 542.9,929.6C544.3,927.6 545.8,925.6 547.2,923.8C548.6,922 550.1,920.2 551.5,918.8C552.9,917.4 554.4,916.2 555.8,915.2C557.3,914.3 558.6,913.2 560.1,913.1C561.6,912.9 563.5,913.9 565,914.5C566.5,915.1 567.9,915.6 569.3,916.6C570.7,917.7 572.2,919.5 573.6,920.9C575,922.4 576.5,923.9 577.9,925.2C579.3,926.6 580.5,927.6 582.2,928.8C583.9,930 586,931.5 587.9,932.4C589.8,933.4 591.8,934 593.7,934.6C595.6,935.2 597.5,935.6 599.4,936C601.3,936.4 603.2,936.8 605.1,937C607,937.2 609,937.4 610.9,937.4C612.8,937.4 614.7,937.2 616.6,937C618.5,936.8 620.4,936.5 622.3,936.4C624.3,936.3 626.2,936.4 628.1,936.4C630,936.4 631.9,936.4 633.8,936.4C635.7,936.5 637.9,936.5 639.5,936.7C641.2,936.9 643.1,937.3 643.8,937.4" fill="none" stroke="#e0a24e" stroke-width="1.25" stroke-linejoin="round"/>
<path d="M489.9,940.7C490.8,940.5 493.7,939.9 495.6,939.6C497.5,939.3 499.4,939.3 501.3,938.9C503.2,938.4 505.2,937.1 507.1,937C509,936.9 510.9,937.8 512.8,938.2C514.7,938.5 516.6,938.7 518.5,938.9C520.5,939.1 522.5,939.1 524.3,939.3C526.1,939.5 527.9,940.5 529.3,940.3C530.7,940.1 531.6,939.5 532.9,938.2C534.2,936.8 535.7,934.3 537.2,932.4C538.6,930.5 540,928.6 541.5,926.7C542.9,924.8 544.3,922.9 545.8,920.9C547.2,919 548.6,917.1 550.1,915.2C551.5,913.3 552.9,911.4 554.4,909.5C555.8,907.6 557.5,905 558.7,903.7C559.9,902.5 560.5,902.1 561.6,902C562.6,901.9 563.7,902.4 565,903C566.3,903.7 567.9,904.8 569.3,905.9C570.7,907 572.2,908.5 573.6,909.5C575,910.4 576.5,910.7 577.9,911.6C579.3,912.6 580.5,913.9 582.2,915.2C583.9,916.5 586,918.2 587.9,919.5C589.8,920.8 591.8,922 593.7,923.1C595.6,924.2 597.7,925.4 599.4,926C601.1,926.6 602.3,926.1 603.7,926.7C605.1,927.3 606.6,928.6 608,929.5C609.4,930.5 610.9,931.7 612.3,932.4C613.7,933.1 615.2,933.2 616.6,933.8C618,934.4 619.5,935.3 620.9,936C622.3,936.7 623.8,937.5 625.2,938.1C626.6,938.7 627.8,939.1 629.5,939.6C631.2,940 633.6,940.4 635.2,940.7C636.9,941 638.1,941.2 639.5,941.4C641,941.7 643.1,942 643.8,942.2" fill="none" stroke="#4f8a3d" stroke-width="1.25" stroke-linejoin="round"/>
<line x1="489.5" y1="846.7" x2="489.5" y2="1001.5" stroke="#333" stroke-width="1.0"/>
<line x1="489.5" y1="978.9" x2="491.8" y2="978.9" stroke="#333" stroke-width="1"/>
<text x="487.5" y="984.4" font-size="13.7" text-anchor="end">0.45</text>
<line x1="489.5" y1="940" x2="491.8" y2="940" stroke="#333" stroke-width="1"/>
<text x="487.5" y="945.5" font-size="13.7" text-anchor="end">0.5</text>
<line x1="489.5" y1="901.1" x2="491.8" y2="901.1" stroke="#333" stroke-width="1"/>
<text x="487.5" y="906.6" font-size="13.7" text-anchor="end">0.55</text>
<line x1="489.5" y1="862.2" x2="491.8" y2="862.2" stroke="#333" stroke-width="1"/>
<text x="487.5" y="867.7" font-size="13.7" text-anchor="end">0.6</text>
<line x1="489" y1="1001.5" x2="644" y2="1001.5" stroke="#333" stroke-width="1.0"/>
<line x1="531.5" y1="1001.5" x2="531.5" y2="999.2" stroke="#333" stroke-width="1"/>
<text x="531.5" y="1014.7" font-size="13.7" text-anchor="middle">0</text>
<line x1="572.3" y1="1001.5" x2="572.3" y2="999.2" stroke="#333" stroke-width="1"/>
<text x="572.3" y="1014.7" font-size="13.7" text-anchor="middle">0.2</text>
<line x1="613.3" y1="1001.5" x2="613.3" y2="999.2" stroke="#333" stroke-width="1"/>
<text x="613.3" y="1014.7" font-size="13.7" text-anchor="middle">0.4</text>
<text x="456" y="918.9" font-size="13.7" text-anchor="middle" transform="rotate(-90 456 918.9)">Classifier accuracy</text>
<text x="558.6" y="1028" font-size="13.8" text-anchor="middle">Time, relative to stimulus onset (s)</text>
<line x1="514.9" y1="818.4" x2="539.8" y2="818.4" stroke="#4f8a3d" stroke-width="1.2"/>
<text x="544.7" y="822.6" font-size="13.3">Train S1, Test C1</text>
<line x1="514.9" y1="829.6" x2="539.8" y2="829.6" stroke="#e0a24e" stroke-width="1.2"/>
<text x="544.7" y="834.2" font-size="13.3">Train C1, Test S1</text>
<line x1="552.1" y1="847.1" x2="573.3" y2="847.1" stroke="#e59a45" stroke-width="4.2"/>
<text x="575.4" y="851.4" font-size="13.7">p=0.0019</text>
</svg></body></html>
